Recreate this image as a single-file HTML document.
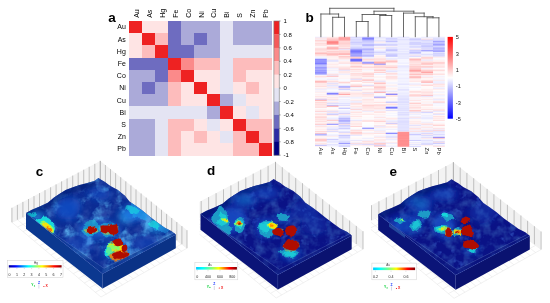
<!DOCTYPE html>
<html><head><meta charset="utf-8"><title>Figure</title>
<style>
html,body{margin:0;padding:0;background:#fff;}
body{width:550px;height:303px;overflow:hidden;}
svg{display:block;font-family:"Liberation Sans",sans-serif;}
.pl{font-weight:bold;font-size:13.5px;fill:#000;}
.t7{font-size:7px;fill:#000;}
.t5{font-size:6px;fill:#000;}
.t3{font-size:3.4px;fill:#222;}
</style></head><body>
<svg width="550" height="303" viewBox="0 0 550 303">
<rect width="550" height="303" fill="#fff"/>

<g shape-rendering="crispEdges">
<rect x="129.40" y="21.00" width="13.22" height="12.50" fill="#ee2222"/>
<rect x="142.32" y="21.00" width="13.22" height="12.50" fill="#fee4e4"/>
<rect x="155.24" y="21.00" width="13.22" height="12.50" fill="#fee4e4"/>
<rect x="168.15" y="21.00" width="13.22" height="12.50" fill="#6e6cc0"/>
<rect x="181.07" y="21.00" width="13.22" height="12.50" fill="#abaad9"/>
<rect x="193.99" y="21.00" width="13.22" height="12.50" fill="#abaad9"/>
<rect x="206.91" y="21.00" width="13.22" height="12.50" fill="#abaad9"/>
<rect x="219.83" y="21.00" width="13.22" height="12.50" fill="#e4e4f3"/>
<rect x="232.75" y="21.00" width="13.22" height="12.50" fill="#abaad9"/>
<rect x="245.66" y="21.00" width="13.22" height="12.50" fill="#abaad9"/>
<rect x="258.58" y="21.00" width="13.22" height="12.50" fill="#abaad9"/>
<rect x="129.40" y="33.20" width="13.22" height="12.50" fill="#fee4e4"/>
<rect x="142.32" y="33.20" width="13.22" height="12.50" fill="#ee2222"/>
<rect x="155.24" y="33.20" width="13.22" height="12.50" fill="#fdbcbc"/>
<rect x="168.15" y="33.20" width="13.22" height="12.50" fill="#6e6cc0"/>
<rect x="181.07" y="33.20" width="13.22" height="12.50" fill="#abaad9"/>
<rect x="193.99" y="33.20" width="13.22" height="12.50" fill="#6e6cc0"/>
<rect x="206.91" y="33.20" width="13.22" height="12.50" fill="#abaad9"/>
<rect x="219.83" y="33.20" width="13.22" height="12.50" fill="#e4e4f3"/>
<rect x="232.75" y="33.20" width="13.22" height="12.50" fill="#abaad9"/>
<rect x="245.66" y="33.20" width="13.22" height="12.50" fill="#abaad9"/>
<rect x="258.58" y="33.20" width="13.22" height="12.50" fill="#abaad9"/>
<rect x="129.40" y="45.40" width="13.22" height="12.50" fill="#fee4e4"/>
<rect x="142.32" y="45.40" width="13.22" height="12.50" fill="#fdbcbc"/>
<rect x="155.24" y="45.40" width="13.22" height="12.50" fill="#ee2222"/>
<rect x="168.15" y="45.40" width="13.22" height="12.50" fill="#6e6cc0"/>
<rect x="181.07" y="45.40" width="13.22" height="12.50" fill="#6e6cc0"/>
<rect x="193.99" y="45.40" width="13.22" height="12.50" fill="#abaad9"/>
<rect x="206.91" y="45.40" width="13.22" height="12.50" fill="#abaad9"/>
<rect x="219.83" y="45.40" width="13.22" height="12.50" fill="#e4e4f3"/>
<rect x="232.75" y="45.40" width="13.22" height="12.50" fill="#e4e4f3"/>
<rect x="245.66" y="45.40" width="13.22" height="12.50" fill="#e4e4f3"/>
<rect x="258.58" y="45.40" width="13.22" height="12.50" fill="#e4e4f3"/>
<rect x="129.40" y="57.60" width="13.22" height="12.50" fill="#6e6cc0"/>
<rect x="142.32" y="57.60" width="13.22" height="12.50" fill="#6e6cc0"/>
<rect x="155.24" y="57.60" width="13.22" height="12.50" fill="#6e6cc0"/>
<rect x="168.15" y="57.60" width="13.22" height="12.50" fill="#ee2222"/>
<rect x="181.07" y="57.60" width="13.22" height="12.50" fill="#fb8a8a"/>
<rect x="193.99" y="57.60" width="13.22" height="12.50" fill="#fdbcbc"/>
<rect x="206.91" y="57.60" width="13.22" height="12.50" fill="#fdbcbc"/>
<rect x="219.83" y="57.60" width="13.22" height="12.50" fill="#e4e4f3"/>
<rect x="232.75" y="57.60" width="13.22" height="12.50" fill="#fdbcbc"/>
<rect x="245.66" y="57.60" width="13.22" height="12.50" fill="#fdbcbc"/>
<rect x="258.58" y="57.60" width="13.22" height="12.50" fill="#fdbcbc"/>
<rect x="129.40" y="69.80" width="13.22" height="12.50" fill="#abaad9"/>
<rect x="142.32" y="69.80" width="13.22" height="12.50" fill="#abaad9"/>
<rect x="155.24" y="69.80" width="13.22" height="12.50" fill="#6e6cc0"/>
<rect x="168.15" y="69.80" width="13.22" height="12.50" fill="#fb8a8a"/>
<rect x="181.07" y="69.80" width="13.22" height="12.50" fill="#ee2222"/>
<rect x="193.99" y="69.80" width="13.22" height="12.50" fill="#fee4e4"/>
<rect x="206.91" y="69.80" width="13.22" height="12.50" fill="#fee4e4"/>
<rect x="219.83" y="69.80" width="13.22" height="12.50" fill="#e4e4f3"/>
<rect x="232.75" y="69.80" width="13.22" height="12.50" fill="#fdbcbc"/>
<rect x="245.66" y="69.80" width="13.22" height="12.50" fill="#fee4e4"/>
<rect x="258.58" y="69.80" width="13.22" height="12.50" fill="#fee4e4"/>
<rect x="129.40" y="82.00" width="13.22" height="12.50" fill="#abaad9"/>
<rect x="142.32" y="82.00" width="13.22" height="12.50" fill="#6e6cc0"/>
<rect x="155.24" y="82.00" width="13.22" height="12.50" fill="#abaad9"/>
<rect x="168.15" y="82.00" width="13.22" height="12.50" fill="#fdbcbc"/>
<rect x="181.07" y="82.00" width="13.22" height="12.50" fill="#fee4e4"/>
<rect x="193.99" y="82.00" width="13.22" height="12.50" fill="#ee2222"/>
<rect x="206.91" y="82.00" width="13.22" height="12.50" fill="#fee4e4"/>
<rect x="219.83" y="82.00" width="13.22" height="12.50" fill="#e4e4f3"/>
<rect x="232.75" y="82.00" width="13.22" height="12.50" fill="#fee4e4"/>
<rect x="245.66" y="82.00" width="13.22" height="12.50" fill="#fdbcbc"/>
<rect x="258.58" y="82.00" width="13.22" height="12.50" fill="#fee4e4"/>
<rect x="129.40" y="94.20" width="13.22" height="12.50" fill="#abaad9"/>
<rect x="142.32" y="94.20" width="13.22" height="12.50" fill="#abaad9"/>
<rect x="155.24" y="94.20" width="13.22" height="12.50" fill="#abaad9"/>
<rect x="168.15" y="94.20" width="13.22" height="12.50" fill="#fdbcbc"/>
<rect x="181.07" y="94.20" width="13.22" height="12.50" fill="#fee4e4"/>
<rect x="193.99" y="94.20" width="13.22" height="12.50" fill="#fee4e4"/>
<rect x="206.91" y="94.20" width="13.22" height="12.50" fill="#ee2222"/>
<rect x="219.83" y="94.20" width="13.22" height="12.50" fill="#abaad9"/>
<rect x="232.75" y="94.20" width="13.22" height="12.50" fill="#e4e4f3"/>
<rect x="245.66" y="94.20" width="13.22" height="12.50" fill="#fee4e4"/>
<rect x="258.58" y="94.20" width="13.22" height="12.50" fill="#fee4e4"/>
<rect x="129.40" y="106.40" width="13.22" height="12.50" fill="#e4e4f3"/>
<rect x="142.32" y="106.40" width="13.22" height="12.50" fill="#e4e4f3"/>
<rect x="155.24" y="106.40" width="13.22" height="12.50" fill="#e4e4f3"/>
<rect x="168.15" y="106.40" width="13.22" height="12.50" fill="#e4e4f3"/>
<rect x="181.07" y="106.40" width="13.22" height="12.50" fill="#e4e4f3"/>
<rect x="193.99" y="106.40" width="13.22" height="12.50" fill="#e4e4f3"/>
<rect x="206.91" y="106.40" width="13.22" height="12.50" fill="#abaad9"/>
<rect x="219.83" y="106.40" width="13.22" height="12.50" fill="#ee2222"/>
<rect x="232.75" y="106.40" width="13.22" height="12.50" fill="#fee4e4"/>
<rect x="245.66" y="106.40" width="13.22" height="12.50" fill="#e4e4f3"/>
<rect x="258.58" y="106.40" width="13.22" height="12.50" fill="#fee4e4"/>
<rect x="129.40" y="118.60" width="13.22" height="12.50" fill="#abaad9"/>
<rect x="142.32" y="118.60" width="13.22" height="12.50" fill="#abaad9"/>
<rect x="155.24" y="118.60" width="13.22" height="12.50" fill="#e4e4f3"/>
<rect x="168.15" y="118.60" width="13.22" height="12.50" fill="#fdbcbc"/>
<rect x="181.07" y="118.60" width="13.22" height="12.50" fill="#fdbcbc"/>
<rect x="193.99" y="118.60" width="13.22" height="12.50" fill="#fee4e4"/>
<rect x="206.91" y="118.60" width="13.22" height="12.50" fill="#e4e4f3"/>
<rect x="219.83" y="118.60" width="13.22" height="12.50" fill="#fee4e4"/>
<rect x="232.75" y="118.60" width="13.22" height="12.50" fill="#ee2222"/>
<rect x="245.66" y="118.60" width="13.22" height="12.50" fill="#fdbcbc"/>
<rect x="258.58" y="118.60" width="13.22" height="12.50" fill="#fdbcbc"/>
<rect x="129.40" y="130.80" width="13.22" height="12.50" fill="#abaad9"/>
<rect x="142.32" y="130.80" width="13.22" height="12.50" fill="#abaad9"/>
<rect x="155.24" y="130.80" width="13.22" height="12.50" fill="#e4e4f3"/>
<rect x="168.15" y="130.80" width="13.22" height="12.50" fill="#fdbcbc"/>
<rect x="181.07" y="130.80" width="13.22" height="12.50" fill="#fee4e4"/>
<rect x="193.99" y="130.80" width="13.22" height="12.50" fill="#fdbcbc"/>
<rect x="206.91" y="130.80" width="13.22" height="12.50" fill="#fee4e4"/>
<rect x="219.83" y="130.80" width="13.22" height="12.50" fill="#e4e4f3"/>
<rect x="232.75" y="130.80" width="13.22" height="12.50" fill="#fdbcbc"/>
<rect x="245.66" y="130.80" width="13.22" height="12.50" fill="#ee2222"/>
<rect x="258.58" y="130.80" width="13.22" height="12.50" fill="#fdbcbc"/>
<rect x="129.40" y="143.00" width="13.22" height="12.50" fill="#abaad9"/>
<rect x="142.32" y="143.00" width="13.22" height="12.50" fill="#abaad9"/>
<rect x="155.24" y="143.00" width="13.22" height="12.50" fill="#e4e4f3"/>
<rect x="168.15" y="143.00" width="13.22" height="12.50" fill="#fdbcbc"/>
<rect x="181.07" y="143.00" width="13.22" height="12.50" fill="#fee4e4"/>
<rect x="193.99" y="143.00" width="13.22" height="12.50" fill="#fee4e4"/>
<rect x="206.91" y="143.00" width="13.22" height="12.50" fill="#fee4e4"/>
<rect x="219.83" y="143.00" width="13.22" height="12.50" fill="#fee4e4"/>
<rect x="232.75" y="143.00" width="13.22" height="12.50" fill="#fdbcbc"/>
<rect x="245.66" y="143.00" width="13.22" height="12.50" fill="#fdbcbc"/>
<rect x="258.58" y="143.00" width="13.22" height="12.50" fill="#ee2222"/>
</g>
<text class="t7" x="125.8" y="29.30" text-anchor="end">Au</text>
<text class="t7" transform="translate(138.96,17.8) rotate(-90)">Au</text>
<text class="t7" x="125.8" y="41.50" text-anchor="end">As</text>
<text class="t7" transform="translate(151.88,17.8) rotate(-90)">As</text>
<text class="t7" x="125.8" y="53.70" text-anchor="end">Hg</text>
<text class="t7" transform="translate(164.80,17.8) rotate(-90)">Hg</text>
<text class="t7" x="125.8" y="65.90" text-anchor="end">Fe</text>
<text class="t7" transform="translate(177.71,17.8) rotate(-90)">Fe</text>
<text class="t7" x="125.8" y="78.10" text-anchor="end">Co</text>
<text class="t7" transform="translate(190.63,17.8) rotate(-90)">Co</text>
<text class="t7" x="125.8" y="90.30" text-anchor="end">Ni</text>
<text class="t7" transform="translate(203.55,17.8) rotate(-90)">Ni</text>
<text class="t7" x="125.8" y="102.50" text-anchor="end">Cu</text>
<text class="t7" transform="translate(216.47,17.8) rotate(-90)">Cu</text>
<text class="t7" x="125.8" y="114.70" text-anchor="end">Bi</text>
<text class="t7" transform="translate(229.39,17.8) rotate(-90)">Bi</text>
<text class="t7" x="125.8" y="126.90" text-anchor="end">S</text>
<text class="t7" transform="translate(242.30,17.8) rotate(-90)">S</text>
<text class="t7" x="125.8" y="139.10" text-anchor="end">Zn</text>
<text class="t7" transform="translate(255.22,17.8) rotate(-90)">Zn</text>
<text class="t7" x="125.8" y="151.30" text-anchor="end">Pb</text>
<text class="t7" transform="translate(268.14,17.8) rotate(-90)">Pb</text>
<text class="pl" x="108.3" y="21.8">a</text>
<rect x="273.9" y="21.00" width="5.30" height="13.62" fill="#ee2222"/>
<rect x="273.9" y="34.42" width="5.30" height="13.62" fill="#f55a5a"/>
<rect x="273.9" y="47.84" width="5.30" height="13.62" fill="#fb8a8a"/>
<rect x="273.9" y="61.26" width="5.30" height="13.62" fill="#fdbcbc"/>
<rect x="273.9" y="74.68" width="5.30" height="13.62" fill="#fee4e4"/>
<rect x="273.9" y="88.10" width="5.30" height="13.62" fill="#e4e4f3"/>
<rect x="273.9" y="101.52" width="5.30" height="13.62" fill="#abaad9"/>
<rect x="273.9" y="114.94" width="5.30" height="13.62" fill="#6e6cc0"/>
<rect x="273.9" y="128.36" width="5.30" height="13.62" fill="#2d2aa5"/>
<rect x="273.9" y="141.78" width="5.30" height="13.62" fill="#000080"/>
<rect x="273.9" y="21.0" width="5.30" height="134.20" fill="none" stroke="#777" stroke-width="0.6"/>
<line x1="279.2" x2="280.7" y1="21.00" y2="21.00" stroke="#555" stroke-width="0.5"/>
<text class="t5" x="283.4" y="23.20">1</text>
<line x1="279.2" x2="280.7" y1="34.42" y2="34.42" stroke="#555" stroke-width="0.5"/>
<text class="t5" x="283.4" y="36.62">0.8</text>
<line x1="279.2" x2="280.7" y1="47.84" y2="47.84" stroke="#555" stroke-width="0.5"/>
<text class="t5" x="283.4" y="50.04">0.6</text>
<line x1="279.2" x2="280.7" y1="61.26" y2="61.26" stroke="#555" stroke-width="0.5"/>
<text class="t5" x="283.4" y="63.46">0.4</text>
<line x1="279.2" x2="280.7" y1="74.68" y2="74.68" stroke="#555" stroke-width="0.5"/>
<text class="t5" x="283.4" y="76.88">0.2</text>
<line x1="279.2" x2="280.7" y1="88.10" y2="88.10" stroke="#555" stroke-width="0.5"/>
<text class="t5" x="283.4" y="90.30">0</text>
<line x1="279.2" x2="280.7" y1="101.52" y2="101.52" stroke="#555" stroke-width="0.5"/>
<text class="t5" x="283.4" y="103.72">-0.2</text>
<line x1="279.2" x2="280.7" y1="114.94" y2="114.94" stroke="#555" stroke-width="0.5"/>
<text class="t5" x="283.4" y="117.14">-0.4</text>
<line x1="279.2" x2="280.7" y1="128.36" y2="128.36" stroke="#555" stroke-width="0.5"/>
<text class="t5" x="283.4" y="130.56">-0.6</text>
<line x1="279.2" x2="280.7" y1="141.78" y2="141.78" stroke="#555" stroke-width="0.5"/>
<text class="t5" x="283.4" y="143.98">-0.8</text>
<line x1="279.2" x2="280.7" y1="155.20" y2="155.20" stroke="#555" stroke-width="0.5"/>
<text class="t5" x="283.4" y="157.40">-1</text>
<defs><filter id="vb" x="0" y="-5%" width="100%" height="110%"><feGaussianBlur stdDeviation="0 0.45"/></filter><clipPath id="cb"><rect x="315.0" y="36.7" width="129.8" height="110.10000000000001"/></clipPath></defs>
<g clip-path="url(#cb)"><g filter="url(#vb)">
<rect x="315.00" y="33.70" width="12.00" height="1.15" fill="#ebebff"/>
<rect x="315.00" y="34.70" width="12.00" height="1.15" fill="#ebebff"/>
<rect x="315.00" y="35.70" width="12.00" height="1.15" fill="#ebebff"/>
<rect x="315.00" y="36.70" width="12.00" height="1.15" fill="#ebebff"/>
<rect x="315.00" y="37.70" width="12.00" height="1.15" fill="#ffdfdf"/>
<rect x="315.00" y="38.70" width="12.00" height="1.15" fill="#f6f6ff"/>
<rect x="315.00" y="39.70" width="12.00" height="1.15" fill="#ffcdcd"/>
<rect x="315.00" y="40.70" width="12.00" height="1.15" fill="#ffd6d6"/>
<rect x="315.00" y="41.70" width="12.00" height="1.15" fill="#fff4f4"/>
<rect x="315.00" y="42.71" width="12.00" height="1.15" fill="#ffd3d3"/>
<rect x="315.00" y="43.71" width="12.00" height="1.15" fill="#ffe4e4"/>
<rect x="315.00" y="44.71" width="12.00" height="1.15" fill="#ffdada"/>
<rect x="315.00" y="45.71" width="12.00" height="1.15" fill="#fff4f4"/>
<rect x="315.00" y="46.71" width="12.00" height="1.15" fill="#fffafa"/>
<rect x="315.00" y="47.71" width="12.00" height="1.15" fill="#ffdfdf"/>
<rect x="315.00" y="48.71" width="12.00" height="1.15" fill="#ffd8d8"/>
<rect x="315.00" y="49.71" width="12.00" height="1.15" fill="#ffd7d7"/>
<rect x="315.00" y="50.71" width="12.00" height="1.15" fill="#ffe5e5"/>
<rect x="315.00" y="51.71" width="12.00" height="1.15" fill="#ffdddd"/>
<rect x="315.00" y="52.71" width="12.00" height="1.15" fill="#ffa8a8"/>
<rect x="315.00" y="53.72" width="12.00" height="1.15" fill="#ffd3d3"/>
<rect x="315.00" y="54.72" width="12.00" height="1.15" fill="#ffd8d8"/>
<rect x="315.00" y="55.72" width="12.00" height="1.15" fill="#fff0f0"/>
<rect x="315.00" y="56.72" width="12.00" height="1.15" fill="#ededff"/>
<rect x="315.00" y="57.72" width="12.00" height="1.15" fill="#fdfdff"/>
<rect x="315.00" y="58.72" width="12.00" height="1.15" fill="#7878ff"/>
<rect x="315.00" y="59.72" width="12.00" height="1.15" fill="#9292ff"/>
<rect x="315.00" y="60.72" width="12.00" height="1.15" fill="#8484ff"/>
<rect x="315.00" y="61.72" width="12.00" height="1.15" fill="#9797ff"/>
<rect x="315.00" y="62.72" width="12.00" height="1.15" fill="#6363ff"/>
<rect x="315.00" y="63.72" width="12.00" height="1.15" fill="#9393ff"/>
<rect x="315.00" y="64.73" width="12.00" height="1.15" fill="#b3b3ff"/>
<rect x="315.00" y="65.73" width="12.00" height="1.15" fill="#c5c5ff"/>
<rect x="315.00" y="66.73" width="12.00" height="1.15" fill="#9292ff"/>
<rect x="315.00" y="67.73" width="12.00" height="1.15" fill="#9494ff"/>
<rect x="315.00" y="68.73" width="12.00" height="1.15" fill="#b6b6ff"/>
<rect x="315.00" y="69.73" width="12.00" height="1.15" fill="#8888ff"/>
<rect x="315.00" y="70.73" width="12.00" height="1.15" fill="#a5a5ff"/>
<rect x="315.00" y="71.73" width="12.00" height="1.15" fill="#8181ff"/>
<rect x="315.00" y="72.73" width="12.00" height="1.15" fill="#8d8dff"/>
<rect x="315.00" y="73.73" width="12.00" height="1.15" fill="#9b9bff"/>
<rect x="315.00" y="74.73" width="12.00" height="1.15" fill="#fcfcff"/>
<rect x="315.00" y="75.74" width="12.00" height="1.15" fill="#ffd9d9"/>
<rect x="315.00" y="76.74" width="12.00" height="1.15" fill="#ffeaea"/>
<rect x="315.00" y="77.74" width="12.00" height="1.15" fill="#f6f6ff"/>
<rect x="315.00" y="78.74" width="12.00" height="1.15" fill="#f6f6ff"/>
<rect x="315.00" y="79.74" width="12.00" height="1.15" fill="#fff2f2"/>
<rect x="315.00" y="80.74" width="12.00" height="1.15" fill="#ffb4b4"/>
<rect x="315.00" y="81.74" width="12.00" height="1.15" fill="#ffb5b5"/>
<rect x="315.00" y="82.74" width="12.00" height="1.15" fill="#ffeaea"/>
<rect x="315.00" y="83.74" width="12.00" height="1.15" fill="#ffe3e3"/>
<rect x="315.00" y="84.74" width="12.00" height="1.15" fill="#fff1f1"/>
<rect x="315.00" y="85.74" width="12.00" height="1.15" fill="#ffd3d3"/>
<rect x="315.00" y="86.75" width="12.00" height="1.15" fill="#fff7f7"/>
<rect x="315.00" y="87.75" width="12.00" height="1.15" fill="#ffeaea"/>
<rect x="315.00" y="88.75" width="12.00" height="1.15" fill="#eaeaff"/>
<rect x="315.00" y="89.75" width="12.00" height="1.15" fill="#fff3f3"/>
<rect x="315.00" y="90.75" width="12.00" height="1.15" fill="#f3f3ff"/>
<rect x="315.00" y="91.75" width="12.00" height="1.15" fill="#ffe7e7"/>
<rect x="315.00" y="92.75" width="12.00" height="1.15" fill="#fffefe"/>
<rect x="315.00" y="93.75" width="12.00" height="1.15" fill="#ffebeb"/>
<rect x="315.00" y="94.75" width="12.00" height="1.15" fill="#fcfcff"/>
<rect x="315.00" y="95.75" width="12.00" height="1.15" fill="#ffdede"/>
<rect x="315.00" y="96.75" width="12.00" height="1.15" fill="#fff4f4"/>
<rect x="315.00" y="97.76" width="12.00" height="1.15" fill="#ffe8e8"/>
<rect x="315.00" y="98.76" width="12.00" height="1.15" fill="#d5d5ff"/>
<rect x="315.00" y="99.76" width="12.00" height="1.15" fill="#ff9f9f"/>
<rect x="315.00" y="100.76" width="12.00" height="1.15" fill="#fff4f4"/>
<rect x="315.00" y="101.76" width="12.00" height="1.15" fill="#ffd3d3"/>
<rect x="315.00" y="102.76" width="12.00" height="1.15" fill="#ffe8e8"/>
<rect x="315.00" y="103.76" width="12.00" height="1.15" fill="#ffdbdb"/>
<rect x="315.00" y="104.76" width="12.00" height="1.15" fill="#ffe4e4"/>
<rect x="315.00" y="105.76" width="12.00" height="1.15" fill="#ffe8e8"/>
<rect x="315.00" y="106.76" width="12.00" height="1.15" fill="#ffd3d3"/>
<rect x="315.00" y="107.76" width="12.00" height="1.15" fill="#fdfdff"/>
<rect x="315.00" y="108.77" width="12.00" height="1.15" fill="#ffeeee"/>
<rect x="315.00" y="109.77" width="12.00" height="1.15" fill="#fff7f7"/>
<rect x="315.00" y="110.77" width="12.00" height="1.15" fill="#ffcaca"/>
<rect x="315.00" y="111.77" width="12.00" height="1.15" fill="#f7f7ff"/>
<rect x="315.00" y="112.77" width="12.00" height="1.15" fill="#ffeeee"/>
<rect x="315.00" y="113.77" width="12.00" height="1.15" fill="#ffd9d9"/>
<rect x="315.00" y="114.77" width="12.00" height="1.15" fill="#fff6f6"/>
<rect x="315.00" y="115.77" width="12.00" height="1.15" fill="#ffe4e4"/>
<rect x="315.00" y="116.77" width="12.00" height="1.15" fill="#ffd0d0"/>
<rect x="315.00" y="117.77" width="12.00" height="1.15" fill="#ffebeb"/>
<rect x="315.00" y="118.77" width="12.00" height="1.15" fill="#ffdddd"/>
<rect x="315.00" y="119.78" width="12.00" height="1.15" fill="#fff0f0"/>
<rect x="315.00" y="120.78" width="12.00" height="1.15" fill="#ffd7d7"/>
<rect x="315.00" y="121.78" width="12.00" height="1.15" fill="#fff1f1"/>
<rect x="315.00" y="122.78" width="12.00" height="1.15" fill="#fff0f0"/>
<rect x="315.00" y="123.78" width="12.00" height="1.15" fill="#ffc2c2"/>
<rect x="315.00" y="124.78" width="12.00" height="1.15" fill="#f2f2ff"/>
<rect x="315.00" y="125.78" width="12.00" height="1.15" fill="#ffdede"/>
<rect x="315.00" y="126.78" width="12.00" height="1.15" fill="#ffefef"/>
<rect x="315.00" y="127.78" width="12.00" height="1.15" fill="#fff9f9"/>
<rect x="315.00" y="128.78" width="12.00" height="1.15" fill="#ffe8e8"/>
<rect x="315.00" y="129.78" width="12.00" height="1.15" fill="#fefeff"/>
<rect x="315.00" y="130.79" width="12.00" height="1.15" fill="#ffcfcf"/>
<rect x="315.00" y="131.79" width="12.00" height="1.15" fill="#fff9f9"/>
<rect x="315.00" y="132.79" width="12.00" height="1.15" fill="#ffc6c6"/>
<rect x="315.00" y="133.79" width="12.00" height="1.15" fill="#adadff"/>
<rect x="315.00" y="134.79" width="12.00" height="1.15" fill="#cacaff"/>
<rect x="315.00" y="135.79" width="12.00" height="1.15" fill="#fff1f1"/>
<rect x="315.00" y="136.79" width="12.00" height="1.15" fill="#fff7f7"/>
<rect x="315.00" y="137.79" width="12.00" height="1.15" fill="#fff1f1"/>
<rect x="315.00" y="138.79" width="12.00" height="1.15" fill="#ffc8c8"/>
<rect x="315.00" y="139.79" width="12.00" height="1.15" fill="#ffc4c4"/>
<rect x="315.00" y="140.79" width="12.00" height="1.15" fill="#ffd8d8"/>
<rect x="315.00" y="141.80" width="12.00" height="1.15" fill="#fafaff"/>
<rect x="315.00" y="142.80" width="12.00" height="1.15" fill="#ffe2e2"/>
<rect x="315.00" y="143.80" width="12.00" height="1.15" fill="#ffefef"/>
<rect x="315.00" y="144.80" width="12.00" height="1.15" fill="#b7b7ff"/>
<rect x="315.00" y="145.80" width="12.00" height="1.15" fill="#fff1f1"/>
<rect x="315.00" y="146.80" width="12.00" height="1.15" fill="#fff1f1"/>
<rect x="315.00" y="147.80" width="12.00" height="1.15" fill="#fff1f1"/>
<rect x="315.00" y="148.80" width="12.00" height="1.15" fill="#fff1f1"/>
<rect x="326.80" y="33.70" width="12.00" height="1.15" fill="#ffe8e8"/>
<rect x="326.80" y="34.70" width="12.00" height="1.15" fill="#ffe8e8"/>
<rect x="326.80" y="35.70" width="12.00" height="1.15" fill="#ffe8e8"/>
<rect x="326.80" y="36.70" width="12.00" height="1.15" fill="#ffe8e8"/>
<rect x="326.80" y="37.70" width="12.00" height="1.15" fill="#ffd5d5"/>
<rect x="326.80" y="38.70" width="12.00" height="1.15" fill="#ffbdbd"/>
<rect x="326.80" y="39.70" width="12.00" height="1.15" fill="#ffcaca"/>
<rect x="326.80" y="40.70" width="12.00" height="1.15" fill="#ff8f8f"/>
<rect x="326.80" y="41.70" width="12.00" height="1.15" fill="#ff7070"/>
<rect x="326.80" y="42.71" width="12.00" height="1.15" fill="#ff8484"/>
<rect x="326.80" y="43.71" width="12.00" height="1.15" fill="#ff8a8a"/>
<rect x="326.80" y="44.71" width="12.00" height="1.15" fill="#fff5f5"/>
<rect x="326.80" y="45.71" width="12.00" height="1.15" fill="#ffe9e9"/>
<rect x="326.80" y="46.71" width="12.00" height="1.15" fill="#ffb9b9"/>
<rect x="326.80" y="47.71" width="12.00" height="1.15" fill="#ffabab"/>
<rect x="326.80" y="48.71" width="12.00" height="1.15" fill="#ffb4b4"/>
<rect x="326.80" y="49.71" width="12.00" height="1.15" fill="#fff3f3"/>
<rect x="326.80" y="50.71" width="12.00" height="1.15" fill="#ffc4c4"/>
<rect x="326.80" y="51.71" width="12.00" height="1.15" fill="#ffdddd"/>
<rect x="326.80" y="52.71" width="12.00" height="1.15" fill="#ffc2c2"/>
<rect x="326.80" y="53.72" width="12.00" height="1.15" fill="#ffb2b2"/>
<rect x="326.80" y="54.72" width="12.00" height="1.15" fill="#ffbfbf"/>
<rect x="326.80" y="55.72" width="12.00" height="1.15" fill="#ffeded"/>
<rect x="326.80" y="56.72" width="12.00" height="1.15" fill="#ffeded"/>
<rect x="326.80" y="57.72" width="12.00" height="1.15" fill="#fff6f6"/>
<rect x="326.80" y="58.72" width="12.00" height="1.15" fill="#ffeaea"/>
<rect x="326.80" y="59.72" width="12.00" height="1.15" fill="#e5e5ff"/>
<rect x="326.80" y="60.72" width="12.00" height="1.15" fill="#dcdcff"/>
<rect x="326.80" y="61.72" width="12.00" height="1.15" fill="#fff4f4"/>
<rect x="326.80" y="62.72" width="12.00" height="1.15" fill="#fff8f8"/>
<rect x="326.80" y="63.72" width="12.00" height="1.15" fill="#ffe6e6"/>
<rect x="326.80" y="64.73" width="12.00" height="1.15" fill="#fff4f4"/>
<rect x="326.80" y="65.73" width="12.00" height="1.15" fill="#fff1f1"/>
<rect x="326.80" y="66.73" width="12.00" height="1.15" fill="#ffe3e3"/>
<rect x="326.80" y="67.73" width="12.00" height="1.15" fill="#ebebff"/>
<rect x="326.80" y="68.73" width="12.00" height="1.15" fill="#fff9f9"/>
<rect x="326.80" y="69.73" width="12.00" height="1.15" fill="#ededff"/>
<rect x="326.80" y="70.73" width="12.00" height="1.15" fill="#fff7f7"/>
<rect x="326.80" y="71.73" width="12.00" height="1.15" fill="#f7f7ff"/>
<rect x="326.80" y="72.73" width="12.00" height="1.15" fill="#f8f8ff"/>
<rect x="326.80" y="73.73" width="12.00" height="1.15" fill="#ffd9d9"/>
<rect x="326.80" y="74.73" width="12.00" height="1.15" fill="#ededff"/>
<rect x="326.80" y="75.74" width="12.00" height="1.15" fill="#ffb3b3"/>
<rect x="326.80" y="76.74" width="12.00" height="1.15" fill="#f6f6ff"/>
<rect x="326.80" y="77.74" width="12.00" height="1.15" fill="#fff8f8"/>
<rect x="326.80" y="78.74" width="12.00" height="1.15" fill="#e9e9ff"/>
<rect x="326.80" y="79.74" width="12.00" height="1.15" fill="#fff8f8"/>
<rect x="326.80" y="80.74" width="12.00" height="1.15" fill="#ffd5d5"/>
<rect x="326.80" y="81.74" width="12.00" height="1.15" fill="#ffeded"/>
<rect x="326.80" y="82.74" width="12.00" height="1.15" fill="#dbdbff"/>
<rect x="326.80" y="83.74" width="12.00" height="1.15" fill="#ffeaea"/>
<rect x="326.80" y="84.74" width="12.00" height="1.15" fill="#e1e1ff"/>
<rect x="326.80" y="85.74" width="12.00" height="1.15" fill="#ebebff"/>
<rect x="326.80" y="86.75" width="12.00" height="1.15" fill="#ffe9e9"/>
<rect x="326.80" y="87.75" width="12.00" height="1.15" fill="#ececff"/>
<rect x="326.80" y="88.75" width="12.00" height="1.15" fill="#f2f2ff"/>
<rect x="326.80" y="89.75" width="12.00" height="1.15" fill="#fefeff"/>
<rect x="326.80" y="90.75" width="12.00" height="1.15" fill="#f2f2ff"/>
<rect x="326.80" y="91.75" width="12.00" height="1.15" fill="#fbfbff"/>
<rect x="326.80" y="92.75" width="12.00" height="1.15" fill="#7070ff"/>
<rect x="326.80" y="93.75" width="12.00" height="1.15" fill="#8e8eff"/>
<rect x="326.80" y="94.75" width="12.00" height="1.15" fill="#ffe7e7"/>
<rect x="326.80" y="95.75" width="12.00" height="1.15" fill="#f7f7ff"/>
<rect x="326.80" y="96.75" width="12.00" height="1.15" fill="#ffe5e5"/>
<rect x="326.80" y="97.76" width="12.00" height="1.15" fill="#fff3f3"/>
<rect x="326.80" y="98.76" width="12.00" height="1.15" fill="#ffdfdf"/>
<rect x="326.80" y="99.76" width="12.00" height="1.15" fill="#e7e7ff"/>
<rect x="326.80" y="100.76" width="12.00" height="1.15" fill="#fff2f2"/>
<rect x="326.80" y="101.76" width="12.00" height="1.15" fill="#ffeeee"/>
<rect x="326.80" y="102.76" width="12.00" height="1.15" fill="#d0d0ff"/>
<rect x="326.80" y="103.76" width="12.00" height="1.15" fill="#fffdfd"/>
<rect x="326.80" y="104.76" width="12.00" height="1.15" fill="#bdbdff"/>
<rect x="326.80" y="105.76" width="12.00" height="1.15" fill="#ffa1a1"/>
<rect x="326.80" y="106.76" width="12.00" height="1.15" fill="#f9f9ff"/>
<rect x="326.80" y="107.76" width="12.00" height="1.15" fill="#fffdfd"/>
<rect x="326.80" y="108.77" width="12.00" height="1.15" fill="#fffbfb"/>
<rect x="326.80" y="109.77" width="12.00" height="1.15" fill="#ffeded"/>
<rect x="326.80" y="110.77" width="12.00" height="1.15" fill="#dedeff"/>
<rect x="326.80" y="111.77" width="12.00" height="1.15" fill="#ffe1e1"/>
<rect x="326.80" y="112.77" width="12.00" height="1.15" fill="#eaeaff"/>
<rect x="326.80" y="113.77" width="12.00" height="1.15" fill="#c0c0ff"/>
<rect x="326.80" y="114.77" width="12.00" height="1.15" fill="#ffe8e8"/>
<rect x="326.80" y="115.77" width="12.00" height="1.15" fill="#fffafa"/>
<rect x="326.80" y="116.77" width="12.00" height="1.15" fill="#f8f8ff"/>
<rect x="326.80" y="117.77" width="12.00" height="1.15" fill="#eaeaff"/>
<rect x="326.80" y="118.77" width="12.00" height="1.15" fill="#efefff"/>
<rect x="326.80" y="119.78" width="12.00" height="1.15" fill="#ffc0c0"/>
<rect x="326.80" y="120.78" width="12.00" height="1.15" fill="#f4f4ff"/>
<rect x="326.80" y="121.78" width="12.00" height="1.15" fill="#ffeded"/>
<rect x="326.80" y="122.78" width="12.00" height="1.15" fill="#ffecec"/>
<rect x="326.80" y="123.78" width="12.00" height="1.15" fill="#8181ff"/>
<rect x="326.80" y="124.78" width="12.00" height="1.15" fill="#fffbfb"/>
<rect x="326.80" y="125.78" width="12.00" height="1.15" fill="#ffebeb"/>
<rect x="326.80" y="126.78" width="12.00" height="1.15" fill="#ececff"/>
<rect x="326.80" y="127.78" width="12.00" height="1.15" fill="#efefff"/>
<rect x="326.80" y="128.78" width="12.00" height="1.15" fill="#d3d3ff"/>
<rect x="326.80" y="129.78" width="12.00" height="1.15" fill="#ffefef"/>
<rect x="326.80" y="130.79" width="12.00" height="1.15" fill="#d4d4ff"/>
<rect x="326.80" y="131.79" width="12.00" height="1.15" fill="#fff3f3"/>
<rect x="326.80" y="132.79" width="12.00" height="1.15" fill="#fefeff"/>
<rect x="326.80" y="133.79" width="12.00" height="1.15" fill="#f5f5ff"/>
<rect x="326.80" y="134.79" width="12.00" height="1.15" fill="#ececff"/>
<rect x="326.80" y="135.79" width="12.00" height="1.15" fill="#ffebeb"/>
<rect x="326.80" y="136.79" width="12.00" height="1.15" fill="#f8f8ff"/>
<rect x="326.80" y="137.79" width="12.00" height="1.15" fill="#fffefe"/>
<rect x="326.80" y="138.79" width="12.00" height="1.15" fill="#c4c4ff"/>
<rect x="326.80" y="139.79" width="12.00" height="1.15" fill="#efefff"/>
<rect x="326.80" y="140.79" width="12.00" height="1.15" fill="#e6e6ff"/>
<rect x="326.80" y="141.80" width="12.00" height="1.15" fill="#e5e5ff"/>
<rect x="326.80" y="142.80" width="12.00" height="1.15" fill="#fffdfd"/>
<rect x="326.80" y="143.80" width="12.00" height="1.15" fill="#e1e1ff"/>
<rect x="326.80" y="144.80" width="12.00" height="1.15" fill="#ececff"/>
<rect x="326.80" y="145.80" width="12.00" height="1.15" fill="#f2f2ff"/>
<rect x="326.80" y="146.80" width="12.00" height="1.15" fill="#f2f2ff"/>
<rect x="326.80" y="147.80" width="12.00" height="1.15" fill="#f2f2ff"/>
<rect x="326.80" y="148.80" width="12.00" height="1.15" fill="#f2f2ff"/>
<rect x="338.60" y="33.70" width="12.00" height="1.15" fill="#ffa9a9"/>
<rect x="338.60" y="34.70" width="12.00" height="1.15" fill="#ffa9a9"/>
<rect x="338.60" y="35.70" width="12.00" height="1.15" fill="#ffa9a9"/>
<rect x="338.60" y="36.70" width="12.00" height="1.15" fill="#ffa9a9"/>
<rect x="338.60" y="37.70" width="12.00" height="1.15" fill="#ff9898"/>
<rect x="338.60" y="38.70" width="12.00" height="1.15" fill="#ff9999"/>
<rect x="338.60" y="39.70" width="12.00" height="1.15" fill="#ffa3a3"/>
<rect x="338.60" y="40.70" width="12.00" height="1.15" fill="#ffd4d4"/>
<rect x="338.60" y="41.70" width="12.00" height="1.15" fill="#ffd1d1"/>
<rect x="338.60" y="42.71" width="12.00" height="1.15" fill="#ffcaca"/>
<rect x="338.60" y="43.71" width="12.00" height="1.15" fill="#ffcdcd"/>
<rect x="338.60" y="44.71" width="12.00" height="1.15" fill="#ffe0e0"/>
<rect x="338.60" y="45.71" width="12.00" height="1.15" fill="#ffcbcb"/>
<rect x="338.60" y="46.71" width="12.00" height="1.15" fill="#fff4f4"/>
<rect x="338.60" y="47.71" width="12.00" height="1.15" fill="#ffc3c3"/>
<rect x="338.60" y="48.71" width="12.00" height="1.15" fill="#ddddff"/>
<rect x="338.60" y="49.71" width="12.00" height="1.15" fill="#ffe3e3"/>
<rect x="338.60" y="50.71" width="12.00" height="1.15" fill="#ffcece"/>
<rect x="338.60" y="51.71" width="12.00" height="1.15" fill="#ffd4d4"/>
<rect x="338.60" y="52.71" width="12.00" height="1.15" fill="#ffc8c8"/>
<rect x="338.60" y="53.72" width="12.00" height="1.15" fill="#ff9090"/>
<rect x="338.60" y="54.72" width="12.00" height="1.15" fill="#fffafa"/>
<rect x="338.60" y="55.72" width="12.00" height="1.15" fill="#ffbfbf"/>
<rect x="338.60" y="56.72" width="12.00" height="1.15" fill="#ffd4d4"/>
<rect x="338.60" y="57.72" width="12.00" height="1.15" fill="#ffd8d8"/>
<rect x="338.60" y="58.72" width="12.00" height="1.15" fill="#ffebeb"/>
<rect x="338.60" y="59.72" width="12.00" height="1.15" fill="#f4f4ff"/>
<rect x="338.60" y="60.72" width="12.00" height="1.15" fill="#ffefef"/>
<rect x="338.60" y="61.72" width="12.00" height="1.15" fill="#ffecec"/>
<rect x="338.60" y="62.72" width="12.00" height="1.15" fill="#ffd9d9"/>
<rect x="338.60" y="63.72" width="12.00" height="1.15" fill="#f6f6ff"/>
<rect x="338.60" y="64.73" width="12.00" height="1.15" fill="#fffbfb"/>
<rect x="338.60" y="65.73" width="12.00" height="1.15" fill="#fff0f0"/>
<rect x="338.60" y="66.73" width="12.00" height="1.15" fill="#ffe3e3"/>
<rect x="338.60" y="67.73" width="12.00" height="1.15" fill="#ffdfdf"/>
<rect x="338.60" y="68.73" width="12.00" height="1.15" fill="#ffd1d1"/>
<rect x="338.60" y="69.73" width="12.00" height="1.15" fill="#e0e0ff"/>
<rect x="338.60" y="70.73" width="12.00" height="1.15" fill="#ffe8e8"/>
<rect x="338.60" y="71.73" width="12.00" height="1.15" fill="#ffe2e2"/>
<rect x="338.60" y="72.73" width="12.00" height="1.15" fill="#ffefef"/>
<rect x="338.60" y="73.73" width="12.00" height="1.15" fill="#e8e8ff"/>
<rect x="338.60" y="74.73" width="12.00" height="1.15" fill="#fff7f7"/>
<rect x="338.60" y="75.74" width="12.00" height="1.15" fill="#fff6f6"/>
<rect x="338.60" y="76.74" width="12.00" height="1.15" fill="#fff8f8"/>
<rect x="338.60" y="77.74" width="12.00" height="1.15" fill="#fff2f2"/>
<rect x="338.60" y="78.74" width="12.00" height="1.15" fill="#fafaff"/>
<rect x="338.60" y="79.74" width="12.00" height="1.15" fill="#f9f9ff"/>
<rect x="338.60" y="80.74" width="12.00" height="1.15" fill="#fdfdff"/>
<rect x="338.60" y="81.74" width="12.00" height="1.15" fill="#ffcaca"/>
<rect x="338.60" y="82.74" width="12.00" height="1.15" fill="#ffe7e7"/>
<rect x="338.60" y="83.74" width="12.00" height="1.15" fill="#f3f3ff"/>
<rect x="338.60" y="84.74" width="12.00" height="1.15" fill="#fffefe"/>
<rect x="338.60" y="85.74" width="12.00" height="1.15" fill="#b2b2ff"/>
<rect x="338.60" y="86.75" width="12.00" height="1.15" fill="#a3a3ff"/>
<rect x="338.60" y="87.75" width="12.00" height="1.15" fill="#ffe1e1"/>
<rect x="338.60" y="88.75" width="12.00" height="1.15" fill="#c5c5ff"/>
<rect x="338.60" y="89.75" width="12.00" height="1.15" fill="#f0f0ff"/>
<rect x="338.60" y="90.75" width="12.00" height="1.15" fill="#fffefe"/>
<rect x="338.60" y="91.75" width="12.00" height="1.15" fill="#ffd7d7"/>
<rect x="338.60" y="92.75" width="12.00" height="1.15" fill="#fff1f1"/>
<rect x="338.60" y="93.75" width="12.00" height="1.15" fill="#ff8484"/>
<rect x="338.60" y="94.75" width="12.00" height="1.15" fill="#fff6f6"/>
<rect x="338.60" y="95.75" width="12.00" height="1.15" fill="#ffe6e6"/>
<rect x="338.60" y="96.75" width="12.00" height="1.15" fill="#e8e8ff"/>
<rect x="338.60" y="97.76" width="12.00" height="1.15" fill="#fffefe"/>
<rect x="338.60" y="98.76" width="12.00" height="1.15" fill="#eeeeff"/>
<rect x="338.60" y="99.76" width="12.00" height="1.15" fill="#f3f3ff"/>
<rect x="338.60" y="100.76" width="12.00" height="1.15" fill="#ededff"/>
<rect x="338.60" y="101.76" width="12.00" height="1.15" fill="#f8f8ff"/>
<rect x="338.60" y="102.76" width="12.00" height="1.15" fill="#d7d7ff"/>
<rect x="338.60" y="103.76" width="12.00" height="1.15" fill="#f4f4ff"/>
<rect x="338.60" y="104.76" width="12.00" height="1.15" fill="#cfcfff"/>
<rect x="338.60" y="105.76" width="12.00" height="1.15" fill="#fff7f7"/>
<rect x="338.60" y="106.76" width="12.00" height="1.15" fill="#f7f7ff"/>
<rect x="338.60" y="107.76" width="12.00" height="1.15" fill="#b6b6ff"/>
<rect x="338.60" y="108.77" width="12.00" height="1.15" fill="#fdfdff"/>
<rect x="338.60" y="109.77" width="12.00" height="1.15" fill="#f3f3ff"/>
<rect x="338.60" y="110.77" width="12.00" height="1.15" fill="#ebebff"/>
<rect x="338.60" y="111.77" width="12.00" height="1.15" fill="#f3f3ff"/>
<rect x="338.60" y="112.77" width="12.00" height="1.15" fill="#cbcbff"/>
<rect x="338.60" y="113.77" width="12.00" height="1.15" fill="#ffe5e5"/>
<rect x="338.60" y="114.77" width="12.00" height="1.15" fill="#f0f0ff"/>
<rect x="338.60" y="115.77" width="12.00" height="1.15" fill="#e0e0ff"/>
<rect x="338.60" y="116.77" width="12.00" height="1.15" fill="#e2e2ff"/>
<rect x="338.60" y="117.77" width="12.00" height="1.15" fill="#b1b1ff"/>
<rect x="338.60" y="118.77" width="12.00" height="1.15" fill="#c8c8ff"/>
<rect x="338.60" y="119.78" width="12.00" height="1.15" fill="#a9a9ff"/>
<rect x="338.60" y="120.78" width="12.00" height="1.15" fill="#a8a8ff"/>
<rect x="338.60" y="121.78" width="12.00" height="1.15" fill="#dcdcff"/>
<rect x="338.60" y="122.78" width="12.00" height="1.15" fill="#bbbbff"/>
<rect x="338.60" y="123.78" width="12.00" height="1.15" fill="#ffe3e3"/>
<rect x="338.60" y="124.78" width="12.00" height="1.15" fill="#cdcdff"/>
<rect x="338.60" y="125.78" width="12.00" height="1.15" fill="#d2d2ff"/>
<rect x="338.60" y="126.78" width="12.00" height="1.15" fill="#ebebff"/>
<rect x="338.60" y="127.78" width="12.00" height="1.15" fill="#c4c4ff"/>
<rect x="338.60" y="128.78" width="12.00" height="1.15" fill="#e7e7ff"/>
<rect x="338.60" y="129.78" width="12.00" height="1.15" fill="#fbfbff"/>
<rect x="338.60" y="130.79" width="12.00" height="1.15" fill="#ebebff"/>
<rect x="338.60" y="131.79" width="12.00" height="1.15" fill="#d3d3ff"/>
<rect x="338.60" y="132.79" width="12.00" height="1.15" fill="#ffe9e9"/>
<rect x="338.60" y="133.79" width="12.00" height="1.15" fill="#fff8f8"/>
<rect x="338.60" y="134.79" width="12.00" height="1.15" fill="#bfbfff"/>
<rect x="338.60" y="135.79" width="12.00" height="1.15" fill="#dfdfff"/>
<rect x="338.60" y="136.79" width="12.00" height="1.15" fill="#d5d5ff"/>
<rect x="338.60" y="137.79" width="12.00" height="1.15" fill="#e4e4ff"/>
<rect x="338.60" y="138.79" width="12.00" height="1.15" fill="#f0f0ff"/>
<rect x="338.60" y="139.79" width="12.00" height="1.15" fill="#efefff"/>
<rect x="338.60" y="140.79" width="12.00" height="1.15" fill="#d7d7ff"/>
<rect x="338.60" y="141.80" width="12.00" height="1.15" fill="#ebebff"/>
<rect x="338.60" y="142.80" width="12.00" height="1.15" fill="#8484ff"/>
<rect x="338.60" y="143.80" width="12.00" height="1.15" fill="#e7e7ff"/>
<rect x="338.60" y="144.80" width="12.00" height="1.15" fill="#ddddff"/>
<rect x="338.60" y="145.80" width="12.00" height="1.15" fill="#c9c9ff"/>
<rect x="338.60" y="146.80" width="12.00" height="1.15" fill="#c9c9ff"/>
<rect x="338.60" y="147.80" width="12.00" height="1.15" fill="#c9c9ff"/>
<rect x="338.60" y="148.80" width="12.00" height="1.15" fill="#c9c9ff"/>
<rect x="350.40" y="33.70" width="12.00" height="1.15" fill="#cfcfff"/>
<rect x="350.40" y="34.70" width="12.00" height="1.15" fill="#cfcfff"/>
<rect x="350.40" y="35.70" width="12.00" height="1.15" fill="#cfcfff"/>
<rect x="350.40" y="36.70" width="12.00" height="1.15" fill="#cfcfff"/>
<rect x="350.40" y="37.70" width="12.00" height="1.15" fill="#e4e4ff"/>
<rect x="350.40" y="38.70" width="12.00" height="1.15" fill="#d5d5ff"/>
<rect x="350.40" y="39.70" width="12.00" height="1.15" fill="#d4d4ff"/>
<rect x="350.40" y="40.70" width="12.00" height="1.15" fill="#e0e0ff"/>
<rect x="350.40" y="41.70" width="12.00" height="1.15" fill="#bfbfff"/>
<rect x="350.40" y="42.71" width="12.00" height="1.15" fill="#d4d4ff"/>
<rect x="350.40" y="43.71" width="12.00" height="1.15" fill="#ceceff"/>
<rect x="350.40" y="44.71" width="12.00" height="1.15" fill="#e4e4ff"/>
<rect x="350.40" y="45.71" width="12.00" height="1.15" fill="#e3e3ff"/>
<rect x="350.40" y="46.71" width="12.00" height="1.15" fill="#d2d2ff"/>
<rect x="350.40" y="47.71" width="12.00" height="1.15" fill="#d2d2ff"/>
<rect x="350.40" y="48.71" width="12.00" height="1.15" fill="#a3a3ff"/>
<rect x="350.40" y="49.71" width="12.00" height="1.15" fill="#7f7fff"/>
<rect x="350.40" y="50.71" width="12.00" height="1.15" fill="#6363ff"/>
<rect x="350.40" y="51.71" width="12.00" height="1.15" fill="#7575ff"/>
<rect x="350.40" y="52.71" width="12.00" height="1.15" fill="#8383ff"/>
<rect x="350.40" y="53.72" width="12.00" height="1.15" fill="#a2a2ff"/>
<rect x="350.40" y="54.72" width="12.00" height="1.15" fill="#9696ff"/>
<rect x="350.40" y="55.72" width="12.00" height="1.15" fill="#9c9cff"/>
<rect x="350.40" y="56.72" width="12.00" height="1.15" fill="#ffcdcd"/>
<rect x="350.40" y="57.72" width="12.00" height="1.15" fill="#ffc7c7"/>
<rect x="350.40" y="58.72" width="12.00" height="1.15" fill="#6666ff"/>
<rect x="350.40" y="59.72" width="12.00" height="1.15" fill="#5151ff"/>
<rect x="350.40" y="60.72" width="12.00" height="1.15" fill="#7a7aff"/>
<rect x="350.40" y="61.72" width="12.00" height="1.15" fill="#ffdada"/>
<rect x="350.40" y="62.72" width="12.00" height="1.15" fill="#ffc7c7"/>
<rect x="350.40" y="63.72" width="12.00" height="1.15" fill="#ffdfdf"/>
<rect x="350.40" y="64.73" width="12.00" height="1.15" fill="#fff3f3"/>
<rect x="350.40" y="65.73" width="12.00" height="1.15" fill="#ffc7c7"/>
<rect x="350.40" y="66.73" width="12.00" height="1.15" fill="#ffcbcb"/>
<rect x="350.40" y="67.73" width="12.00" height="1.15" fill="#fffefe"/>
<rect x="350.40" y="68.73" width="12.00" height="1.15" fill="#ffcaca"/>
<rect x="350.40" y="69.73" width="12.00" height="1.15" fill="#fff0f0"/>
<rect x="350.40" y="70.73" width="12.00" height="1.15" fill="#ffdcdc"/>
<rect x="350.40" y="71.73" width="12.00" height="1.15" fill="#fdfdff"/>
<rect x="350.40" y="72.73" width="12.00" height="1.15" fill="#ffd8d8"/>
<rect x="350.40" y="73.73" width="12.00" height="1.15" fill="#ffdfdf"/>
<rect x="350.40" y="74.73" width="12.00" height="1.15" fill="#ffdddd"/>
<rect x="350.40" y="75.74" width="12.00" height="1.15" fill="#ffeaea"/>
<rect x="350.40" y="76.74" width="12.00" height="1.15" fill="#fff2f2"/>
<rect x="350.40" y="77.74" width="12.00" height="1.15" fill="#ffdddd"/>
<rect x="350.40" y="78.74" width="12.00" height="1.15" fill="#dbdbff"/>
<rect x="350.40" y="79.74" width="12.00" height="1.15" fill="#ffe9e9"/>
<rect x="350.40" y="80.74" width="12.00" height="1.15" fill="#ffc7c7"/>
<rect x="350.40" y="81.74" width="12.00" height="1.15" fill="#fffefe"/>
<rect x="350.40" y="82.74" width="12.00" height="1.15" fill="#fefeff"/>
<rect x="350.40" y="83.74" width="12.00" height="1.15" fill="#ffe5e5"/>
<rect x="350.40" y="84.74" width="12.00" height="1.15" fill="#ffe9e9"/>
<rect x="350.40" y="85.74" width="12.00" height="1.15" fill="#ffaaaa"/>
<rect x="350.40" y="86.75" width="12.00" height="1.15" fill="#ededff"/>
<rect x="350.40" y="87.75" width="12.00" height="1.15" fill="#fff7f7"/>
<rect x="350.40" y="88.75" width="12.00" height="1.15" fill="#fff1f1"/>
<rect x="350.40" y="89.75" width="12.00" height="1.15" fill="#dcdcff"/>
<rect x="350.40" y="90.75" width="12.00" height="1.15" fill="#fff6f6"/>
<rect x="350.40" y="91.75" width="12.00" height="1.15" fill="#fff1f1"/>
<rect x="350.40" y="92.75" width="12.00" height="1.15" fill="#ffe3e3"/>
<rect x="350.40" y="93.75" width="12.00" height="1.15" fill="#ffe4e4"/>
<rect x="350.40" y="94.75" width="12.00" height="1.15" fill="#ffeded"/>
<rect x="350.40" y="95.75" width="12.00" height="1.15" fill="#ffeaea"/>
<rect x="350.40" y="96.75" width="12.00" height="1.15" fill="#f0f0ff"/>
<rect x="350.40" y="97.76" width="12.00" height="1.15" fill="#f1f1ff"/>
<rect x="350.40" y="98.76" width="12.00" height="1.15" fill="#fffbfb"/>
<rect x="350.40" y="99.76" width="12.00" height="1.15" fill="#ffe7e7"/>
<rect x="350.40" y="100.76" width="12.00" height="1.15" fill="#eeeeff"/>
<rect x="350.40" y="101.76" width="12.00" height="1.15" fill="#ebebff"/>
<rect x="350.40" y="102.76" width="12.00" height="1.15" fill="#ffdfdf"/>
<rect x="350.40" y="103.76" width="12.00" height="1.15" fill="#ffdede"/>
<rect x="350.40" y="104.76" width="12.00" height="1.15" fill="#fffafa"/>
<rect x="350.40" y="105.76" width="12.00" height="1.15" fill="#ffe5e5"/>
<rect x="350.40" y="106.76" width="12.00" height="1.15" fill="#ffebeb"/>
<rect x="350.40" y="107.76" width="12.00" height="1.15" fill="#f2f2ff"/>
<rect x="350.40" y="108.77" width="12.00" height="1.15" fill="#ffcdcd"/>
<rect x="350.40" y="109.77" width="12.00" height="1.15" fill="#f2f2ff"/>
<rect x="350.40" y="110.77" width="12.00" height="1.15" fill="#fff4f4"/>
<rect x="350.40" y="111.77" width="12.00" height="1.15" fill="#ffdada"/>
<rect x="350.40" y="112.77" width="12.00" height="1.15" fill="#fff9f9"/>
<rect x="350.40" y="113.77" width="12.00" height="1.15" fill="#ffe6e6"/>
<rect x="350.40" y="114.77" width="12.00" height="1.15" fill="#fffcfc"/>
<rect x="350.40" y="115.77" width="12.00" height="1.15" fill="#ffdddd"/>
<rect x="350.40" y="116.77" width="12.00" height="1.15" fill="#fff9f9"/>
<rect x="350.40" y="117.77" width="12.00" height="1.15" fill="#fff0f0"/>
<rect x="350.40" y="118.77" width="12.00" height="1.15" fill="#fcfcff"/>
<rect x="350.40" y="119.78" width="12.00" height="1.15" fill="#e3e3ff"/>
<rect x="350.40" y="120.78" width="12.00" height="1.15" fill="#ffeaea"/>
<rect x="350.40" y="121.78" width="12.00" height="1.15" fill="#fff1f1"/>
<rect x="350.40" y="122.78" width="12.00" height="1.15" fill="#ffeaea"/>
<rect x="350.40" y="123.78" width="12.00" height="1.15" fill="#ffe0e0"/>
<rect x="350.40" y="124.78" width="12.00" height="1.15" fill="#fffcfc"/>
<rect x="350.40" y="125.78" width="12.00" height="1.15" fill="#ffc5c5"/>
<rect x="350.40" y="126.78" width="12.00" height="1.15" fill="#fffcfc"/>
<rect x="350.40" y="127.78" width="12.00" height="1.15" fill="#fffcfc"/>
<rect x="350.40" y="128.78" width="12.00" height="1.15" fill="#f6f6ff"/>
<rect x="350.40" y="129.78" width="12.00" height="1.15" fill="#ffd6d6"/>
<rect x="350.40" y="130.79" width="12.00" height="1.15" fill="#fff1f1"/>
<rect x="350.40" y="131.79" width="12.00" height="1.15" fill="#ffcdcd"/>
<rect x="350.40" y="132.79" width="12.00" height="1.15" fill="#ffcece"/>
<rect x="350.40" y="133.79" width="12.00" height="1.15" fill="#ffe4e4"/>
<rect x="350.40" y="134.79" width="12.00" height="1.15" fill="#e3e3ff"/>
<rect x="350.40" y="135.79" width="12.00" height="1.15" fill="#fffcfc"/>
<rect x="350.40" y="136.79" width="12.00" height="1.15" fill="#fffcfc"/>
<rect x="350.40" y="137.79" width="12.00" height="1.15" fill="#fff5f5"/>
<rect x="350.40" y="138.79" width="12.00" height="1.15" fill="#fffefe"/>
<rect x="350.40" y="139.79" width="12.00" height="1.15" fill="#e3e3ff"/>
<rect x="350.40" y="140.79" width="12.00" height="1.15" fill="#fff6f6"/>
<rect x="350.40" y="141.80" width="12.00" height="1.15" fill="#f3f3ff"/>
<rect x="350.40" y="142.80" width="12.00" height="1.15" fill="#ffdbdb"/>
<rect x="350.40" y="143.80" width="12.00" height="1.15" fill="#e0e0ff"/>
<rect x="350.40" y="144.80" width="12.00" height="1.15" fill="#ffeeee"/>
<rect x="350.40" y="145.80" width="12.00" height="1.15" fill="#fffefe"/>
<rect x="350.40" y="146.80" width="12.00" height="1.15" fill="#fffefe"/>
<rect x="350.40" y="147.80" width="12.00" height="1.15" fill="#fffefe"/>
<rect x="350.40" y="148.80" width="12.00" height="1.15" fill="#fffefe"/>
<rect x="362.20" y="33.70" width="12.00" height="1.15" fill="#babaff"/>
<rect x="362.20" y="34.70" width="12.00" height="1.15" fill="#babaff"/>
<rect x="362.20" y="35.70" width="12.00" height="1.15" fill="#babaff"/>
<rect x="362.20" y="36.70" width="12.00" height="1.15" fill="#babaff"/>
<rect x="362.20" y="37.70" width="12.00" height="1.15" fill="#7070ff"/>
<rect x="362.20" y="38.70" width="12.00" height="1.15" fill="#7c7cff"/>
<rect x="362.20" y="39.70" width="12.00" height="1.15" fill="#acacff"/>
<rect x="362.20" y="40.70" width="12.00" height="1.15" fill="#c3c3ff"/>
<rect x="362.20" y="41.70" width="12.00" height="1.15" fill="#c3c3ff"/>
<rect x="362.20" y="42.71" width="12.00" height="1.15" fill="#ddddff"/>
<rect x="362.20" y="43.71" width="12.00" height="1.15" fill="#bebeff"/>
<rect x="362.20" y="44.71" width="12.00" height="1.15" fill="#a5a5ff"/>
<rect x="362.20" y="45.71" width="12.00" height="1.15" fill="#d2d2ff"/>
<rect x="362.20" y="46.71" width="12.00" height="1.15" fill="#e1e1ff"/>
<rect x="362.20" y="47.71" width="12.00" height="1.15" fill="#cdcdff"/>
<rect x="362.20" y="48.71" width="12.00" height="1.15" fill="#9f9fff"/>
<rect x="362.20" y="49.71" width="12.00" height="1.15" fill="#b9b9ff"/>
<rect x="362.20" y="50.71" width="12.00" height="1.15" fill="#d5d5ff"/>
<rect x="362.20" y="51.71" width="12.00" height="1.15" fill="#acacff"/>
<rect x="362.20" y="52.71" width="12.00" height="1.15" fill="#cacaff"/>
<rect x="362.20" y="53.72" width="12.00" height="1.15" fill="#d2d2ff"/>
<rect x="362.20" y="54.72" width="12.00" height="1.15" fill="#b6b6ff"/>
<rect x="362.20" y="55.72" width="12.00" height="1.15" fill="#aeaeff"/>
<rect x="362.20" y="56.72" width="12.00" height="1.15" fill="#f0f0ff"/>
<rect x="362.20" y="57.72" width="12.00" height="1.15" fill="#eeeeff"/>
<rect x="362.20" y="58.72" width="12.00" height="1.15" fill="#ffd3d3"/>
<rect x="362.20" y="59.72" width="12.00" height="1.15" fill="#ffe1e1"/>
<rect x="362.20" y="60.72" width="12.00" height="1.15" fill="#fff2f2"/>
<rect x="362.20" y="61.72" width="12.00" height="1.15" fill="#9999ff"/>
<rect x="362.20" y="62.72" width="12.00" height="1.15" fill="#8e8eff"/>
<rect x="362.20" y="63.72" width="12.00" height="1.15" fill="#ffc5c5"/>
<rect x="362.20" y="64.73" width="12.00" height="1.15" fill="#fff4f4"/>
<rect x="362.20" y="65.73" width="12.00" height="1.15" fill="#fff0f0"/>
<rect x="362.20" y="66.73" width="12.00" height="1.15" fill="#ffcccc"/>
<rect x="362.20" y="67.73" width="12.00" height="1.15" fill="#fff4f4"/>
<rect x="362.20" y="68.73" width="12.00" height="1.15" fill="#ffeded"/>
<rect x="362.20" y="69.73" width="12.00" height="1.15" fill="#f4f4ff"/>
<rect x="362.20" y="70.73" width="12.00" height="1.15" fill="#fffbfb"/>
<rect x="362.20" y="71.73" width="12.00" height="1.15" fill="#fff1f1"/>
<rect x="362.20" y="72.73" width="12.00" height="1.15" fill="#ffdbdb"/>
<rect x="362.20" y="73.73" width="12.00" height="1.15" fill="#ffc3c3"/>
<rect x="362.20" y="74.73" width="12.00" height="1.15" fill="#ffe9e9"/>
<rect x="362.20" y="75.74" width="12.00" height="1.15" fill="#ffd1d1"/>
<rect x="362.20" y="76.74" width="12.00" height="1.15" fill="#ffeded"/>
<rect x="362.20" y="77.74" width="12.00" height="1.15" fill="#f9f9ff"/>
<rect x="362.20" y="78.74" width="12.00" height="1.15" fill="#ffdede"/>
<rect x="362.20" y="79.74" width="12.00" height="1.15" fill="#ffb6b6"/>
<rect x="362.20" y="80.74" width="12.00" height="1.15" fill="#f8f8ff"/>
<rect x="362.20" y="81.74" width="12.00" height="1.15" fill="#ffd5d5"/>
<rect x="362.20" y="82.74" width="12.00" height="1.15" fill="#fff9f9"/>
<rect x="362.20" y="83.74" width="12.00" height="1.15" fill="#fffdfd"/>
<rect x="362.20" y="84.74" width="12.00" height="1.15" fill="#dcdcff"/>
<rect x="362.20" y="85.74" width="12.00" height="1.15" fill="#ffdada"/>
<rect x="362.20" y="86.75" width="12.00" height="1.15" fill="#fefeff"/>
<rect x="362.20" y="87.75" width="12.00" height="1.15" fill="#fff3f3"/>
<rect x="362.20" y="88.75" width="12.00" height="1.15" fill="#ffe0e0"/>
<rect x="362.20" y="89.75" width="12.00" height="1.15" fill="#ffefef"/>
<rect x="362.20" y="90.75" width="12.00" height="1.15" fill="#fffefe"/>
<rect x="362.20" y="91.75" width="12.00" height="1.15" fill="#ffdada"/>
<rect x="362.20" y="92.75" width="12.00" height="1.15" fill="#e8e8ff"/>
<rect x="362.20" y="93.75" width="12.00" height="1.15" fill="#ffdbdb"/>
<rect x="362.20" y="94.75" width="12.00" height="1.15" fill="#ffe6e6"/>
<rect x="362.20" y="95.75" width="12.00" height="1.15" fill="#ffe4e4"/>
<rect x="362.20" y="96.75" width="12.00" height="1.15" fill="#fff1f1"/>
<rect x="362.20" y="97.76" width="12.00" height="1.15" fill="#f8f8ff"/>
<rect x="362.20" y="98.76" width="12.00" height="1.15" fill="#ffe1e1"/>
<rect x="362.20" y="99.76" width="12.00" height="1.15" fill="#ffe9e9"/>
<rect x="362.20" y="100.76" width="12.00" height="1.15" fill="#ffefef"/>
<rect x="362.20" y="101.76" width="12.00" height="1.15" fill="#ffe9e9"/>
<rect x="362.20" y="102.76" width="12.00" height="1.15" fill="#fff1f1"/>
<rect x="362.20" y="103.76" width="12.00" height="1.15" fill="#fff0f0"/>
<rect x="362.20" y="104.76" width="12.00" height="1.15" fill="#ffcdcd"/>
<rect x="362.20" y="105.76" width="12.00" height="1.15" fill="#ffdede"/>
<rect x="362.20" y="106.76" width="12.00" height="1.15" fill="#ffe2e2"/>
<rect x="362.20" y="107.76" width="12.00" height="1.15" fill="#ffe1e1"/>
<rect x="362.20" y="108.77" width="12.00" height="1.15" fill="#fff0f0"/>
<rect x="362.20" y="109.77" width="12.00" height="1.15" fill="#ffe2e2"/>
<rect x="362.20" y="110.77" width="12.00" height="1.15" fill="#eaeaff"/>
<rect x="362.20" y="111.77" width="12.00" height="1.15" fill="#fff6f6"/>
<rect x="362.20" y="112.77" width="12.00" height="1.15" fill="#fff9f9"/>
<rect x="362.20" y="113.77" width="12.00" height="1.15" fill="#ffe1e1"/>
<rect x="362.20" y="114.77" width="12.00" height="1.15" fill="#fefeff"/>
<rect x="362.20" y="115.77" width="12.00" height="1.15" fill="#fffbfb"/>
<rect x="362.20" y="116.77" width="12.00" height="1.15" fill="#fff9f9"/>
<rect x="362.20" y="117.77" width="12.00" height="1.15" fill="#fffbfb"/>
<rect x="362.20" y="118.77" width="12.00" height="1.15" fill="#fbfbff"/>
<rect x="362.20" y="119.78" width="12.00" height="1.15" fill="#ffe4e4"/>
<rect x="362.20" y="120.78" width="12.00" height="1.15" fill="#ffd9d9"/>
<rect x="362.20" y="121.78" width="12.00" height="1.15" fill="#fefeff"/>
<rect x="362.20" y="122.78" width="12.00" height="1.15" fill="#fdfdff"/>
<rect x="362.20" y="123.78" width="12.00" height="1.15" fill="#fffefe"/>
<rect x="362.20" y="124.78" width="12.00" height="1.15" fill="#fbfbff"/>
<rect x="362.20" y="125.78" width="12.00" height="1.15" fill="#fffefe"/>
<rect x="362.20" y="126.78" width="12.00" height="1.15" fill="#ededff"/>
<rect x="362.20" y="127.78" width="12.00" height="1.15" fill="#7f7fff"/>
<rect x="362.20" y="128.78" width="12.00" height="1.15" fill="#efefff"/>
<rect x="362.20" y="129.78" width="12.00" height="1.15" fill="#ffe4e4"/>
<rect x="362.20" y="130.79" width="12.00" height="1.15" fill="#fffafa"/>
<rect x="362.20" y="131.79" width="12.00" height="1.15" fill="#f7f7ff"/>
<rect x="362.20" y="132.79" width="12.00" height="1.15" fill="#ffe1e1"/>
<rect x="362.20" y="133.79" width="12.00" height="1.15" fill="#fff3f3"/>
<rect x="362.20" y="134.79" width="12.00" height="1.15" fill="#fff9f9"/>
<rect x="362.20" y="135.79" width="12.00" height="1.15" fill="#fffbfb"/>
<rect x="362.20" y="136.79" width="12.00" height="1.15" fill="#fffcfc"/>
<rect x="362.20" y="137.79" width="12.00" height="1.15" fill="#ebebff"/>
<rect x="362.20" y="138.79" width="12.00" height="1.15" fill="#fffafa"/>
<rect x="362.20" y="139.79" width="12.00" height="1.15" fill="#f0f0ff"/>
<rect x="362.20" y="140.79" width="12.00" height="1.15" fill="#ffdbdb"/>
<rect x="362.20" y="141.80" width="12.00" height="1.15" fill="#ffeded"/>
<rect x="362.20" y="142.80" width="12.00" height="1.15" fill="#ffe2e2"/>
<rect x="362.20" y="143.80" width="12.00" height="1.15" fill="#d2d2ff"/>
<rect x="362.20" y="144.80" width="12.00" height="1.15" fill="#ffebeb"/>
<rect x="362.20" y="145.80" width="12.00" height="1.15" fill="#f8f8ff"/>
<rect x="362.20" y="146.80" width="12.00" height="1.15" fill="#f8f8ff"/>
<rect x="362.20" y="147.80" width="12.00" height="1.15" fill="#f8f8ff"/>
<rect x="362.20" y="148.80" width="12.00" height="1.15" fill="#f8f8ff"/>
<rect x="374.00" y="33.70" width="12.00" height="1.15" fill="#e6e6ff"/>
<rect x="374.00" y="34.70" width="12.00" height="1.15" fill="#e6e6ff"/>
<rect x="374.00" y="35.70" width="12.00" height="1.15" fill="#e6e6ff"/>
<rect x="374.00" y="36.70" width="12.00" height="1.15" fill="#e6e6ff"/>
<rect x="374.00" y="37.70" width="12.00" height="1.15" fill="#e3e3ff"/>
<rect x="374.00" y="38.70" width="12.00" height="1.15" fill="#fafaff"/>
<rect x="374.00" y="39.70" width="12.00" height="1.15" fill="#e2e2ff"/>
<rect x="374.00" y="40.70" width="12.00" height="1.15" fill="#e7e7ff"/>
<rect x="374.00" y="41.70" width="12.00" height="1.15" fill="#ffe9e9"/>
<rect x="374.00" y="42.71" width="12.00" height="1.15" fill="#f4f4ff"/>
<rect x="374.00" y="43.71" width="12.00" height="1.15" fill="#ceceff"/>
<rect x="374.00" y="44.71" width="12.00" height="1.15" fill="#bbbbff"/>
<rect x="374.00" y="45.71" width="12.00" height="1.15" fill="#fff7f7"/>
<rect x="374.00" y="46.71" width="12.00" height="1.15" fill="#eaeaff"/>
<rect x="374.00" y="47.71" width="12.00" height="1.15" fill="#ffe6e6"/>
<rect x="374.00" y="48.71" width="12.00" height="1.15" fill="#fbfbff"/>
<rect x="374.00" y="49.71" width="12.00" height="1.15" fill="#ededff"/>
<rect x="374.00" y="50.71" width="12.00" height="1.15" fill="#efefff"/>
<rect x="374.00" y="51.71" width="12.00" height="1.15" fill="#c2c2ff"/>
<rect x="374.00" y="52.71" width="12.00" height="1.15" fill="#ebebff"/>
<rect x="374.00" y="53.72" width="12.00" height="1.15" fill="#d9d9ff"/>
<rect x="374.00" y="54.72" width="12.00" height="1.15" fill="#fffafa"/>
<rect x="374.00" y="55.72" width="12.00" height="1.15" fill="#ffeded"/>
<rect x="374.00" y="56.72" width="12.00" height="1.15" fill="#fff5f5"/>
<rect x="374.00" y="57.72" width="12.00" height="1.15" fill="#ffe6e6"/>
<rect x="374.00" y="58.72" width="12.00" height="1.15" fill="#ffd7d7"/>
<rect x="374.00" y="59.72" width="12.00" height="1.15" fill="#ffe6e6"/>
<rect x="374.00" y="60.72" width="12.00" height="1.15" fill="#ffdede"/>
<rect x="374.00" y="61.72" width="12.00" height="1.15" fill="#ffa3a3"/>
<rect x="374.00" y="62.72" width="12.00" height="1.15" fill="#ffb2b2"/>
<rect x="374.00" y="63.72" width="12.00" height="1.15" fill="#8484ff"/>
<rect x="374.00" y="64.73" width="12.00" height="1.15" fill="#ffdede"/>
<rect x="374.00" y="65.73" width="12.00" height="1.15" fill="#ffdada"/>
<rect x="374.00" y="66.73" width="12.00" height="1.15" fill="#ffc9c9"/>
<rect x="374.00" y="67.73" width="12.00" height="1.15" fill="#ffecec"/>
<rect x="374.00" y="68.73" width="12.00" height="1.15" fill="#ffe9e9"/>
<rect x="374.00" y="69.73" width="12.00" height="1.15" fill="#ffb7b7"/>
<rect x="374.00" y="70.73" width="12.00" height="1.15" fill="#fffefe"/>
<rect x="374.00" y="71.73" width="12.00" height="1.15" fill="#ffbcbc"/>
<rect x="374.00" y="72.73" width="12.00" height="1.15" fill="#fdfdff"/>
<rect x="374.00" y="73.73" width="12.00" height="1.15" fill="#e9e9ff"/>
<rect x="374.00" y="74.73" width="12.00" height="1.15" fill="#fffefe"/>
<rect x="374.00" y="75.74" width="12.00" height="1.15" fill="#fff5f5"/>
<rect x="374.00" y="76.74" width="12.00" height="1.15" fill="#ffefef"/>
<rect x="374.00" y="77.74" width="12.00" height="1.15" fill="#fcfcff"/>
<rect x="374.00" y="78.74" width="12.00" height="1.15" fill="#fff6f6"/>
<rect x="374.00" y="79.74" width="12.00" height="1.15" fill="#fff3f3"/>
<rect x="374.00" y="80.74" width="12.00" height="1.15" fill="#e1e1ff"/>
<rect x="374.00" y="81.74" width="12.00" height="1.15" fill="#ffeaea"/>
<rect x="374.00" y="82.74" width="12.00" height="1.15" fill="#ffafaf"/>
<rect x="374.00" y="83.74" width="12.00" height="1.15" fill="#ffe7e7"/>
<rect x="374.00" y="84.74" width="12.00" height="1.15" fill="#ffefef"/>
<rect x="374.00" y="85.74" width="12.00" height="1.15" fill="#ffd8d8"/>
<rect x="374.00" y="86.75" width="12.00" height="1.15" fill="#ffc1c1"/>
<rect x="374.00" y="87.75" width="12.00" height="1.15" fill="#ffd8d8"/>
<rect x="374.00" y="88.75" width="12.00" height="1.15" fill="#ffd6d6"/>
<rect x="374.00" y="89.75" width="12.00" height="1.15" fill="#ffeded"/>
<rect x="374.00" y="90.75" width="12.00" height="1.15" fill="#e8e8ff"/>
<rect x="374.00" y="91.75" width="12.00" height="1.15" fill="#ff9999"/>
<rect x="374.00" y="92.75" width="12.00" height="1.15" fill="#f6f6ff"/>
<rect x="374.00" y="93.75" width="12.00" height="1.15" fill="#fffafa"/>
<rect x="374.00" y="94.75" width="12.00" height="1.15" fill="#fcfcff"/>
<rect x="374.00" y="95.75" width="12.00" height="1.15" fill="#e8e8ff"/>
<rect x="374.00" y="96.75" width="12.00" height="1.15" fill="#9999ff"/>
<rect x="374.00" y="97.76" width="12.00" height="1.15" fill="#ffdfdf"/>
<rect x="374.00" y="98.76" width="12.00" height="1.15" fill="#fffafa"/>
<rect x="374.00" y="99.76" width="12.00" height="1.15" fill="#fff4f4"/>
<rect x="374.00" y="100.76" width="12.00" height="1.15" fill="#fdfdff"/>
<rect x="374.00" y="101.76" width="12.00" height="1.15" fill="#ffd7d7"/>
<rect x="374.00" y="102.76" width="12.00" height="1.15" fill="#fefeff"/>
<rect x="374.00" y="103.76" width="12.00" height="1.15" fill="#ffe6e6"/>
<rect x="374.00" y="104.76" width="12.00" height="1.15" fill="#ffd5d5"/>
<rect x="374.00" y="105.76" width="12.00" height="1.15" fill="#ffe4e4"/>
<rect x="374.00" y="106.76" width="12.00" height="1.15" fill="#ffebeb"/>
<rect x="374.00" y="107.76" width="12.00" height="1.15" fill="#ffd9d9"/>
<rect x="374.00" y="108.77" width="12.00" height="1.15" fill="#ffebeb"/>
<rect x="374.00" y="109.77" width="12.00" height="1.15" fill="#f2f2ff"/>
<rect x="374.00" y="110.77" width="12.00" height="1.15" fill="#ffebeb"/>
<rect x="374.00" y="111.77" width="12.00" height="1.15" fill="#ffdbdb"/>
<rect x="374.00" y="112.77" width="12.00" height="1.15" fill="#fffbfb"/>
<rect x="374.00" y="113.77" width="12.00" height="1.15" fill="#ffeeee"/>
<rect x="374.00" y="114.77" width="12.00" height="1.15" fill="#fff2f2"/>
<rect x="374.00" y="115.77" width="12.00" height="1.15" fill="#f9f9ff"/>
<rect x="374.00" y="116.77" width="12.00" height="1.15" fill="#ffdede"/>
<rect x="374.00" y="117.77" width="12.00" height="1.15" fill="#f9f9ff"/>
<rect x="374.00" y="118.77" width="12.00" height="1.15" fill="#ffecec"/>
<rect x="374.00" y="119.78" width="12.00" height="1.15" fill="#fff0f0"/>
<rect x="374.00" y="120.78" width="12.00" height="1.15" fill="#ffc5c5"/>
<rect x="374.00" y="121.78" width="12.00" height="1.15" fill="#fff5f5"/>
<rect x="374.00" y="122.78" width="12.00" height="1.15" fill="#fff2f2"/>
<rect x="374.00" y="123.78" width="12.00" height="1.15" fill="#fffefe"/>
<rect x="374.00" y="124.78" width="12.00" height="1.15" fill="#ffe4e4"/>
<rect x="374.00" y="125.78" width="12.00" height="1.15" fill="#e7e7ff"/>
<rect x="374.00" y="126.78" width="12.00" height="1.15" fill="#ffe7e7"/>
<rect x="374.00" y="127.78" width="12.00" height="1.15" fill="#f4f4ff"/>
<rect x="374.00" y="128.78" width="12.00" height="1.15" fill="#f6f6ff"/>
<rect x="374.00" y="129.78" width="12.00" height="1.15" fill="#ececff"/>
<rect x="374.00" y="130.79" width="12.00" height="1.15" fill="#ffe9e9"/>
<rect x="374.00" y="131.79" width="12.00" height="1.15" fill="#f5f5ff"/>
<rect x="374.00" y="132.79" width="12.00" height="1.15" fill="#ffd8d8"/>
<rect x="374.00" y="133.79" width="12.00" height="1.15" fill="#fefeff"/>
<rect x="374.00" y="134.79" width="12.00" height="1.15" fill="#fff6f6"/>
<rect x="374.00" y="135.79" width="12.00" height="1.15" fill="#f2f2ff"/>
<rect x="374.00" y="136.79" width="12.00" height="1.15" fill="#ffe2e2"/>
<rect x="374.00" y="137.79" width="12.00" height="1.15" fill="#fffbfb"/>
<rect x="374.00" y="138.79" width="12.00" height="1.15" fill="#ffe9e9"/>
<rect x="374.00" y="139.79" width="12.00" height="1.15" fill="#ffe7e7"/>
<rect x="374.00" y="140.79" width="12.00" height="1.15" fill="#ffefef"/>
<rect x="374.00" y="141.80" width="12.00" height="1.15" fill="#ededff"/>
<rect x="374.00" y="142.80" width="12.00" height="1.15" fill="#ffc9c9"/>
<rect x="374.00" y="143.80" width="12.00" height="1.15" fill="#ffd3d3"/>
<rect x="374.00" y="144.80" width="12.00" height="1.15" fill="#d1d1ff"/>
<rect x="374.00" y="145.80" width="12.00" height="1.15" fill="#ffc9c9"/>
<rect x="374.00" y="146.80" width="12.00" height="1.15" fill="#ffc9c9"/>
<rect x="374.00" y="147.80" width="12.00" height="1.15" fill="#ffc9c9"/>
<rect x="374.00" y="148.80" width="12.00" height="1.15" fill="#ffc9c9"/>
<rect x="385.80" y="33.70" width="12.00" height="1.15" fill="#f1f1ff"/>
<rect x="385.80" y="34.70" width="12.00" height="1.15" fill="#f1f1ff"/>
<rect x="385.80" y="35.70" width="12.00" height="1.15" fill="#f1f1ff"/>
<rect x="385.80" y="36.70" width="12.00" height="1.15" fill="#f1f1ff"/>
<rect x="385.80" y="37.70" width="12.00" height="1.15" fill="#d1d1ff"/>
<rect x="385.80" y="38.70" width="12.00" height="1.15" fill="#cbcbff"/>
<rect x="385.80" y="39.70" width="12.00" height="1.15" fill="#ececff"/>
<rect x="385.80" y="40.70" width="12.00" height="1.15" fill="#acacff"/>
<rect x="385.80" y="41.70" width="12.00" height="1.15" fill="#dcdcff"/>
<rect x="385.80" y="42.71" width="12.00" height="1.15" fill="#eeeeff"/>
<rect x="385.80" y="43.71" width="12.00" height="1.15" fill="#d6d6ff"/>
<rect x="385.80" y="44.71" width="12.00" height="1.15" fill="#c5c5ff"/>
<rect x="385.80" y="45.71" width="12.00" height="1.15" fill="#fff4f4"/>
<rect x="385.80" y="46.71" width="12.00" height="1.15" fill="#dedeff"/>
<rect x="385.80" y="47.71" width="12.00" height="1.15" fill="#e6e6ff"/>
<rect x="385.80" y="48.71" width="12.00" height="1.15" fill="#d1d1ff"/>
<rect x="385.80" y="49.71" width="12.00" height="1.15" fill="#b5b5ff"/>
<rect x="385.80" y="50.71" width="12.00" height="1.15" fill="#d3d3ff"/>
<rect x="385.80" y="51.71" width="12.00" height="1.15" fill="#ededff"/>
<rect x="385.80" y="52.71" width="12.00" height="1.15" fill="#e0e0ff"/>
<rect x="385.80" y="53.72" width="12.00" height="1.15" fill="#cacaff"/>
<rect x="385.80" y="54.72" width="12.00" height="1.15" fill="#c9c9ff"/>
<rect x="385.80" y="55.72" width="12.00" height="1.15" fill="#b3b3ff"/>
<rect x="385.80" y="56.72" width="12.00" height="1.15" fill="#fffdfd"/>
<rect x="385.80" y="57.72" width="12.00" height="1.15" fill="#e7e7ff"/>
<rect x="385.80" y="58.72" width="12.00" height="1.15" fill="#ebebff"/>
<rect x="385.80" y="59.72" width="12.00" height="1.15" fill="#ffe1e1"/>
<rect x="385.80" y="60.72" width="12.00" height="1.15" fill="#ffb5b5"/>
<rect x="385.80" y="61.72" width="12.00" height="1.15" fill="#ffd1d1"/>
<rect x="385.80" y="62.72" width="12.00" height="1.15" fill="#fff1f1"/>
<rect x="385.80" y="63.72" width="12.00" height="1.15" fill="#fdfdff"/>
<rect x="385.80" y="64.73" width="12.00" height="1.15" fill="#ffe1e1"/>
<rect x="385.80" y="65.73" width="12.00" height="1.15" fill="#ffebeb"/>
<rect x="385.80" y="66.73" width="12.00" height="1.15" fill="#ffb9b9"/>
<rect x="385.80" y="67.73" width="12.00" height="1.15" fill="#ffeaea"/>
<rect x="385.80" y="68.73" width="12.00" height="1.15" fill="#ffe5e5"/>
<rect x="385.80" y="69.73" width="12.00" height="1.15" fill="#f5f5ff"/>
<rect x="385.80" y="70.73" width="12.00" height="1.15" fill="#d7d7ff"/>
<rect x="385.80" y="71.73" width="12.00" height="1.15" fill="#f9f9ff"/>
<rect x="385.80" y="72.73" width="12.00" height="1.15" fill="#ffdbdb"/>
<rect x="385.80" y="73.73" width="12.00" height="1.15" fill="#ffdbdb"/>
<rect x="385.80" y="74.73" width="12.00" height="1.15" fill="#fbfbff"/>
<rect x="385.80" y="75.74" width="12.00" height="1.15" fill="#ffdddd"/>
<rect x="385.80" y="76.74" width="12.00" height="1.15" fill="#ffe0e0"/>
<rect x="385.80" y="77.74" width="12.00" height="1.15" fill="#ffdede"/>
<rect x="385.80" y="78.74" width="12.00" height="1.15" fill="#ffecec"/>
<rect x="385.80" y="79.74" width="12.00" height="1.15" fill="#fff6f6"/>
<rect x="385.80" y="80.74" width="12.00" height="1.15" fill="#fffbfb"/>
<rect x="385.80" y="81.74" width="12.00" height="1.15" fill="#f5f5ff"/>
<rect x="385.80" y="82.74" width="12.00" height="1.15" fill="#f1f1ff"/>
<rect x="385.80" y="83.74" width="12.00" height="1.15" fill="#fffafa"/>
<rect x="385.80" y="84.74" width="12.00" height="1.15" fill="#ffefef"/>
<rect x="385.80" y="85.74" width="12.00" height="1.15" fill="#f0f0ff"/>
<rect x="385.80" y="86.75" width="12.00" height="1.15" fill="#fffafa"/>
<rect x="385.80" y="87.75" width="12.00" height="1.15" fill="#ffefef"/>
<rect x="385.80" y="88.75" width="12.00" height="1.15" fill="#ffefef"/>
<rect x="385.80" y="89.75" width="12.00" height="1.15" fill="#fffcfc"/>
<rect x="385.80" y="90.75" width="12.00" height="1.15" fill="#e0e0ff"/>
<rect x="385.80" y="91.75" width="12.00" height="1.15" fill="#fff5f5"/>
<rect x="385.80" y="92.75" width="12.00" height="1.15" fill="#ffe9e9"/>
<rect x="385.80" y="93.75" width="12.00" height="1.15" fill="#5b5bff"/>
<rect x="385.80" y="94.75" width="12.00" height="1.15" fill="#ffe5e5"/>
<rect x="385.80" y="95.75" width="12.00" height="1.15" fill="#ffdddd"/>
<rect x="385.80" y="96.75" width="12.00" height="1.15" fill="#fefeff"/>
<rect x="385.80" y="97.76" width="12.00" height="1.15" fill="#fff6f6"/>
<rect x="385.80" y="98.76" width="12.00" height="1.15" fill="#fff5f5"/>
<rect x="385.80" y="99.76" width="12.00" height="1.15" fill="#fff8f8"/>
<rect x="385.80" y="100.76" width="12.00" height="1.15" fill="#f1f1ff"/>
<rect x="385.80" y="101.76" width="12.00" height="1.15" fill="#b7b7ff"/>
<rect x="385.80" y="102.76" width="12.00" height="1.15" fill="#fff8f8"/>
<rect x="385.80" y="103.76" width="12.00" height="1.15" fill="#ffdada"/>
<rect x="385.80" y="104.76" width="12.00" height="1.15" fill="#ffecec"/>
<rect x="385.80" y="105.76" width="12.00" height="1.15" fill="#f1f1ff"/>
<rect x="385.80" y="106.76" width="12.00" height="1.15" fill="#6666ff"/>
<rect x="385.80" y="107.76" width="12.00" height="1.15" fill="#7f7fff"/>
<rect x="385.80" y="108.77" width="12.00" height="1.15" fill="#fffcfc"/>
<rect x="385.80" y="109.77" width="12.00" height="1.15" fill="#d5d5ff"/>
<rect x="385.80" y="110.77" width="12.00" height="1.15" fill="#fff6f6"/>
<rect x="385.80" y="111.77" width="12.00" height="1.15" fill="#fffbfb"/>
<rect x="385.80" y="112.77" width="12.00" height="1.15" fill="#f4f4ff"/>
<rect x="385.80" y="113.77" width="12.00" height="1.15" fill="#fffefe"/>
<rect x="385.80" y="114.77" width="12.00" height="1.15" fill="#f4f4ff"/>
<rect x="385.80" y="115.77" width="12.00" height="1.15" fill="#fbfbff"/>
<rect x="385.80" y="116.77" width="12.00" height="1.15" fill="#fffafa"/>
<rect x="385.80" y="117.77" width="12.00" height="1.15" fill="#ffe7e7"/>
<rect x="385.80" y="118.77" width="12.00" height="1.15" fill="#ffeeee"/>
<rect x="385.80" y="119.78" width="12.00" height="1.15" fill="#f2f2ff"/>
<rect x="385.80" y="120.78" width="12.00" height="1.15" fill="#e3e3ff"/>
<rect x="385.80" y="121.78" width="12.00" height="1.15" fill="#ffefef"/>
<rect x="385.80" y="122.78" width="12.00" height="1.15" fill="#c4c4ff"/>
<rect x="385.80" y="123.78" width="12.00" height="1.15" fill="#ffdede"/>
<rect x="385.80" y="124.78" width="12.00" height="1.15" fill="#fffefe"/>
<rect x="385.80" y="125.78" width="12.00" height="1.15" fill="#ffecec"/>
<rect x="385.80" y="126.78" width="12.00" height="1.15" fill="#ffe8e8"/>
<rect x="385.80" y="127.78" width="12.00" height="1.15" fill="#fffcfc"/>
<rect x="385.80" y="128.78" width="12.00" height="1.15" fill="#ececff"/>
<rect x="385.80" y="129.78" width="12.00" height="1.15" fill="#fdfdff"/>
<rect x="385.80" y="130.79" width="12.00" height="1.15" fill="#fffdfd"/>
<rect x="385.80" y="131.79" width="12.00" height="1.15" fill="#f5f5ff"/>
<rect x="385.80" y="132.79" width="12.00" height="1.15" fill="#6c6cff"/>
<rect x="385.80" y="133.79" width="12.00" height="1.15" fill="#ebebff"/>
<rect x="385.80" y="134.79" width="12.00" height="1.15" fill="#f4f4ff"/>
<rect x="385.80" y="135.79" width="12.00" height="1.15" fill="#e2e2ff"/>
<rect x="385.80" y="136.79" width="12.00" height="1.15" fill="#dedeff"/>
<rect x="385.80" y="137.79" width="12.00" height="1.15" fill="#fff2f2"/>
<rect x="385.80" y="138.79" width="12.00" height="1.15" fill="#e7e7ff"/>
<rect x="385.80" y="139.79" width="12.00" height="1.15" fill="#f7f7ff"/>
<rect x="385.80" y="140.79" width="12.00" height="1.15" fill="#fffdfd"/>
<rect x="385.80" y="141.80" width="12.00" height="1.15" fill="#ffebeb"/>
<rect x="385.80" y="142.80" width="12.00" height="1.15" fill="#e8e8ff"/>
<rect x="385.80" y="143.80" width="12.00" height="1.15" fill="#fffafa"/>
<rect x="385.80" y="144.80" width="12.00" height="1.15" fill="#f9f9ff"/>
<rect x="385.80" y="145.80" width="12.00" height="1.15" fill="#eaeaff"/>
<rect x="385.80" y="146.80" width="12.00" height="1.15" fill="#eaeaff"/>
<rect x="385.80" y="147.80" width="12.00" height="1.15" fill="#eaeaff"/>
<rect x="385.80" y="148.80" width="12.00" height="1.15" fill="#eaeaff"/>
<rect x="397.60" y="33.70" width="12.00" height="1.15" fill="#dadaff"/>
<rect x="397.60" y="34.70" width="12.00" height="1.15" fill="#dadaff"/>
<rect x="397.60" y="35.70" width="12.00" height="1.15" fill="#dadaff"/>
<rect x="397.60" y="36.70" width="12.00" height="1.15" fill="#dadaff"/>
<rect x="397.60" y="37.70" width="12.00" height="1.15" fill="#f4f4ff"/>
<rect x="397.60" y="38.70" width="12.00" height="1.15" fill="#dbdbff"/>
<rect x="397.60" y="39.70" width="12.00" height="1.15" fill="#e7e7ff"/>
<rect x="397.60" y="40.70" width="12.00" height="1.15" fill="#ebebff"/>
<rect x="397.60" y="41.70" width="12.00" height="1.15" fill="#eaeaff"/>
<rect x="397.60" y="42.71" width="12.00" height="1.15" fill="#eaeaff"/>
<rect x="397.60" y="43.71" width="12.00" height="1.15" fill="#e1e1ff"/>
<rect x="397.60" y="44.71" width="12.00" height="1.15" fill="#ededff"/>
<rect x="397.60" y="45.71" width="12.00" height="1.15" fill="#eaeaff"/>
<rect x="397.60" y="46.71" width="12.00" height="1.15" fill="#eaeaff"/>
<rect x="397.60" y="47.71" width="12.00" height="1.15" fill="#efefff"/>
<rect x="397.60" y="48.71" width="12.00" height="1.15" fill="#ddddff"/>
<rect x="397.60" y="49.71" width="12.00" height="1.15" fill="#f6f6ff"/>
<rect x="397.60" y="50.71" width="12.00" height="1.15" fill="#e1e1ff"/>
<rect x="397.60" y="51.71" width="12.00" height="1.15" fill="#f1f1ff"/>
<rect x="397.60" y="52.71" width="12.00" height="1.15" fill="#e2e2ff"/>
<rect x="397.60" y="53.72" width="12.00" height="1.15" fill="#dfdfff"/>
<rect x="397.60" y="54.72" width="12.00" height="1.15" fill="#ebebff"/>
<rect x="397.60" y="55.72" width="12.00" height="1.15" fill="#e5e5ff"/>
<rect x="397.60" y="56.72" width="12.00" height="1.15" fill="#eeeeff"/>
<rect x="397.60" y="57.72" width="12.00" height="1.15" fill="#dfdfff"/>
<rect x="397.60" y="58.72" width="12.00" height="1.15" fill="#f8f8ff"/>
<rect x="397.60" y="59.72" width="12.00" height="1.15" fill="#f4f4ff"/>
<rect x="397.60" y="60.72" width="12.00" height="1.15" fill="#f6f6ff"/>
<rect x="397.60" y="61.72" width="12.00" height="1.15" fill="#f6f6ff"/>
<rect x="397.60" y="62.72" width="12.00" height="1.15" fill="#e8e8ff"/>
<rect x="397.60" y="63.72" width="12.00" height="1.15" fill="#fffdfd"/>
<rect x="397.60" y="64.73" width="12.00" height="1.15" fill="#ededff"/>
<rect x="397.60" y="65.73" width="12.00" height="1.15" fill="#e4e4ff"/>
<rect x="397.60" y="66.73" width="12.00" height="1.15" fill="#e9e9ff"/>
<rect x="397.60" y="67.73" width="12.00" height="1.15" fill="#efefff"/>
<rect x="397.60" y="68.73" width="12.00" height="1.15" fill="#f5f5ff"/>
<rect x="397.60" y="69.73" width="12.00" height="1.15" fill="#ececff"/>
<rect x="397.60" y="70.73" width="12.00" height="1.15" fill="#f2f2ff"/>
<rect x="397.60" y="71.73" width="12.00" height="1.15" fill="#f8f8ff"/>
<rect x="397.60" y="72.73" width="12.00" height="1.15" fill="#f5f5ff"/>
<rect x="397.60" y="73.73" width="12.00" height="1.15" fill="#ebebff"/>
<rect x="397.60" y="74.73" width="12.00" height="1.15" fill="#f4f4ff"/>
<rect x="397.60" y="75.74" width="12.00" height="1.15" fill="#f3f3ff"/>
<rect x="397.60" y="76.74" width="12.00" height="1.15" fill="#f5f5ff"/>
<rect x="397.60" y="77.74" width="12.00" height="1.15" fill="#e9e9ff"/>
<rect x="397.60" y="78.74" width="12.00" height="1.15" fill="#f2f2ff"/>
<rect x="397.60" y="79.74" width="12.00" height="1.15" fill="#f4f4ff"/>
<rect x="397.60" y="80.74" width="12.00" height="1.15" fill="#f0f0ff"/>
<rect x="397.60" y="81.74" width="12.00" height="1.15" fill="#f4f4ff"/>
<rect x="397.60" y="82.74" width="12.00" height="1.15" fill="#f2f2ff"/>
<rect x="397.60" y="83.74" width="12.00" height="1.15" fill="#ddddff"/>
<rect x="397.60" y="84.74" width="12.00" height="1.15" fill="#f5f5ff"/>
<rect x="397.60" y="85.74" width="12.00" height="1.15" fill="#f7f7ff"/>
<rect x="397.60" y="86.75" width="12.00" height="1.15" fill="#ededff"/>
<rect x="397.60" y="87.75" width="12.00" height="1.15" fill="#f7f7ff"/>
<rect x="397.60" y="88.75" width="12.00" height="1.15" fill="#e2e2ff"/>
<rect x="397.60" y="89.75" width="12.00" height="1.15" fill="#e2e2ff"/>
<rect x="397.60" y="90.75" width="12.00" height="1.15" fill="#f3f3ff"/>
<rect x="397.60" y="91.75" width="12.00" height="1.15" fill="#efefff"/>
<rect x="397.60" y="92.75" width="12.00" height="1.15" fill="#e9e9ff"/>
<rect x="397.60" y="93.75" width="12.00" height="1.15" fill="#efefff"/>
<rect x="397.60" y="94.75" width="12.00" height="1.15" fill="#e8e8ff"/>
<rect x="397.60" y="95.75" width="12.00" height="1.15" fill="#e2e2ff"/>
<rect x="397.60" y="96.75" width="12.00" height="1.15" fill="#e7e7ff"/>
<rect x="397.60" y="97.76" width="12.00" height="1.15" fill="#e3e3ff"/>
<rect x="397.60" y="98.76" width="12.00" height="1.15" fill="#dadaff"/>
<rect x="397.60" y="99.76" width="12.00" height="1.15" fill="#e6e6ff"/>
<rect x="397.60" y="100.76" width="12.00" height="1.15" fill="#e2e2ff"/>
<rect x="397.60" y="101.76" width="12.00" height="1.15" fill="#d7d7ff"/>
<rect x="397.60" y="102.76" width="12.00" height="1.15" fill="#eaeaff"/>
<rect x="397.60" y="103.76" width="12.00" height="1.15" fill="#dedeff"/>
<rect x="397.60" y="104.76" width="12.00" height="1.15" fill="#eaeaff"/>
<rect x="397.60" y="105.76" width="12.00" height="1.15" fill="#e3e3ff"/>
<rect x="397.60" y="106.76" width="12.00" height="1.15" fill="#e5e5ff"/>
<rect x="397.60" y="107.76" width="12.00" height="1.15" fill="#ddddff"/>
<rect x="397.60" y="108.77" width="12.00" height="1.15" fill="#e5e5ff"/>
<rect x="397.60" y="109.77" width="12.00" height="1.15" fill="#d7d7ff"/>
<rect x="397.60" y="110.77" width="12.00" height="1.15" fill="#efefff"/>
<rect x="397.60" y="111.77" width="12.00" height="1.15" fill="#dadaff"/>
<rect x="397.60" y="112.77" width="12.00" height="1.15" fill="#e5e5ff"/>
<rect x="397.60" y="113.77" width="12.00" height="1.15" fill="#dadaff"/>
<rect x="397.60" y="114.77" width="12.00" height="1.15" fill="#e0e0ff"/>
<rect x="397.60" y="115.77" width="12.00" height="1.15" fill="#ececff"/>
<rect x="397.60" y="116.77" width="12.00" height="1.15" fill="#ededff"/>
<rect x="397.60" y="117.77" width="12.00" height="1.15" fill="#d5d5ff"/>
<rect x="397.60" y="118.77" width="12.00" height="1.15" fill="#e7e7ff"/>
<rect x="397.60" y="119.78" width="12.00" height="1.15" fill="#e1e1ff"/>
<rect x="397.60" y="120.78" width="12.00" height="1.15" fill="#dbdbff"/>
<rect x="397.60" y="121.78" width="12.00" height="1.15" fill="#dadaff"/>
<rect x="397.60" y="122.78" width="12.00" height="1.15" fill="#e3e3ff"/>
<rect x="397.60" y="123.78" width="12.00" height="1.15" fill="#dcdcff"/>
<rect x="397.60" y="124.78" width="12.00" height="1.15" fill="#e3e3ff"/>
<rect x="397.60" y="125.78" width="12.00" height="1.15" fill="#e1e1ff"/>
<rect x="397.60" y="126.78" width="12.00" height="1.15" fill="#dfdfff"/>
<rect x="397.60" y="127.78" width="12.00" height="1.15" fill="#dfdfff"/>
<rect x="397.60" y="128.78" width="12.00" height="1.15" fill="#e7e7ff"/>
<rect x="397.60" y="129.78" width="12.00" height="1.15" fill="#d7d7ff"/>
<rect x="397.60" y="130.79" width="12.00" height="1.15" fill="#ebebff"/>
<rect x="397.60" y="131.79" width="12.00" height="1.15" fill="#ff8d8d"/>
<rect x="397.60" y="132.79" width="12.00" height="1.15" fill="#ff8d8d"/>
<rect x="397.60" y="133.79" width="12.00" height="1.15" fill="#ff8b8b"/>
<rect x="397.60" y="134.79" width="12.00" height="1.15" fill="#ff8989"/>
<rect x="397.60" y="135.79" width="12.00" height="1.15" fill="#ff8b8b"/>
<rect x="397.60" y="136.79" width="12.00" height="1.15" fill="#ff8e8e"/>
<rect x="397.60" y="137.79" width="12.00" height="1.15" fill="#ff8989"/>
<rect x="397.60" y="138.79" width="12.00" height="1.15" fill="#ff9191"/>
<rect x="397.60" y="139.79" width="12.00" height="1.15" fill="#ff8989"/>
<rect x="397.60" y="140.79" width="12.00" height="1.15" fill="#ff8888"/>
<rect x="397.60" y="141.80" width="12.00" height="1.15" fill="#ff8c8c"/>
<rect x="397.60" y="142.80" width="12.00" height="1.15" fill="#ff8c8c"/>
<rect x="397.60" y="143.80" width="12.00" height="1.15" fill="#ff8989"/>
<rect x="397.60" y="144.80" width="12.00" height="1.15" fill="#ff8e8e"/>
<rect x="397.60" y="145.80" width="12.00" height="1.15" fill="#ff8b8b"/>
<rect x="397.60" y="146.80" width="12.00" height="1.15" fill="#ff8b8b"/>
<rect x="397.60" y="147.80" width="12.00" height="1.15" fill="#ff8b8b"/>
<rect x="397.60" y="148.80" width="12.00" height="1.15" fill="#ff8b8b"/>
<rect x="409.40" y="33.70" width="12.00" height="1.15" fill="#fefeff"/>
<rect x="409.40" y="34.70" width="12.00" height="1.15" fill="#fefeff"/>
<rect x="409.40" y="35.70" width="12.00" height="1.15" fill="#fefeff"/>
<rect x="409.40" y="36.70" width="12.00" height="1.15" fill="#fefeff"/>
<rect x="409.40" y="37.70" width="12.00" height="1.15" fill="#dfdfff"/>
<rect x="409.40" y="38.70" width="12.00" height="1.15" fill="#c5c5ff"/>
<rect x="409.40" y="39.70" width="12.00" height="1.15" fill="#cfcfff"/>
<rect x="409.40" y="40.70" width="12.00" height="1.15" fill="#eeeeff"/>
<rect x="409.40" y="41.70" width="12.00" height="1.15" fill="#cbcbff"/>
<rect x="409.40" y="42.71" width="12.00" height="1.15" fill="#d3d3ff"/>
<rect x="409.40" y="43.71" width="12.00" height="1.15" fill="#c1c1ff"/>
<rect x="409.40" y="44.71" width="12.00" height="1.15" fill="#eaeaff"/>
<rect x="409.40" y="45.71" width="12.00" height="1.15" fill="#d9d9ff"/>
<rect x="409.40" y="46.71" width="12.00" height="1.15" fill="#d2d2ff"/>
<rect x="409.40" y="47.71" width="12.00" height="1.15" fill="#eeeeff"/>
<rect x="409.40" y="48.71" width="12.00" height="1.15" fill="#ffeeee"/>
<rect x="409.40" y="49.71" width="12.00" height="1.15" fill="#c2c2ff"/>
<rect x="409.40" y="50.71" width="12.00" height="1.15" fill="#dedeff"/>
<rect x="409.40" y="51.71" width="12.00" height="1.15" fill="#b8b8ff"/>
<rect x="409.40" y="52.71" width="12.00" height="1.15" fill="#c1c1ff"/>
<rect x="409.40" y="53.72" width="12.00" height="1.15" fill="#e4e4ff"/>
<rect x="409.40" y="54.72" width="12.00" height="1.15" fill="#ffebeb"/>
<rect x="409.40" y="55.72" width="12.00" height="1.15" fill="#ccccff"/>
<rect x="409.40" y="56.72" width="12.00" height="1.15" fill="#fefeff"/>
<rect x="409.40" y="57.72" width="12.00" height="1.15" fill="#ffe7e7"/>
<rect x="409.40" y="58.72" width="12.00" height="1.15" fill="#ffaeae"/>
<rect x="409.40" y="59.72" width="12.00" height="1.15" fill="#ffc2c2"/>
<rect x="409.40" y="60.72" width="12.00" height="1.15" fill="#ffdcdc"/>
<rect x="409.40" y="61.72" width="12.00" height="1.15" fill="#ffd8d8"/>
<rect x="409.40" y="62.72" width="12.00" height="1.15" fill="#ffecec"/>
<rect x="409.40" y="63.72" width="12.00" height="1.15" fill="#ffd2d2"/>
<rect x="409.40" y="64.73" width="12.00" height="1.15" fill="#ffe6e6"/>
<rect x="409.40" y="65.73" width="12.00" height="1.15" fill="#ffc8c8"/>
<rect x="409.40" y="66.73" width="12.00" height="1.15" fill="#ffd2d2"/>
<rect x="409.40" y="67.73" width="12.00" height="1.15" fill="#ffc7c7"/>
<rect x="409.40" y="68.73" width="12.00" height="1.15" fill="#ffcaca"/>
<rect x="409.40" y="69.73" width="12.00" height="1.15" fill="#ff9999"/>
<rect x="409.40" y="70.73" width="12.00" height="1.15" fill="#ffa3a3"/>
<rect x="409.40" y="71.73" width="12.00" height="1.15" fill="#ffd2d2"/>
<rect x="409.40" y="72.73" width="12.00" height="1.15" fill="#ffeaea"/>
<rect x="409.40" y="73.73" width="12.00" height="1.15" fill="#ffa8a8"/>
<rect x="409.40" y="74.73" width="12.00" height="1.15" fill="#ffecec"/>
<rect x="409.40" y="75.74" width="12.00" height="1.15" fill="#ffc9c9"/>
<rect x="409.40" y="76.74" width="12.00" height="1.15" fill="#ffadad"/>
<rect x="409.40" y="77.74" width="12.00" height="1.15" fill="#ffd8d8"/>
<rect x="409.40" y="78.74" width="12.00" height="1.15" fill="#fff0f0"/>
<rect x="409.40" y="79.74" width="12.00" height="1.15" fill="#fff4f4"/>
<rect x="409.40" y="80.74" width="12.00" height="1.15" fill="#ffdede"/>
<rect x="409.40" y="81.74" width="12.00" height="1.15" fill="#fffbfb"/>
<rect x="409.40" y="82.74" width="12.00" height="1.15" fill="#f4f4ff"/>
<rect x="409.40" y="83.74" width="12.00" height="1.15" fill="#ebebff"/>
<rect x="409.40" y="84.74" width="12.00" height="1.15" fill="#ffe7e7"/>
<rect x="409.40" y="85.74" width="12.00" height="1.15" fill="#fffdfd"/>
<rect x="409.40" y="86.75" width="12.00" height="1.15" fill="#efefff"/>
<rect x="409.40" y="87.75" width="12.00" height="1.15" fill="#fefeff"/>
<rect x="409.40" y="88.75" width="12.00" height="1.15" fill="#fafaff"/>
<rect x="409.40" y="89.75" width="12.00" height="1.15" fill="#fffefe"/>
<rect x="409.40" y="90.75" width="12.00" height="1.15" fill="#ffdcdc"/>
<rect x="409.40" y="91.75" width="12.00" height="1.15" fill="#ffd9d9"/>
<rect x="409.40" y="92.75" width="12.00" height="1.15" fill="#fffcfc"/>
<rect x="409.40" y="93.75" width="12.00" height="1.15" fill="#ffdfdf"/>
<rect x="409.40" y="94.75" width="12.00" height="1.15" fill="#ffcccc"/>
<rect x="409.40" y="95.75" width="12.00" height="1.15" fill="#ffd7d7"/>
<rect x="409.40" y="96.75" width="12.00" height="1.15" fill="#f7f7ff"/>
<rect x="409.40" y="97.76" width="12.00" height="1.15" fill="#fff0f0"/>
<rect x="409.40" y="98.76" width="12.00" height="1.15" fill="#fafaff"/>
<rect x="409.40" y="99.76" width="12.00" height="1.15" fill="#ffdbdb"/>
<rect x="409.40" y="100.76" width="12.00" height="1.15" fill="#f9f9ff"/>
<rect x="409.40" y="101.76" width="12.00" height="1.15" fill="#fff6f6"/>
<rect x="409.40" y="102.76" width="12.00" height="1.15" fill="#ffbfbf"/>
<rect x="409.40" y="103.76" width="12.00" height="1.15" fill="#fff2f2"/>
<rect x="409.40" y="104.76" width="12.00" height="1.15" fill="#ffe2e2"/>
<rect x="409.40" y="105.76" width="12.00" height="1.15" fill="#fff0f0"/>
<rect x="409.40" y="106.76" width="12.00" height="1.15" fill="#ffdada"/>
<rect x="409.40" y="107.76" width="12.00" height="1.15" fill="#ffdddd"/>
<rect x="409.40" y="108.77" width="12.00" height="1.15" fill="#fdfdff"/>
<rect x="409.40" y="109.77" width="12.00" height="1.15" fill="#ffc2c2"/>
<rect x="409.40" y="110.77" width="12.00" height="1.15" fill="#ffd7d7"/>
<rect x="409.40" y="111.77" width="12.00" height="1.15" fill="#e0e0ff"/>
<rect x="409.40" y="112.77" width="12.00" height="1.15" fill="#fff1f1"/>
<rect x="409.40" y="113.77" width="12.00" height="1.15" fill="#e9e9ff"/>
<rect x="409.40" y="114.77" width="12.00" height="1.15" fill="#fcfcff"/>
<rect x="409.40" y="115.77" width="12.00" height="1.15" fill="#efefff"/>
<rect x="409.40" y="116.77" width="12.00" height="1.15" fill="#ffe3e3"/>
<rect x="409.40" y="117.77" width="12.00" height="1.15" fill="#e6e6ff"/>
<rect x="409.40" y="118.77" width="12.00" height="1.15" fill="#fff5f5"/>
<rect x="409.40" y="119.78" width="12.00" height="1.15" fill="#fff9f9"/>
<rect x="409.40" y="120.78" width="12.00" height="1.15" fill="#ffe8e8"/>
<rect x="409.40" y="121.78" width="12.00" height="1.15" fill="#fff2f2"/>
<rect x="409.40" y="122.78" width="12.00" height="1.15" fill="#ffe4e4"/>
<rect x="409.40" y="123.78" width="12.00" height="1.15" fill="#fff4f4"/>
<rect x="409.40" y="124.78" width="12.00" height="1.15" fill="#dbdbff"/>
<rect x="409.40" y="125.78" width="12.00" height="1.15" fill="#fff0f0"/>
<rect x="409.40" y="126.78" width="12.00" height="1.15" fill="#f2f2ff"/>
<rect x="409.40" y="127.78" width="12.00" height="1.15" fill="#ffdede"/>
<rect x="409.40" y="128.78" width="12.00" height="1.15" fill="#ffe6e6"/>
<rect x="409.40" y="129.78" width="12.00" height="1.15" fill="#f2f2ff"/>
<rect x="409.40" y="130.79" width="12.00" height="1.15" fill="#ffdede"/>
<rect x="409.40" y="131.79" width="12.00" height="1.15" fill="#eeeeff"/>
<rect x="409.40" y="132.79" width="12.00" height="1.15" fill="#f5f5ff"/>
<rect x="409.40" y="133.79" width="12.00" height="1.15" fill="#bfbfff"/>
<rect x="409.40" y="134.79" width="12.00" height="1.15" fill="#e5e5ff"/>
<rect x="409.40" y="135.79" width="12.00" height="1.15" fill="#f4f4ff"/>
<rect x="409.40" y="136.79" width="12.00" height="1.15" fill="#f1f1ff"/>
<rect x="409.40" y="137.79" width="12.00" height="1.15" fill="#ececff"/>
<rect x="409.40" y="138.79" width="12.00" height="1.15" fill="#fcfcff"/>
<rect x="409.40" y="139.79" width="12.00" height="1.15" fill="#bfbfff"/>
<rect x="409.40" y="140.79" width="12.00" height="1.15" fill="#fefeff"/>
<rect x="409.40" y="141.80" width="12.00" height="1.15" fill="#e9e9ff"/>
<rect x="409.40" y="142.80" width="12.00" height="1.15" fill="#fff7f7"/>
<rect x="409.40" y="143.80" width="12.00" height="1.15" fill="#e0e0ff"/>
<rect x="409.40" y="144.80" width="12.00" height="1.15" fill="#fffcfc"/>
<rect x="409.40" y="145.80" width="12.00" height="1.15" fill="#cdcdff"/>
<rect x="409.40" y="146.80" width="12.00" height="1.15" fill="#cdcdff"/>
<rect x="409.40" y="147.80" width="12.00" height="1.15" fill="#cdcdff"/>
<rect x="409.40" y="148.80" width="12.00" height="1.15" fill="#cdcdff"/>
<rect x="421.20" y="33.70" width="12.00" height="1.15" fill="#e8e8ff"/>
<rect x="421.20" y="34.70" width="12.00" height="1.15" fill="#e8e8ff"/>
<rect x="421.20" y="35.70" width="12.00" height="1.15" fill="#e8e8ff"/>
<rect x="421.20" y="36.70" width="12.00" height="1.15" fill="#e8e8ff"/>
<rect x="421.20" y="37.70" width="12.00" height="1.15" fill="#f1f1ff"/>
<rect x="421.20" y="38.70" width="12.00" height="1.15" fill="#ffdede"/>
<rect x="421.20" y="39.70" width="12.00" height="1.15" fill="#ceceff"/>
<rect x="421.20" y="40.70" width="12.00" height="1.15" fill="#dbdbff"/>
<rect x="421.20" y="41.70" width="12.00" height="1.15" fill="#e4e4ff"/>
<rect x="421.20" y="42.71" width="12.00" height="1.15" fill="#cacaff"/>
<rect x="421.20" y="43.71" width="12.00" height="1.15" fill="#d3d3ff"/>
<rect x="421.20" y="44.71" width="12.00" height="1.15" fill="#d3d3ff"/>
<rect x="421.20" y="45.71" width="12.00" height="1.15" fill="#b8b8ff"/>
<rect x="421.20" y="46.71" width="12.00" height="1.15" fill="#dcdcff"/>
<rect x="421.20" y="47.71" width="12.00" height="1.15" fill="#c5c5ff"/>
<rect x="421.20" y="48.71" width="12.00" height="1.15" fill="#fff9f9"/>
<rect x="421.20" y="49.71" width="12.00" height="1.15" fill="#8e8eff"/>
<rect x="421.20" y="50.71" width="12.00" height="1.15" fill="#c2c2ff"/>
<rect x="421.20" y="51.71" width="12.00" height="1.15" fill="#f2f2ff"/>
<rect x="421.20" y="52.71" width="12.00" height="1.15" fill="#fafaff"/>
<rect x="421.20" y="53.72" width="12.00" height="1.15" fill="#d7d7ff"/>
<rect x="421.20" y="54.72" width="12.00" height="1.15" fill="#eaeaff"/>
<rect x="421.20" y="55.72" width="12.00" height="1.15" fill="#f3f3ff"/>
<rect x="421.20" y="56.72" width="12.00" height="1.15" fill="#ffd2d2"/>
<rect x="421.20" y="57.72" width="12.00" height="1.15" fill="#ffd1d1"/>
<rect x="421.20" y="58.72" width="12.00" height="1.15" fill="#ffe6e6"/>
<rect x="421.20" y="59.72" width="12.00" height="1.15" fill="#eaeaff"/>
<rect x="421.20" y="60.72" width="12.00" height="1.15" fill="#ffe7e7"/>
<rect x="421.20" y="61.72" width="12.00" height="1.15" fill="#ffdada"/>
<rect x="421.20" y="62.72" width="12.00" height="1.15" fill="#ffc9c9"/>
<rect x="421.20" y="63.72" width="12.00" height="1.15" fill="#ffb5b5"/>
<rect x="421.20" y="64.73" width="12.00" height="1.15" fill="#fff5f5"/>
<rect x="421.20" y="65.73" width="12.00" height="1.15" fill="#ffcece"/>
<rect x="421.20" y="66.73" width="12.00" height="1.15" fill="#ffc9c9"/>
<rect x="421.20" y="67.73" width="12.00" height="1.15" fill="#efefff"/>
<rect x="421.20" y="68.73" width="12.00" height="1.15" fill="#fff0f0"/>
<rect x="421.20" y="69.73" width="12.00" height="1.15" fill="#ffc5c5"/>
<rect x="421.20" y="70.73" width="12.00" height="1.15" fill="#ffd2d2"/>
<rect x="421.20" y="71.73" width="12.00" height="1.15" fill="#ff8484"/>
<rect x="421.20" y="72.73" width="12.00" height="1.15" fill="#ffdede"/>
<rect x="421.20" y="73.73" width="12.00" height="1.15" fill="#ffb9b9"/>
<rect x="421.20" y="74.73" width="12.00" height="1.15" fill="#ffeded"/>
<rect x="421.20" y="75.74" width="12.00" height="1.15" fill="#f3f3ff"/>
<rect x="421.20" y="76.74" width="12.00" height="1.15" fill="#ffdfdf"/>
<rect x="421.20" y="77.74" width="12.00" height="1.15" fill="#fff4f4"/>
<rect x="421.20" y="78.74" width="12.00" height="1.15" fill="#fffcfc"/>
<rect x="421.20" y="79.74" width="12.00" height="1.15" fill="#ffdfdf"/>
<rect x="421.20" y="80.74" width="12.00" height="1.15" fill="#ffd3d3"/>
<rect x="421.20" y="81.74" width="12.00" height="1.15" fill="#ffa3a3"/>
<rect x="421.20" y="82.74" width="12.00" height="1.15" fill="#f5f5ff"/>
<rect x="421.20" y="83.74" width="12.00" height="1.15" fill="#fff5f5"/>
<rect x="421.20" y="84.74" width="12.00" height="1.15" fill="#ffc9c9"/>
<rect x="421.20" y="85.74" width="12.00" height="1.15" fill="#fffbfb"/>
<rect x="421.20" y="86.75" width="12.00" height="1.15" fill="#fffafa"/>
<rect x="421.20" y="87.75" width="12.00" height="1.15" fill="#fffcfc"/>
<rect x="421.20" y="88.75" width="12.00" height="1.15" fill="#ffeeee"/>
<rect x="421.20" y="89.75" width="12.00" height="1.15" fill="#fff2f2"/>
<rect x="421.20" y="90.75" width="12.00" height="1.15" fill="#ffe9e9"/>
<rect x="421.20" y="91.75" width="12.00" height="1.15" fill="#ffdddd"/>
<rect x="421.20" y="92.75" width="12.00" height="1.15" fill="#ffe4e4"/>
<rect x="421.20" y="93.75" width="12.00" height="1.15" fill="#fff2f2"/>
<rect x="421.20" y="94.75" width="12.00" height="1.15" fill="#ffb7b7"/>
<rect x="421.20" y="95.75" width="12.00" height="1.15" fill="#e1e1ff"/>
<rect x="421.20" y="96.75" width="12.00" height="1.15" fill="#ffefef"/>
<rect x="421.20" y="97.76" width="12.00" height="1.15" fill="#fbfbff"/>
<rect x="421.20" y="98.76" width="12.00" height="1.15" fill="#ffe6e6"/>
<rect x="421.20" y="99.76" width="12.00" height="1.15" fill="#fafaff"/>
<rect x="421.20" y="100.76" width="12.00" height="1.15" fill="#fff3f3"/>
<rect x="421.20" y="101.76" width="12.00" height="1.15" fill="#fff0f0"/>
<rect x="421.20" y="102.76" width="12.00" height="1.15" fill="#f9f9ff"/>
<rect x="421.20" y="103.76" width="12.00" height="1.15" fill="#ffe6e6"/>
<rect x="421.20" y="104.76" width="12.00" height="1.15" fill="#ffd8d8"/>
<rect x="421.20" y="105.76" width="12.00" height="1.15" fill="#fffcfc"/>
<rect x="421.20" y="106.76" width="12.00" height="1.15" fill="#ffeded"/>
<rect x="421.20" y="107.76" width="12.00" height="1.15" fill="#fffcfc"/>
<rect x="421.20" y="108.77" width="12.00" height="1.15" fill="#ffd7d7"/>
<rect x="421.20" y="109.77" width="12.00" height="1.15" fill="#f8f8ff"/>
<rect x="421.20" y="110.77" width="12.00" height="1.15" fill="#ffe9e9"/>
<rect x="421.20" y="111.77" width="12.00" height="1.15" fill="#cacaff"/>
<rect x="421.20" y="112.77" width="12.00" height="1.15" fill="#f3f3ff"/>
<rect x="421.20" y="113.77" width="12.00" height="1.15" fill="#fffafa"/>
<rect x="421.20" y="114.77" width="12.00" height="1.15" fill="#ededff"/>
<rect x="421.20" y="115.77" width="12.00" height="1.15" fill="#f3f3ff"/>
<rect x="421.20" y="116.77" width="12.00" height="1.15" fill="#ececff"/>
<rect x="421.20" y="117.77" width="12.00" height="1.15" fill="#e4e4ff"/>
<rect x="421.20" y="118.77" width="12.00" height="1.15" fill="#f3f3ff"/>
<rect x="421.20" y="119.78" width="12.00" height="1.15" fill="#f9f9ff"/>
<rect x="421.20" y="120.78" width="12.00" height="1.15" fill="#fff9f9"/>
<rect x="421.20" y="121.78" width="12.00" height="1.15" fill="#ededff"/>
<rect x="421.20" y="122.78" width="12.00" height="1.15" fill="#ffeded"/>
<rect x="421.20" y="123.78" width="12.00" height="1.15" fill="#ffd9d9"/>
<rect x="421.20" y="124.78" width="12.00" height="1.15" fill="#f0f0ff"/>
<rect x="421.20" y="125.78" width="12.00" height="1.15" fill="#fff0f0"/>
<rect x="421.20" y="126.78" width="12.00" height="1.15" fill="#ffe3e3"/>
<rect x="421.20" y="127.78" width="12.00" height="1.15" fill="#f4f4ff"/>
<rect x="421.20" y="128.78" width="12.00" height="1.15" fill="#ffeeee"/>
<rect x="421.20" y="129.78" width="12.00" height="1.15" fill="#e1e1ff"/>
<rect x="421.20" y="130.79" width="12.00" height="1.15" fill="#ffd6d6"/>
<rect x="421.20" y="131.79" width="12.00" height="1.15" fill="#f4f4ff"/>
<rect x="421.20" y="132.79" width="12.00" height="1.15" fill="#d1d1ff"/>
<rect x="421.20" y="133.79" width="12.00" height="1.15" fill="#ffeded"/>
<rect x="421.20" y="134.79" width="12.00" height="1.15" fill="#d2d2ff"/>
<rect x="421.20" y="135.79" width="12.00" height="1.15" fill="#f4f4ff"/>
<rect x="421.20" y="136.79" width="12.00" height="1.15" fill="#dadaff"/>
<rect x="421.20" y="137.79" width="12.00" height="1.15" fill="#ffe7e7"/>
<rect x="421.20" y="138.79" width="12.00" height="1.15" fill="#f6f6ff"/>
<rect x="421.20" y="139.79" width="12.00" height="1.15" fill="#ddddff"/>
<rect x="421.20" y="140.79" width="12.00" height="1.15" fill="#ececff"/>
<rect x="421.20" y="141.80" width="12.00" height="1.15" fill="#efefff"/>
<rect x="421.20" y="142.80" width="12.00" height="1.15" fill="#dedeff"/>
<rect x="421.20" y="143.80" width="12.00" height="1.15" fill="#d2d2ff"/>
<rect x="421.20" y="144.80" width="12.00" height="1.15" fill="#fff0f0"/>
<rect x="421.20" y="145.80" width="12.00" height="1.15" fill="#fffbfb"/>
<rect x="421.20" y="146.80" width="12.00" height="1.15" fill="#fffbfb"/>
<rect x="421.20" y="147.80" width="12.00" height="1.15" fill="#fffbfb"/>
<rect x="421.20" y="148.80" width="12.00" height="1.15" fill="#fffbfb"/>
<rect x="433.00" y="33.70" width="12.00" height="1.15" fill="#ebebff"/>
<rect x="433.00" y="34.70" width="12.00" height="1.15" fill="#ebebff"/>
<rect x="433.00" y="35.70" width="12.00" height="1.15" fill="#ebebff"/>
<rect x="433.00" y="36.70" width="12.00" height="1.15" fill="#ebebff"/>
<rect x="433.00" y="37.70" width="12.00" height="1.15" fill="#e2e2ff"/>
<rect x="433.00" y="38.70" width="12.00" height="1.15" fill="#d1d1ff"/>
<rect x="433.00" y="39.70" width="12.00" height="1.15" fill="#ebebff"/>
<rect x="433.00" y="40.70" width="12.00" height="1.15" fill="#8e8eff"/>
<rect x="433.00" y="41.70" width="12.00" height="1.15" fill="#b9b9ff"/>
<rect x="433.00" y="42.71" width="12.00" height="1.15" fill="#c5c5ff"/>
<rect x="433.00" y="43.71" width="12.00" height="1.15" fill="#9797ff"/>
<rect x="433.00" y="44.71" width="12.00" height="1.15" fill="#9d9dff"/>
<rect x="433.00" y="45.71" width="12.00" height="1.15" fill="#dcdcff"/>
<rect x="433.00" y="46.71" width="12.00" height="1.15" fill="#c3c3ff"/>
<rect x="433.00" y="47.71" width="12.00" height="1.15" fill="#ababff"/>
<rect x="433.00" y="48.71" width="12.00" height="1.15" fill="#b4b4ff"/>
<rect x="433.00" y="49.71" width="12.00" height="1.15" fill="#bebeff"/>
<rect x="433.00" y="50.71" width="12.00" height="1.15" fill="#7a7aff"/>
<rect x="433.00" y="51.71" width="12.00" height="1.15" fill="#eaeaff"/>
<rect x="433.00" y="52.71" width="12.00" height="1.15" fill="#cbcbff"/>
<rect x="433.00" y="53.72" width="12.00" height="1.15" fill="#d9d9ff"/>
<rect x="433.00" y="54.72" width="12.00" height="1.15" fill="#ceceff"/>
<rect x="433.00" y="55.72" width="12.00" height="1.15" fill="#dbdbff"/>
<rect x="433.00" y="56.72" width="12.00" height="1.15" fill="#ffe8e8"/>
<rect x="433.00" y="57.72" width="12.00" height="1.15" fill="#fbfbff"/>
<rect x="433.00" y="58.72" width="12.00" height="1.15" fill="#fbfbff"/>
<rect x="433.00" y="59.72" width="12.00" height="1.15" fill="#ffeded"/>
<rect x="433.00" y="60.72" width="12.00" height="1.15" fill="#fffafa"/>
<rect x="433.00" y="61.72" width="12.00" height="1.15" fill="#ffd0d0"/>
<rect x="433.00" y="62.72" width="12.00" height="1.15" fill="#ffc9c9"/>
<rect x="433.00" y="63.72" width="12.00" height="1.15" fill="#ffe4e4"/>
<rect x="433.00" y="64.73" width="12.00" height="1.15" fill="#ffecec"/>
<rect x="433.00" y="65.73" width="12.00" height="1.15" fill="#ffe3e3"/>
<rect x="433.00" y="66.73" width="12.00" height="1.15" fill="#ffdddd"/>
<rect x="433.00" y="67.73" width="12.00" height="1.15" fill="#fcfcff"/>
<rect x="433.00" y="68.73" width="12.00" height="1.15" fill="#fff6f6"/>
<rect x="433.00" y="69.73" width="12.00" height="1.15" fill="#ffcece"/>
<rect x="433.00" y="70.73" width="12.00" height="1.15" fill="#fff0f0"/>
<rect x="433.00" y="71.73" width="12.00" height="1.15" fill="#fff7f7"/>
<rect x="433.00" y="72.73" width="12.00" height="1.15" fill="#fff6f6"/>
<rect x="433.00" y="73.73" width="12.00" height="1.15" fill="#ffd4d4"/>
<rect x="433.00" y="74.73" width="12.00" height="1.15" fill="#fffcfc"/>
<rect x="433.00" y="75.74" width="12.00" height="1.15" fill="#f1f1ff"/>
<rect x="433.00" y="76.74" width="12.00" height="1.15" fill="#fff5f5"/>
<rect x="433.00" y="77.74" width="12.00" height="1.15" fill="#f6f6ff"/>
<rect x="433.00" y="78.74" width="12.00" height="1.15" fill="#f4f4ff"/>
<rect x="433.00" y="79.74" width="12.00" height="1.15" fill="#ffe6e6"/>
<rect x="433.00" y="80.74" width="12.00" height="1.15" fill="#efefff"/>
<rect x="433.00" y="81.74" width="12.00" height="1.15" fill="#f0f0ff"/>
<rect x="433.00" y="82.74" width="12.00" height="1.15" fill="#ededff"/>
<rect x="433.00" y="83.74" width="12.00" height="1.15" fill="#ffd9d9"/>
<rect x="433.00" y="84.74" width="12.00" height="1.15" fill="#ffefef"/>
<rect x="433.00" y="85.74" width="12.00" height="1.15" fill="#ffe4e4"/>
<rect x="433.00" y="86.75" width="12.00" height="1.15" fill="#f6f6ff"/>
<rect x="433.00" y="87.75" width="12.00" height="1.15" fill="#e9e9ff"/>
<rect x="433.00" y="88.75" width="12.00" height="1.15" fill="#ffe7e7"/>
<rect x="433.00" y="89.75" width="12.00" height="1.15" fill="#fffefe"/>
<rect x="433.00" y="90.75" width="12.00" height="1.15" fill="#fff5f5"/>
<rect x="433.00" y="91.75" width="12.00" height="1.15" fill="#f1f1ff"/>
<rect x="433.00" y="92.75" width="12.00" height="1.15" fill="#fefeff"/>
<rect x="433.00" y="93.75" width="12.00" height="1.15" fill="#ffefef"/>
<rect x="433.00" y="94.75" width="12.00" height="1.15" fill="#f1f1ff"/>
<rect x="433.00" y="95.75" width="12.00" height="1.15" fill="#f4f4ff"/>
<rect x="433.00" y="96.75" width="12.00" height="1.15" fill="#fcfcff"/>
<rect x="433.00" y="97.76" width="12.00" height="1.15" fill="#fff1f1"/>
<rect x="433.00" y="98.76" width="12.00" height="1.15" fill="#e6e6ff"/>
<rect x="433.00" y="99.76" width="12.00" height="1.15" fill="#f5f5ff"/>
<rect x="433.00" y="100.76" width="12.00" height="1.15" fill="#ffe9e9"/>
<rect x="433.00" y="101.76" width="12.00" height="1.15" fill="#ffd2d2"/>
<rect x="433.00" y="102.76" width="12.00" height="1.15" fill="#eeeeff"/>
<rect x="433.00" y="103.76" width="12.00" height="1.15" fill="#fafaff"/>
<rect x="433.00" y="104.76" width="12.00" height="1.15" fill="#f4f4ff"/>
<rect x="433.00" y="105.76" width="12.00" height="1.15" fill="#fdfdff"/>
<rect x="433.00" y="106.76" width="12.00" height="1.15" fill="#fff6f6"/>
<rect x="433.00" y="107.76" width="12.00" height="1.15" fill="#f9f9ff"/>
<rect x="433.00" y="108.77" width="12.00" height="1.15" fill="#ffe7e7"/>
<rect x="433.00" y="109.77" width="12.00" height="1.15" fill="#ffdfdf"/>
<rect x="433.00" y="110.77" width="12.00" height="1.15" fill="#e0e0ff"/>
<rect x="433.00" y="111.77" width="12.00" height="1.15" fill="#fdfdff"/>
<rect x="433.00" y="112.77" width="12.00" height="1.15" fill="#ffe8e8"/>
<rect x="433.00" y="113.77" width="12.00" height="1.15" fill="#dadaff"/>
<rect x="433.00" y="114.77" width="12.00" height="1.15" fill="#fffefe"/>
<rect x="433.00" y="115.77" width="12.00" height="1.15" fill="#ffdddd"/>
<rect x="433.00" y="116.77" width="12.00" height="1.15" fill="#fff2f2"/>
<rect x="433.00" y="117.77" width="12.00" height="1.15" fill="#ffe1e1"/>
<rect x="433.00" y="118.77" width="12.00" height="1.15" fill="#fff8f8"/>
<rect x="433.00" y="119.78" width="12.00" height="1.15" fill="#ffd6d6"/>
<rect x="433.00" y="120.78" width="12.00" height="1.15" fill="#fffcfc"/>
<rect x="433.00" y="121.78" width="12.00" height="1.15" fill="#f9f9ff"/>
<rect x="433.00" y="122.78" width="12.00" height="1.15" fill="#fff5f5"/>
<rect x="433.00" y="123.78" width="12.00" height="1.15" fill="#fff0f0"/>
<rect x="433.00" y="124.78" width="12.00" height="1.15" fill="#ffc8c8"/>
<rect x="433.00" y="125.78" width="12.00" height="1.15" fill="#fff5f5"/>
<rect x="433.00" y="126.78" width="12.00" height="1.15" fill="#fcfcff"/>
<rect x="433.00" y="127.78" width="12.00" height="1.15" fill="#ffdcdc"/>
<rect x="433.00" y="128.78" width="12.00" height="1.15" fill="#efefff"/>
<rect x="433.00" y="129.78" width="12.00" height="1.15" fill="#ffd2d2"/>
<rect x="433.00" y="130.79" width="12.00" height="1.15" fill="#e2e2ff"/>
<rect x="433.00" y="131.79" width="12.00" height="1.15" fill="#e7e7ff"/>
<rect x="433.00" y="132.79" width="12.00" height="1.15" fill="#f5f5ff"/>
<rect x="433.00" y="133.79" width="12.00" height="1.15" fill="#d7d7ff"/>
<rect x="433.00" y="134.79" width="12.00" height="1.15" fill="#eaeaff"/>
<rect x="433.00" y="135.79" width="12.00" height="1.15" fill="#f7f7ff"/>
<rect x="433.00" y="136.79" width="12.00" height="1.15" fill="#7f7fff"/>
<rect x="433.00" y="137.79" width="12.00" height="1.15" fill="#ffc1c1"/>
<rect x="433.00" y="138.79" width="12.00" height="1.15" fill="#f2f2ff"/>
<rect x="433.00" y="139.79" width="12.00" height="1.15" fill="#fffbfb"/>
<rect x="433.00" y="140.79" width="12.00" height="1.15" fill="#dcdcff"/>
<rect x="433.00" y="141.80" width="12.00" height="1.15" fill="#ffe1e1"/>
<rect x="433.00" y="142.80" width="12.00" height="1.15" fill="#c2c2ff"/>
<rect x="433.00" y="143.80" width="12.00" height="1.15" fill="#f6f6ff"/>
<rect x="433.00" y="144.80" width="12.00" height="1.15" fill="#eeeeff"/>
<rect x="433.00" y="145.80" width="12.00" height="1.15" fill="#ffd9d9"/>
<rect x="433.00" y="146.80" width="12.00" height="1.15" fill="#ffd9d9"/>
<rect x="433.00" y="147.80" width="12.00" height="1.15" fill="#ffd9d9"/>
<rect x="433.00" y="148.80" width="12.00" height="1.15" fill="#ffd9d9"/>
</g></g>
<text transform="translate(318.90,147.6) rotate(90)" font-size="5.8" fill="#111">Au</text>
<text transform="translate(330.70,147.6) rotate(90)" font-size="5.8" fill="#111">As</text>
<text transform="translate(342.50,147.6) rotate(90)" font-size="5.8" fill="#111">Hg</text>
<text transform="translate(354.30,147.6) rotate(90)" font-size="5.8" fill="#111">Fe</text>
<text transform="translate(366.10,147.6) rotate(90)" font-size="5.8" fill="#111">Co</text>
<text transform="translate(377.90,147.6) rotate(90)" font-size="5.8" fill="#111">Ni</text>
<text transform="translate(389.70,147.6) rotate(90)" font-size="5.8" fill="#111">Cu</text>
<text transform="translate(401.50,147.6) rotate(90)" font-size="5.8" fill="#111">Bi</text>
<text transform="translate(413.30,147.6) rotate(90)" font-size="5.8" fill="#111">S</text>
<text transform="translate(425.10,147.6) rotate(90)" font-size="5.8" fill="#111">Zn</text>
<text transform="translate(436.90,147.6) rotate(90)" font-size="5.8" fill="#111">Pb</text>
<text class="pl" x="305.6" y="22">b</text>
<defs><linearGradient id="gb" x1="0" y1="0" x2="0" y2="1"><stop offset="0" stop-color="#ff0000"/><stop offset="0.5" stop-color="#ffffff"/><stop offset="1" stop-color="#0000ff"/></linearGradient></defs>
<rect x="447.6" y="36.9" width="5.3" height="81.8" fill="url(#gb)"/>
<text x="455.8" y="39.30" font-size="5.6" fill="#111">5</text>
<text x="455.8" y="55.66" font-size="5.6" fill="#111">3</text>
<text x="455.8" y="72.02" font-size="5.6" fill="#111">1</text>
<text x="455.8" y="88.38" font-size="5.6" fill="#111">-1</text>
<text x="455.8" y="104.74" font-size="5.6" fill="#111">-3</text>
<text x="455.8" y="121.10" font-size="5.6" fill="#111">-5</text>
<path d="M332.70 17.30L332.70 36.70M344.50 17.30L344.50 36.70M332.70 17.30L344.50 17.30M320.90 14.00L320.90 36.70M338.60 14.00L338.60 17.30M320.90 14.00L338.60 14.00M356.30 21.50L356.30 36.70M368.10 21.50L368.10 36.70M356.30 21.50L368.10 21.50M379.90 15.50L379.90 36.70M391.70 15.50L391.70 36.70M379.90 15.50L391.70 15.50M362.20 14.50L362.20 21.50M385.80 14.50L385.80 15.50M362.20 14.50L385.80 14.50M427.10 17.80L427.10 36.70M438.90 17.80L438.90 36.70M427.10 17.80L438.90 17.80M415.30 16.70L415.30 36.70M433.00 16.70L433.00 17.80M415.30 16.70L433.00 16.70M403.50 13.10L403.50 36.70M424.15 13.10L424.15 16.70M403.50 13.10L424.15 13.10M374.00 11.20L374.00 14.50M413.82 11.20L413.82 13.10M374.00 11.20L413.82 11.20M329.75 8.30L329.75 14.00M393.91 8.30L393.91 11.20M329.75 8.30L393.91 8.30" stroke="#444" stroke-width="0.8" fill="none" stroke-linecap="square"/>
<defs>
<filter id="bl0" x="-30%" y="-30%" width="160%" height="160%"><feGaussianBlur stdDeviation="0.35"/></filter>
<filter id="bl1" x="-30%" y="-30%" width="160%" height="160%"><feGaussianBlur stdDeviation="0.8"/></filter>
<filter id="bl2" x="-30%" y="-30%" width="160%" height="160%"><feGaussianBlur stdDeviation="1.5"/></filter>
<filter id="bl3" x="-30%" y="-30%" width="160%" height="160%"><feGaussianBlur stdDeviation="3"/></filter>
<filter id="dp0" x="-20%" y="-20%" width="140%" height="140%"><feTurbulence type="fractalNoise" baseFrequency="0.18" numOctaves="2" seed="2" result="t"/><feDisplacementMap in="SourceGraphic" in2="t" scale="3.5" xChannelSelector="R" yChannelSelector="G"/><feGaussianBlur stdDeviation="0.3"/></filter>
<filter id="dp1" x="-20%" y="-20%" width="140%" height="140%"><feTurbulence type="fractalNoise" baseFrequency="0.14" numOctaves="2" seed="6" result="t"/><feDisplacementMap in="SourceGraphic" in2="t" scale="5" xChannelSelector="R" yChannelSelector="G"/><feGaussianBlur stdDeviation="0.6"/></filter>
<filter id="dp2" x="-20%" y="-20%" width="140%" height="140%"><feTurbulence type="fractalNoise" baseFrequency="0.12" numOctaves="3" seed="8" result="t"/><feDisplacementMap in="SourceGraphic" in2="t" scale="7" xChannelSelector="R" yChannelSelector="G"/><feGaussianBlur stdDeviation="0.7"/></filter>
<filter id="nzc" x="0" y="0" width="100%" height="100%"><feTurbulence type="fractalNoise" baseFrequency="0.065" numOctaves="4" seed="4"/><feColorMatrix type="matrix" values="0 0 0 0 0.09  0 0 0 0 0.38  0 0 0 0 0.80  4.2 0 0 0 -2.15"/></filter>
<filter id="nzk" x="0" y="0" width="100%" height="100%"><feTurbulence type="fractalNoise" baseFrequency="0.11" numOctaves="3" seed="9"/><feColorMatrix type="matrix" values="0 0 0 0 0.02  0 0 0 0 0.06  0 0 0 0 0.38  0 2.4 0 0 -1.0"/></filter>
<filter id="nzd" x="0" y="0" width="100%" height="100%"><feTurbulence type="fractalNoise" baseFrequency="0.12" numOctaves="3" seed="5"/><feColorMatrix type="matrix" values="0 0 0 0 0.05  0 0 0 0 0.16  0 0 0 0 0.68  2.4 0 0 0 -1.5"/></filter>
<linearGradient id="jetfull" x1="0" x2="1" y1="0" y2="0"><stop offset="0" stop-color="#00008f"/><stop offset="0.12" stop-color="#0000ff"/><stop offset="0.37" stop-color="#00ffff"/><stop offset="0.5" stop-color="#80ff80"/><stop offset="0.63" stop-color="#ffff00"/><stop offset="0.87" stop-color="#ff0000"/><stop offset="1" stop-color="#800000"/></linearGradient>
<linearGradient id="jethalf" x1="0" x2="1" y1="0" y2="0"><stop offset="0" stop-color="#00c8ff"/><stop offset="0.15" stop-color="#00ffff"/><stop offset="0.38" stop-color="#80ff80"/><stop offset="0.55" stop-color="#ffff00"/><stop offset="0.82" stop-color="#ff0000"/><stop offset="1" stop-color="#800000"/></linearGradient>
</defs>
<g>
<path d="M11.9 222.3L100.3 181.0M11.9 222.3L101.0 297.0M17.5 227.0L105.7 185.2M17.4 219.7L106.4 293.9M23.0 231.6L111.1 189.4M22.9 217.1L111.8 290.9M28.6 236.3L116.6 193.6M28.5 214.6L117.1 287.9M34.2 241.0L122.0 197.8M34.0 212.0L122.5 284.8M39.7 245.6L127.4 202.0M39.5 209.4L127.9 281.8M45.3 250.3L132.8 206.2M45.0 206.8L133.2 278.7M50.9 255.0L138.2 210.4M50.6 204.2L138.6 275.6M56.4 259.6L143.7 214.6M56.1 201.7L144.0 272.6M62.0 264.3L149.1 218.8M61.6 199.1L149.4 269.6M67.6 269.0L154.5 223.0M67.1 196.5L154.8 266.5M73.2 273.7L159.9 227.2M72.7 193.9L160.1 263.4M78.7 278.3L165.3 231.4M78.2 191.3L165.5 260.4M84.3 283.0L170.7 235.6M83.7 188.7L170.9 257.4M89.9 287.7L176.2 239.8M89.2 186.2L176.2 254.3M95.4 292.3L181.6 244.0M94.8 183.6L181.6 251.2M101.0 297.0L187.0 248.2M100.3 181.0L187.0 248.2" stroke="#e3e3e3" stroke-width="0.5" fill="none"/>
<polygon points="11.9,207.8 100.3,160.9 100.3,181.0 11.9,222.3" fill="#f3f3f3"/>
<polygon points="100.3,160.9 187.0,230.2 187.0,248.2 100.3,181.0" fill="#f1f1f1"/>
<path d="M11.9 207.8L11.9 222.3M17.4 204.9L17.4 219.7M22.9 201.9L22.9 217.1M28.5 199.0L28.5 214.6M34.0 196.1L34.0 212.0M39.5 193.1L39.5 209.4M45.0 190.2L45.0 206.8M50.6 187.3L50.6 204.2M56.1 184.4L56.1 201.7M61.6 181.4L61.6 199.1M67.1 178.5L67.1 196.5M72.7 175.6L72.7 193.9M78.2 172.6L78.2 191.3M83.7 169.7L83.7 188.7M89.2 166.8L89.2 186.2M94.8 163.8L94.8 183.6M100.3 160.9L100.3 181.0M100.3 160.9L100.3 181.0M105.4 165.0L105.4 185.0M110.5 169.1L110.5 188.9M115.6 173.1L115.6 192.9M120.7 177.2L120.7 196.8M125.8 181.3L125.8 200.8M130.9 185.4L130.9 204.7M136.0 189.4L136.0 208.7M141.1 193.5L141.1 212.6M146.2 197.6L146.2 216.6M151.3 201.7L151.3 220.5M156.4 205.7L156.4 224.5M161.5 209.8L161.5 228.4M166.6 213.9L166.6 232.4M171.7 218.0L171.7 236.3M176.8 222.0L176.8 240.3M181.9 226.1L181.9 244.2M187.0 230.2L187.0 248.2" stroke="#aaaaaa" stroke-width="0.7" fill="none"/>
</g>
<polygon points="26.0,213.0 102.6,273.7 102.6,288.4 26.0,228.8" fill="#0b3890"/>
<polygon points="102.6,273.7 175.8,234.6 175.8,248.3 102.6,288.4" fill="#0a3286"/>
<clipPath id="clipc"><polygon points="26.0,213.0 31.9,209.7 39.8,206.5 47.8,202.7 53.7,197.8 59.7,193.8 65.6,190.0 71.5,187.8 79.5,184.9 87.4,182.9 94.3,180.9 98.5,177.9 101.5,179.9 105.0,182.0 110.0,185.7 117.9,189.9 124.8,195.8 129.8,201.8 135.7,205.7 142.6,210.7 149.6,216.6 157.5,222.5 164.4,227.5 171.3,231.0 175.8,234.6 102.6,273.7"/></clipPath>
<polygon points="26.0,213.0 31.9,209.7 39.8,206.5 47.8,202.7 53.7,197.8 59.7,193.8 65.6,190.0 71.5,187.8 79.5,184.9 87.4,182.9 94.3,180.9 98.5,177.9 101.5,179.9 105.0,182.0 110.0,185.7 117.9,189.9 124.8,195.8 129.8,201.8 135.7,205.7 142.6,210.7 149.6,216.6 157.5,222.5 164.4,227.5 171.3,231.0 175.8,234.6 102.6,273.7" fill="#0b2c94"/>
<g clip-path="url(#clipc)">
<rect x="24" y="176" width="156" height="102" filter="url(#nzc)"/>
<rect x="24" y="176" width="156" height="102" filter="url(#nzk)"/>
<path d="M26.0 215.5 L31.9 212.2 L39.8 209.0 L47.8 205.2 L53.7 200.3 L59.7 196.3 L65.6 192.5 L71.5 190.3 L79.5 187.4 L87.4 185.4 L94.3 183.4" stroke="#061a70" stroke-width="6" fill="none" opacity="0.55" filter="url(#bl2)"/>
<g filter="url(#bl3)"><path d="M80.4 206.4Q79.7 209.5 78.8 211.8Q78.0 214.2 76.8 217.1Q75.6 220.0 72.1 219.4Q68.5 218.8 65.0 219.3Q61.6 219.7 59.3 217.4Q57.0 215.2 55.5 212.3Q53.9 209.5 55.7 206.8Q57.5 204.1 59.3 201.4Q61.2 198.7 64.8 198.4Q68.5 198.1 72.2 198.4Q75.8 198.7 78.4 201.0Q81.1 203.3 80.4 206.4Z" fill="#1450c8" opacity="0.8"/><path d="M135.6 213.6Q136.3 215.5 136.1 217.6Q135.8 219.8 133.7 220.6Q131.6 221.4 129.8 222.2Q128.0 223.1 125.9 222.7Q123.9 222.3 121.6 221.2Q119.4 220.2 119.1 217.9Q118.8 215.5 119.6 213.4Q120.4 211.3 122.1 210.0Q123.8 208.6 125.9 208.5Q128.0 208.4 130.4 208.1Q132.7 207.8 133.8 209.8Q134.8 211.8 135.6 213.6Z" fill="#22a8f0" opacity="0.75"/><path d="M148.3 211.1Q150.5 213.0 149.8 215.4Q149.1 217.8 145.4 218.6Q141.7 219.4 138.9 220.2Q136.0 221.0 132.5 220.9Q129.0 220.8 125.8 219.4Q122.6 218.0 122.4 215.5Q122.1 213.0 123.1 210.8Q124.1 208.6 127.0 207.4Q129.8 206.1 132.9 205.1Q136.0 204.0 139.8 204.2Q143.6 204.5 144.9 206.9Q146.2 209.2 148.3 211.1Z" fill="#1c6fe0" opacity="0.8"/><path d="M166.1 225.4Q168.3 226.5 167.4 228.0Q166.4 229.5 164.1 230.5Q161.7 231.5 158.9 231.8Q156.0 232.1 153.2 231.7Q150.4 231.3 149.4 230.0Q148.3 228.7 147.1 227.6Q145.9 226.5 146.6 225.2Q147.3 224.0 149.2 223.1Q151.0 222.2 153.5 221.7Q156.0 221.2 159.0 221.2Q162.0 221.3 162.9 222.8Q163.9 224.2 166.1 225.4Z" fill="#22a8f0" opacity="0.7"/><path d="M119.9 226.9Q123.8 229.0 120.4 231.2Q116.9 233.4 114.1 235.4Q111.2 237.4 106.1 238.4Q101.0 239.3 95.1 239.0Q89.3 238.7 85.4 236.5Q81.5 234.4 79.5 231.7Q77.5 229.0 79.2 226.2Q80.8 223.4 86.7 222.8Q92.6 222.1 96.8 221.4Q101.0 220.7 106.0 220.7Q111.0 220.8 113.5 222.8Q116.0 224.9 119.9 226.9Z" fill="#1c6fe0" opacity="0.65"/><path d="M128.4 248.1Q128.1 251.0 128.5 253.9Q128.8 256.8 125.3 258.2Q121.8 259.6 118.4 259.8Q115.0 259.9 111.9 259.4Q108.8 258.9 105.6 257.6Q102.5 256.3 102.6 253.6Q102.7 251.0 103.6 248.7Q104.4 246.5 106.2 244.4Q108.1 242.3 111.6 241.5Q115.0 240.8 118.3 241.8Q121.5 242.7 125.1 244.0Q128.6 245.2 128.4 248.1Z" fill="#1c6fe0" opacity="0.5"/><path d="M43.8 214.8Q43.9 216.0 43.6 217.1Q43.3 218.2 42.3 219.3Q41.3 220.4 39.4 220.7Q37.5 221.1 35.8 220.5Q34.1 219.9 32.2 219.4Q30.3 218.8 30.3 217.4Q30.3 216.0 31.0 214.9Q31.8 213.8 33.0 213.0Q34.2 212.2 35.9 211.6Q37.5 211.1 39.0 211.8Q40.6 212.5 42.1 213.0Q43.7 213.6 43.8 214.8Z" fill="#22a8f0" opacity="0.6"/><path d="M53.5 232.8Q53.3 234.6 52.0 235.8Q50.6 237.1 48.5 236.8Q46.3 236.5 44.3 235.6Q42.3 234.8 40.0 233.4Q37.7 232.1 37.6 229.9Q37.6 227.8 38.2 226.1Q38.8 224.4 40.1 223.2Q41.3 221.9 43.5 221.2Q45.6 220.5 48.1 221.7Q50.6 223.0 52.6 224.9Q54.6 226.8 54.2 228.9Q53.7 231.1 53.5 232.8Z" fill="#22a8f0" opacity="0.7"/><path d="M110.0 192.7Q111.0 194.0 110.2 195.4Q109.4 196.8 107.2 197.9Q105.0 199.0 101.7 199.8Q98.5 200.7 95.7 199.5Q92.8 198.4 90.1 197.6Q87.5 196.8 87.5 195.4Q87.6 194.0 88.2 192.8Q88.9 191.5 90.5 190.3Q92.2 189.2 95.4 188.5Q98.5 187.8 101.5 188.6Q104.5 189.4 106.7 190.4Q108.9 191.3 110.0 192.7Z" fill="#1450c8" opacity="0.6"/><path d="M93.4 242.8Q95.7 245.0 93.4 247.3Q91.2 249.5 88.0 250.9Q84.9 252.3 81.2 253.7Q77.5 255.0 73.0 254.4Q68.6 253.8 65.6 251.9Q62.7 249.9 62.8 247.4Q62.9 245.0 63.0 242.6Q63.1 240.3 66.4 238.8Q69.7 237.3 73.6 235.9Q77.5 234.5 82.2 235.1Q87.0 235.6 89.1 238.1Q91.1 240.5 93.4 242.8Z" fill="#1450c8" opacity="0.4"/><path d="M157.5 241.7Q158.8 243.5 159.0 245.8Q159.2 248.1 155.6 249.3Q152.1 250.4 148.5 250.4Q145.0 250.3 141.9 250.0Q138.8 249.6 135.6 248.6Q132.3 247.6 130.8 245.6Q129.3 243.5 131.7 241.7Q134.0 239.9 136.3 238.5Q138.5 237.1 141.7 236.2Q145.0 235.4 149.0 235.5Q153.0 235.7 154.6 237.7Q156.3 239.8 157.5 241.7Z" fill="#1450c8" opacity="0.45"/></g>
<g filter="url(#dp2)"><path d="M147.4 214.9Q145.4 216.1 145.4 218.4Q145.4 220.6 142.3 219.6Q139.2 218.5 136.4 218.4Q133.6 218.3 132.0 215.9Q130.3 213.6 129.5 211.7Q128.7 209.8 127.8 207.6Q127.0 205.4 129.6 205.4Q132.2 205.3 133.6 203.3Q135.0 201.3 137.7 203.8Q140.5 206.3 143.9 207.5Q147.3 208.7 148.4 211.2Q149.4 213.8 147.4 214.9Z" fill="#22a8f0" opacity="0.55"/><path d="M169.9 229.2Q170.4 231.2 168.7 232.2Q167.0 233.1 164.3 232.0Q161.7 230.8 159.4 231.1Q157.1 231.5 154.6 229.8Q152.2 228.0 152.9 226.1Q153.5 224.2 152.0 222.0Q150.5 219.7 152.0 218.5Q153.6 217.3 156.3 218.3Q159.1 219.3 161.3 219.8Q163.5 220.3 165.4 221.9Q167.4 223.4 168.4 225.3Q169.5 227.1 169.9 229.2Z" fill="#22a8f0" opacity="0.45"/><path d="M100.0 226.8Q101.6 229.0 100.1 231.2Q98.6 233.5 96.5 234.4Q94.4 235.4 92.5 236.8Q90.5 238.2 87.9 237.9Q85.3 237.5 84.2 235.3Q83.1 233.0 81.9 231.0Q80.7 229.0 82.1 227.1Q83.4 225.1 85.0 223.8Q86.6 222.5 88.5 221.2Q90.5 219.8 93.1 220.2Q95.6 220.6 97.1 222.6Q98.5 224.6 100.0 226.8Z" fill="#19e6e0" opacity="0.42"/><path d="M118.2 228.1Q119.7 229.5 118.1 230.8Q116.5 232.1 115.7 233.9Q114.9 235.6 112.2 235.5Q109.5 235.3 106.9 235.4Q104.3 235.4 103.3 233.8Q102.3 232.2 99.9 230.9Q97.5 229.5 98.9 227.8Q100.4 226.1 102.7 225.3Q105.0 224.4 107.3 223.2Q109.5 222.0 112.3 222.6Q115.0 223.3 115.9 225.0Q116.7 226.8 118.2 228.1Z" fill="#19e6e0" opacity="0.4"/><path d="M112.6 248.4Q112.4 250.5 112.1 252.1Q111.9 253.7 111.2 255.1Q110.5 256.4 109.5 257.1Q108.5 257.8 107.4 257.4Q106.3 257.0 105.8 255.2Q105.4 253.5 105.2 252.0Q104.9 250.5 105.3 249.1Q105.6 247.7 106.0 246.1Q106.4 244.5 107.5 243.7Q108.5 242.9 109.7 243.2Q110.9 243.5 111.8 245.0Q112.8 246.4 112.6 248.4Z" fill="#19e6e0" opacity="0.9"/><path d="M121.5 246.7Q122.0 249.0 120.7 250.8Q119.5 252.6 118.2 253.6Q116.9 254.7 115.5 256.4Q114.0 258.1 111.8 257.8Q109.6 257.5 108.9 255.2Q108.1 252.8 106.7 250.9Q105.3 249.0 106.0 246.7Q106.8 244.3 108.3 242.7Q109.9 241.1 112.0 240.9Q114.0 240.7 115.7 241.6Q117.3 242.6 119.2 243.5Q121.1 244.4 121.5 246.7Z" fill="#7dff70" opacity="0.6"/><path d="M53.0 231.4Q52.2 233.1 51.3 235.4Q50.4 237.6 47.6 236.3Q44.8 235.0 42.2 234.7Q39.6 234.4 37.4 232.3Q35.1 230.2 34.7 227.5Q34.3 224.8 34.7 222.3Q35.0 219.7 37.7 219.3Q40.4 218.9 42.8 217.8Q45.2 216.7 47.9 218.6Q50.5 220.5 52.3 222.8Q54.1 225.0 53.9 227.4Q53.8 229.7 53.0 231.4Z" fill="#19e6e0" opacity="0.9"/><path d="M36.2 214.2Q36.5 215.0 35.5 215.5Q34.5 216.1 34.1 216.6Q33.7 217.2 32.8 217.5Q32.0 217.7 31.2 217.4Q30.4 217.1 29.9 216.6Q29.4 216.1 28.8 215.6Q28.3 215.0 28.7 214.3Q29.0 213.7 29.4 213.0Q29.9 212.2 30.9 212.5Q32.0 212.8 33.2 212.4Q34.3 212.0 35.1 212.6Q35.9 213.3 36.2 214.2Z" fill="#19e6e0" opacity="0.6"/><path d="M159.1 227.0Q159.0 227.6 159.5 228.7Q160.0 229.9 158.2 229.4Q156.4 229.0 154.7 228.7Q153.1 228.5 151.4 227.5Q149.8 226.4 148.8 225.3Q147.8 224.1 147.6 223.1Q147.4 222.2 149.1 222.3Q150.7 222.4 151.8 222.4Q152.8 222.3 154.2 222.7Q155.6 223.1 157.5 223.8Q159.5 224.4 159.4 225.4Q159.3 226.4 159.1 227.0Z" fill="#19e6e0" opacity="0.65"/><path d="M138.7 212.5Q139.8 213.9 138.6 214.6Q137.4 215.2 135.5 214.8Q133.6 214.3 132.0 214.0Q130.4 213.8 129.1 212.7Q127.9 211.6 126.4 210.5Q124.8 209.3 125.3 208.3Q125.7 207.4 125.9 206.2Q126.2 205.0 128.0 205.0Q129.9 205.0 131.7 206.1Q133.5 207.2 134.8 208.1Q136.1 209.0 136.9 210.0Q137.7 211.1 138.7 212.5Z" fill="#19e6e0" opacity="0.55"/></g>
<g filter="url(#dp1)"><path d="M53.8 231.6Q53.2 233.5 51.1 233.7Q49.0 233.9 47.2 234.1Q45.4 234.3 43.2 233.5Q40.9 232.8 39.7 230.8Q38.4 228.8 38.5 227.1Q38.5 225.4 38.9 224.0Q39.2 222.6 40.5 221.7Q41.7 220.9 43.4 220.6Q45.1 220.3 46.6 222.0Q48.0 223.7 50.3 224.6Q52.7 225.5 53.5 227.7Q54.3 229.8 53.8 231.6Z" fill="#7dff70" opacity="0.95"/><path d="M53.1 231.5Q52.8 232.9 51.3 233.2Q49.7 233.4 48.3 233.5Q46.8 233.5 44.9 233.0Q43.0 232.5 42.7 230.6Q42.5 228.8 41.9 227.6Q41.3 226.4 41.8 225.6Q42.3 224.7 42.3 222.9Q42.3 221.0 44.3 221.6Q46.2 222.2 48.1 222.9Q50.0 223.6 50.2 225.4Q50.4 227.2 51.9 228.7Q53.4 230.1 53.1 231.5Z" fill="#ffe000" opacity="0.9"/><path d="M123.3 248.2Q123.3 249.0 123.5 250.1Q123.7 251.1 121.7 251.0Q119.7 250.9 118.1 251.2Q116.5 251.4 114.5 250.8Q112.6 250.2 111.5 249.2Q110.3 248.2 108.9 246.9Q107.6 245.7 109.2 245.0Q110.8 244.4 112.1 243.5Q113.3 242.7 115.6 243.8Q117.9 244.8 120.1 244.9Q122.3 245.1 122.7 246.2Q123.2 247.4 123.3 248.2Z" fill="#ffe000" opacity="0.95"/><path d="M119.7 248.5Q120.1 249.2 119.7 249.9Q119.3 250.5 117.9 250.5Q116.4 250.5 115.1 250.2Q113.8 250.0 112.8 249.6Q111.7 249.2 111.2 248.7Q110.6 248.1 109.5 247.4Q108.4 246.8 108.8 246.1Q109.1 245.5 110.5 245.4Q111.9 245.3 113.3 245.6Q114.7 246.0 116.1 246.3Q117.4 246.5 118.3 247.2Q119.3 247.8 119.7 248.5Z" fill="#7dff70" opacity="0.9"/><path d="M98.1 228.6Q98.0 229.8 97.6 230.7Q97.2 231.7 95.9 232.3Q94.6 232.8 93.2 233.4Q91.8 233.9 89.8 234.0Q87.8 234.1 86.4 233.1Q84.9 232.2 84.7 231.0Q84.5 229.8 85.7 228.9Q86.9 228.0 87.8 227.2Q88.7 226.4 90.2 226.6Q91.8 226.7 93.3 226.6Q94.8 226.4 96.5 226.9Q98.2 227.4 98.1 228.6Z" fill="#ffe000" opacity="0.45"/><path d="M119.3 228.0Q119.0 229.5 118.3 230.6Q117.7 231.8 116.7 233.2Q115.8 234.7 113.0 234.4Q110.2 234.1 107.3 234.6Q104.3 235.0 103.3 233.5Q102.3 232.0 100.8 230.7Q99.3 229.5 99.8 228.0Q100.4 226.4 103.4 226.2Q106.4 225.9 108.3 225.3Q110.2 224.7 112.5 225.0Q114.7 225.3 117.2 226.0Q119.7 226.6 119.3 228.0Z" fill="#ffe000" opacity="0.4"/><path d="M128.6 253.0Q128.8 254.5 128.1 255.8Q127.4 257.2 125.0 257.7Q122.7 258.3 120.6 259.6Q118.5 260.9 115.5 260.5Q112.4 260.0 111.6 258.4Q110.7 256.9 109.9 255.7Q109.2 254.5 110.2 253.4Q111.2 252.3 113.0 251.7Q114.7 251.1 116.6 250.7Q118.5 250.4 120.9 250.2Q123.3 250.1 125.9 250.8Q128.5 251.5 128.6 253.0Z" fill="#ff7a00" opacity="0.8"/></g>
<g filter="url(#dp0)"><path d="M97.5 229.0Q98.6 229.8 97.4 230.6Q96.2 231.3 95.4 231.9Q94.5 232.5 93.2 232.7Q92.0 232.9 90.4 233.1Q88.9 233.2 87.8 232.5Q86.7 231.7 86.9 230.8Q87.0 229.8 86.8 228.8Q86.5 227.8 87.6 227.0Q88.7 226.2 90.4 225.9Q92.0 225.7 93.2 226.5Q94.3 227.2 95.3 227.7Q96.3 228.2 97.5 229.0Z" fill="#b00c06" opacity="1"/><path d="M110.6 228.2Q111.6 229.2 110.3 230.1Q109.0 231.0 108.2 231.6Q107.5 232.2 106.5 233.0Q105.5 233.8 104.4 233.1Q103.3 232.5 101.8 232.2Q100.2 231.9 100.7 230.6Q101.2 229.2 100.6 227.9Q99.9 226.5 101.3 225.8Q102.7 225.1 104.1 225.4Q105.5 225.7 106.9 225.4Q108.3 225.1 108.9 226.2Q109.5 227.2 110.6 228.2Z" fill="#b00c06" opacity="1"/><path d="M117.8 228.2Q117.7 229.3 118.3 230.7Q118.9 232.1 117.8 233.2Q116.6 234.3 114.9 234.5Q113.2 234.8 111.6 234.5Q109.9 234.3 109.2 233.0Q108.5 231.7 107.4 230.5Q106.2 229.3 106.7 227.8Q107.1 226.3 108.8 225.7Q110.4 225.1 111.8 224.9Q113.2 224.6 114.9 224.5Q116.6 224.3 117.2 225.7Q117.8 227.1 117.8 228.2Z" fill="#b00c06" opacity="1"/><path d="M122.7 241.6Q123.0 242.5 123.2 243.6Q123.3 244.8 121.9 245.3Q120.5 245.8 119.1 246.1Q117.7 246.4 116.5 245.9Q115.3 245.3 113.9 244.9Q112.6 244.5 111.7 243.5Q110.8 242.5 111.5 241.4Q112.2 240.4 113.5 239.7Q114.7 239.0 116.2 239.0Q117.7 239.0 118.8 239.4Q120.0 239.7 121.2 240.2Q122.4 240.6 122.7 241.6Z" fill="#b00c06" opacity="1"/><path d="M129.8 254.0Q130.8 255.2 128.9 256.3Q127.1 257.3 125.7 258.0Q124.3 258.7 122.4 259.3Q120.5 259.9 118.0 259.8Q115.6 259.8 114.9 258.5Q114.2 257.2 112.8 256.2Q111.4 255.2 112.3 254.1Q113.2 253.0 115.1 252.6Q117.0 252.1 118.8 251.2Q120.5 250.3 122.2 251.2Q123.8 252.2 126.4 252.4Q128.9 252.7 129.8 254.0Z" fill="#b00c06" opacity="1"/><path d="M127.3 247.6Q127.4 248.5 127.2 249.3Q127.0 250.2 126.3 250.5Q125.6 250.8 125.1 251.5Q124.5 252.3 123.9 251.7Q123.2 251.0 122.6 250.6Q121.9 250.2 121.8 249.4Q121.6 248.5 121.7 247.6Q121.8 246.7 122.3 246.0Q122.9 245.3 123.7 245.0Q124.5 244.8 125.1 245.3Q125.8 245.9 126.5 246.3Q127.2 246.7 127.3 247.6Z" fill="#b00c06" opacity="1"/><path d="M51.1 231.3Q51.3 232.0 50.7 232.2Q50.0 232.4 49.4 232.2Q48.7 232.0 48.1 231.9Q47.4 231.7 47.0 231.2Q46.6 230.6 46.5 230.0Q46.3 229.4 46.3 228.8Q46.3 228.1 46.8 227.6Q47.2 227.1 48.0 227.4Q48.8 227.8 49.6 227.9Q50.4 227.9 50.7 228.7Q51.1 229.4 51.0 230.0Q51.0 230.6 51.1 231.3Z" fill="#ff7a00" opacity="1"/></g>
<path d="M26.0 214.2L104.0 268.5L175.8 232.0" stroke="#9fc0f0" stroke-width="0.5" fill="none" opacity="0.55"/>
<polygon points="26.0,214.2 104.0,268.5 175.8,232.0 175.8,234.6 102.6,273.7 26.0,213.0" fill="#0b3890" opacity="0.55"/>
</g>
<path d="M26.0 213.0L102.6 273.7L175.8 234.6" stroke="#3a5fc0" stroke-width="0.4" fill="none" opacity="0.7"/>
<path d="M102.6 273.7L102.6 288.4" stroke="#2a4aa8" stroke-width="0.4" opacity="0.6"/>
<rect x="7.4" y="260.5" width="55.6" height="17.2" fill="#fff" stroke="#d0d0d0" stroke-width="0.5"/>
<rect x="8.8" y="265.2" width="52.8" height="2.3" fill="url(#jetfull)"/>
<text x="35.9" y="263.9" font-size="3" text-anchor="middle" fill="#333">Hg</text>
<text x="9.6" y="275.6" font-size="3.6" text-anchor="middle" fill="#222">0</text>
<line x1="9.6" x2="9.6" y1="268.1" y2="269.1" stroke="#888" stroke-width="0.3"/>
<text x="16.9" y="275.6" font-size="3.6" text-anchor="middle" fill="#222">1</text>
<line x1="16.9" x2="16.9" y1="268.1" y2="269.1" stroke="#888" stroke-width="0.3"/>
<text x="24.3" y="275.6" font-size="3.6" text-anchor="middle" fill="#222">2</text>
<line x1="24.3" x2="24.3" y1="268.1" y2="269.1" stroke="#888" stroke-width="0.3"/>
<text x="31.6" y="275.6" font-size="3.6" text-anchor="middle" fill="#222">3</text>
<line x1="31.6" x2="31.6" y1="268.1" y2="269.1" stroke="#888" stroke-width="0.3"/>
<text x="38.9" y="275.6" font-size="3.6" text-anchor="middle" fill="#222">4</text>
<line x1="38.9" x2="38.9" y1="268.1" y2="269.1" stroke="#888" stroke-width="0.3"/>
<text x="46.2" y="275.6" font-size="3.6" text-anchor="middle" fill="#222">5</text>
<line x1="46.2" x2="46.2" y1="268.1" y2="269.1" stroke="#888" stroke-width="0.3"/>
<text x="53.6" y="275.6" font-size="3.6" text-anchor="middle" fill="#222">6</text>
<line x1="53.6" x2="53.6" y1="268.1" y2="269.1" stroke="#888" stroke-width="0.3"/>
<text x="60.9" y="275.6" font-size="3.6" text-anchor="middle" fill="#222">7</text>
<line x1="60.9" x2="60.9" y1="268.1" y2="269.1" stroke="#888" stroke-width="0.3"/>
<text x="31.3" y="286.3" font-size="3.4" font-weight="bold" fill="#00d030">Y</text>
<text x="37.9" y="283.9" font-size="3.4" font-weight="bold" fill="#1030ff">Z</text>
<text x="45.5" y="287.1" font-size="3.4" font-weight="bold" fill="#f01010">X</text>
<path d="M38.9 284.5L38.9 288.5" stroke="#99b" stroke-width="0.4"/><circle cx="34.5" cy="285.9" r="0.6" fill="#00d030"/><circle cx="43.9" cy="286.5" r="0.6" fill="#f01010"/>
<clipPath id="cropd"><rect x="199.5" y="150" width="350.5" height="153"/></clipPath><g clip-path="url(#cropd)">
<path d="M186.3 223.3L275.5 182.0M186.3 223.3L276.2 298.0M191.9 228.0L281.0 186.2M191.9 220.7L281.7 294.9M197.6 232.6L286.5 190.4M197.5 218.1L287.1 291.9M203.2 237.3L291.9 194.6M203.0 215.6L292.5 288.9M208.8 242.0L297.4 198.8M208.6 213.0L297.9 285.8M214.4 246.6L302.9 203.0M214.2 210.4L303.4 282.8M220.0 251.3L308.3 207.2M219.8 207.8L308.8 279.7M225.7 256.0L313.8 211.4M225.3 205.2L314.2 276.6M231.3 260.6L319.3 215.6M230.9 202.7L319.6 273.6M236.9 265.3L324.8 219.8M236.5 200.1L325.1 270.6M242.5 270.0L330.2 224.0M242.1 197.5L330.5 267.5M248.1 274.7L335.7 228.2M247.7 194.9L335.9 264.4M253.8 279.3L341.2 232.4M253.2 192.3L341.3 261.4M259.4 284.0L346.6 236.6M258.8 189.7L346.8 258.4M265.0 288.7L352.1 240.8M264.4 187.2L352.2 255.3M270.6 293.3L357.6 245.0M270.0 184.6L357.6 252.2M276.2 298.0L363.0 249.2M275.5 182.0L363.0 249.2" stroke="#e3e3e3" stroke-width="0.5" fill="none"/>
<polygon points="186.3,208.8 275.5,161.9 275.5,182.0 186.3,223.3" fill="#f3f3f3"/>
<polygon points="275.5,161.9 363.0,231.2 363.0,249.2 275.5,182.0" fill="#f1f1f1"/>
<path d="M186.3 208.8L186.3 223.3M193.7 204.9L193.7 219.9M201.2 201.0L201.2 216.4M208.6 197.1L208.6 213.0M216.1 193.2L216.1 209.5M223.5 189.3L223.5 206.1M230.9 185.4L230.9 202.7M238.4 181.4L238.4 199.2M245.8 177.5L245.8 195.8M253.2 173.6L253.2 192.3M260.7 169.7L260.7 188.9M268.1 165.8L268.1 185.4M275.5 161.9L275.5 182.0M275.5 161.9L275.5 182.0M282.3 167.2L282.3 187.2M289.0 172.6L289.0 192.3M295.7 177.9L295.7 197.5M302.5 183.2L302.5 202.7M309.2 188.6L309.2 207.8M315.9 193.9L315.9 213.0M322.7 199.2L322.7 218.2M329.4 204.5L329.4 223.4M336.1 209.9L336.1 228.5M342.8 215.2L342.8 233.7M349.6 220.5L349.6 238.9M356.3 225.9L356.3 244.0M363.0 231.2L363.0 249.2" stroke="#aaaaaa" stroke-width="0.7" fill="none"/>
</g>
<polygon points="200.5,214.0 277.9,274.7 277.9,289.4 200.5,229.8" fill="#0b1478"/>
<polygon points="277.9,274.7 351.7,235.6 351.7,249.3 277.9,289.4" fill="#0a1270"/>
<clipPath id="clipd"><polygon points="200.5,214.0 206.5,210.7 214.5,207.5 222.5,203.7 228.5,198.8 234.6,194.8 240.5,191.0 246.5,188.8 254.5,185.9 262.5,183.9 269.5,181.9 273.7,178.9 276.7,180.9 280.3,183.0 285.3,186.7 293.3,190.9 300.3,196.8 305.3,202.8 311.3,206.7 318.2,211.7 325.3,217.6 333.3,223.5 340.2,228.5 347.2,232.0 351.7,235.6 277.9,274.7"/></clipPath>
<polygon points="200.5,214.0 206.5,210.7 214.5,207.5 222.5,203.7 228.5,198.8 234.6,194.8 240.5,191.0 246.5,188.8 254.5,185.9 262.5,183.9 269.5,181.9 273.7,178.9 276.7,180.9 280.3,183.0 285.3,186.7 293.3,190.9 300.3,196.8 305.3,202.8 311.3,206.7 318.2,211.7 325.3,217.6 333.3,223.5 340.2,228.5 347.2,232.0 351.7,235.6 277.9,274.7" fill="#0a1286"/>
<g clip-path="url(#clipd)">
<rect x="199" y="177" width="156" height="102" filter="url(#nzd)"/>
<rect x="199" y="177" width="156" height="102" filter="url(#nzk)"/>
<path d="M200.5 216.5 L206.5 213.2 L214.5 210.0 L222.5 206.2 L228.5 201.3 L234.6 197.3 L240.5 193.5 L246.5 191.3 L254.5 188.4 L262.5 186.4 L269.5 184.4" stroke="#061a70" stroke-width="6" fill="none" opacity="0.55" filter="url(#bl2)"/>
<g filter="url(#bl3)"><path d="M255.5 198.3Q256.8 200.0 256.9 202.1Q256.9 204.3 254.2 206.0Q251.4 207.7 247.2 207.6Q243.0 207.5 239.3 207.2Q235.6 206.8 233.7 205.2Q231.8 203.5 231.1 201.7Q230.4 200.0 229.8 197.9Q229.3 195.8 232.3 194.4Q235.3 192.9 239.2 192.7Q243.0 192.5 247.2 192.4Q251.3 192.3 252.7 194.5Q254.1 196.6 255.5 198.3Z" fill="#1450c8" opacity="0.6"/><path d="M279.3 191.5Q280.8 193.0 279.7 194.6Q278.6 196.2 276.2 197.6Q273.9 199.0 270.0 199.4Q266.0 199.8 262.6 199.0Q259.1 198.2 256.9 197.0Q254.6 195.9 252.2 194.4Q249.8 193.0 251.9 191.5Q253.9 189.9 255.7 188.2Q257.5 186.5 261.7 186.3Q266.0 186.1 270.0 186.5Q274.0 186.9 275.9 188.5Q277.7 190.0 279.3 191.5Z" fill="#1450c8" opacity="0.55"/><path d="M252.3 199.3Q252.9 200.5 252.2 201.7Q251.5 202.9 249.5 203.5Q247.6 204.0 245.8 204.5Q244.0 205.1 242.1 204.7Q240.2 204.2 238.7 203.5Q237.3 202.7 237.2 201.6Q237.2 200.5 237.8 199.6Q238.4 198.7 239.2 197.6Q239.9 196.5 242.0 196.1Q244.0 195.6 245.8 196.3Q247.5 197.1 249.6 197.5Q251.6 198.0 252.3 199.3Z" fill="#1aa0c8" opacity="0.3"/><path d="M318.5 208.0Q317.8 211.0 318.5 214.0Q319.3 217.0 315.2 217.9Q311.1 218.8 308.1 219.4Q305.0 220.0 301.0 220.5Q297.1 221.1 295.4 218.4Q293.7 215.8 291.6 213.4Q289.4 211.0 290.9 208.3Q292.4 205.7 294.7 203.3Q297.1 200.9 301.0 200.5Q305.0 200.1 308.7 200.8Q312.5 201.5 315.8 203.2Q319.2 205.0 318.5 208.0Z" fill="#1450c8" opacity="0.35"/><path d="M246.4 216.2Q247.1 220.0 245.3 223.3Q243.5 226.5 240.8 229.3Q238.0 232.1 233.5 232.8Q229.0 233.6 224.9 232.3Q220.8 231.0 217.0 229.1Q213.2 227.1 213.0 223.6Q212.7 220.0 214.4 217.1Q216.1 214.2 218.7 211.9Q221.2 209.5 225.1 208.3Q229.0 207.2 233.2 207.9Q237.5 208.6 241.6 210.6Q245.7 212.5 246.4 216.2Z" fill="#1450c8" opacity="0.85"/><path d="M275.7 225.2Q276.3 227.5 276.7 230.3Q277.0 233.1 274.4 234.7Q271.8 236.3 268.9 236.6Q266.0 236.8 262.9 236.8Q259.9 236.8 258.4 234.5Q256.9 232.1 256.3 229.8Q255.7 227.5 255.8 225.0Q256.0 222.4 258.1 220.6Q260.3 218.8 263.1 218.7Q266.0 218.7 269.2 218.3Q272.3 217.9 273.8 220.4Q275.2 222.9 275.7 225.2Z" fill="#1450c8" opacity="0.85"/><path d="M292.2 216.0Q292.7 217.5 292.0 219.0Q291.3 220.4 289.3 221.1Q287.3 221.8 285.4 222.0Q283.5 222.2 281.1 222.5Q278.7 222.8 278.1 221.3Q277.4 219.8 276.0 218.6Q274.6 217.5 275.8 216.3Q277.0 215.1 278.5 214.3Q279.9 213.5 281.7 212.6Q283.5 211.6 285.2 212.6Q286.9 213.6 289.3 214.0Q291.7 214.4 292.2 216.0Z" fill="#1450c8" opacity="0.7"/><path d="M300.3 251.5Q301.4 253.0 301.3 254.9Q301.1 256.7 298.9 258.2Q296.7 259.7 293.3 260.1Q290.0 260.4 287.0 259.8Q283.9 259.2 282.0 257.7Q280.1 256.3 279.5 254.7Q278.9 253.0 279.3 251.3Q279.8 249.6 281.7 248.1Q283.7 246.6 286.8 246.0Q290.0 245.4 293.3 245.9Q296.5 246.4 297.8 248.2Q299.1 249.9 300.3 251.5Z" fill="#1450c8" opacity="0.7"/><path d="M327.1 222.8Q327.9 225.0 328.7 227.8Q329.5 230.6 325.5 231.6Q321.6 232.6 318.3 233.9Q315.0 235.1 311.1 234.6Q307.1 234.1 304.1 232.2Q301.1 230.4 301.2 227.7Q301.3 225.0 302.5 222.8Q303.8 220.7 306.0 218.9Q308.2 217.1 311.6 216.1Q315.0 215.1 318.9 215.5Q322.9 215.9 324.6 218.3Q326.3 220.6 327.1 222.8Z" fill="#1450c8" opacity="0.3"/></g>
<g filter="url(#dp2)"><path d="M229.9 217.4Q230.2 220.0 230.3 222.9Q230.4 225.8 228.7 227.9Q226.9 230.0 224.6 229.9Q222.2 229.8 219.5 230.7Q216.8 231.7 216.4 228.1Q215.9 224.5 213.7 222.2Q211.5 220.0 212.3 216.7Q213.1 213.5 215.6 212.2Q218.0 211.0 220.1 208.8Q222.2 206.6 224.2 209.1Q226.2 211.6 227.9 213.2Q229.5 214.8 229.9 217.4Z" fill="#1aa0c8" opacity="0.95"/><path d="M227.7 217.9Q227.4 219.5 227.5 221.0Q227.7 222.5 226.6 223.6Q225.5 224.7 224.0 225.1Q222.5 225.6 221.3 224.6Q220.1 223.6 218.3 223.3Q216.5 223.0 217.1 221.2Q217.6 219.5 217.7 218.1Q217.8 216.8 218.4 215.1Q219.0 213.4 220.7 213.6Q222.5 213.8 223.9 214.2Q225.4 214.5 226.7 215.4Q228.0 216.4 227.7 217.9Z" fill="#19e6e0" opacity="0.6"/><path d="M245.2 222.8Q246.5 224.5 245.4 226.3Q244.2 228.2 243.4 230.1Q242.6 232.1 240.8 232.7Q239.0 233.2 237.1 232.8Q235.2 232.4 233.8 230.8Q232.4 229.1 232.9 226.8Q233.3 224.5 233.9 222.9Q234.5 221.3 235.3 219.8Q236.1 218.4 237.5 217.3Q239.0 216.2 240.7 216.8Q242.4 217.4 243.2 219.2Q243.9 221.1 245.2 222.8Z" fill="#1aa0c8" opacity="0.95"/><path d="M243.1 222.6Q243.4 224.0 242.5 225.0Q241.6 226.0 241.3 227.5Q241.1 228.9 239.8 228.3Q238.5 227.7 237.3 228.2Q236.1 228.7 235.2 227.7Q234.3 226.7 234.1 225.3Q233.9 224.0 234.7 223.0Q235.5 222.0 235.7 220.6Q236.0 219.1 237.2 219.7Q238.5 220.2 239.6 220.1Q240.6 219.9 241.8 220.6Q242.9 221.2 243.1 222.6Z" fill="#19e6e0" opacity="0.6"/><path d="M273.8 226.2Q274.2 228.0 274.3 230.0Q274.4 232.1 272.8 233.9Q271.3 235.7 268.8 236.8Q266.2 237.9 264.0 236.4Q261.8 234.8 260.3 233.2Q258.9 231.7 258.3 229.9Q257.7 228.0 258.1 226.0Q258.4 224.0 260.3 223.0Q262.3 222.0 264.3 220.4Q266.2 218.7 268.3 220.3Q270.3 221.8 271.8 223.1Q273.3 224.4 273.8 226.2Z" fill="#1aa0c8" opacity="0.95"/><path d="M271.3 226.4Q272.7 227.5 271.2 228.6Q269.7 229.6 269.0 230.9Q268.4 232.2 266.7 232.4Q265.0 232.6 263.8 231.7Q262.5 230.9 260.8 230.5Q259.2 230.1 259.6 228.8Q260.0 227.5 260.2 226.5Q260.4 225.4 260.9 224.0Q261.4 222.6 263.2 222.2Q265.0 221.8 266.8 222.1Q268.7 222.5 269.3 223.9Q269.8 225.3 271.3 226.4Z" fill="#19e6e0" opacity="0.6"/><path d="M290.0 216.8Q290.6 217.8 289.4 218.5Q288.2 219.3 287.8 220.5Q287.3 221.6 285.4 221.1Q283.5 220.7 282.1 220.6Q280.7 220.5 279.8 219.9Q278.8 219.3 278.6 218.5Q278.3 217.8 277.7 216.7Q277.0 215.6 278.4 214.8Q279.8 214.1 281.7 214.0Q283.5 213.9 285.1 214.3Q286.7 214.6 288.0 215.2Q289.3 215.8 290.0 216.8Z" fill="#1aa0c8" opacity="0.95"/><path d="M298.3 252.0Q299.9 253.0 298.2 254.0Q296.5 255.0 295.7 256.3Q295.0 257.7 292.4 257.8Q289.8 258.0 287.2 257.7Q284.7 257.5 283.9 256.2Q283.1 255.0 282.1 254.0Q281.0 253.0 281.2 251.8Q281.4 250.5 283.6 250.0Q285.7 249.4 287.7 248.8Q289.8 248.1 291.5 249.0Q293.3 249.9 295.0 250.4Q296.8 250.9 298.3 252.0Z" fill="#1aa0c8" opacity="0.95"/><path d="M295.4 252.4Q295.8 253.0 296.1 253.8Q296.5 254.6 295.4 255.3Q294.3 256.1 292.4 256.0Q290.5 255.9 288.7 255.9Q286.8 256.0 286.0 255.2Q285.2 254.4 284.4 253.7Q283.6 253.0 283.9 252.2Q284.2 251.3 286.2 251.2Q288.2 251.2 289.4 250.7Q290.5 250.3 292.2 250.3Q293.9 250.2 294.5 251.0Q295.0 251.8 295.4 252.4Z" fill="#19e6e0" opacity="0.6"/><path d="M230.6 228.6Q230.9 229.5 231.3 230.7Q231.7 232.0 230.3 232.5Q228.9 233.0 227.7 233.8Q226.5 234.7 225.4 233.7Q224.3 232.7 222.6 232.4Q220.9 232.1 221.1 230.8Q221.3 229.5 222.0 228.6Q222.6 227.7 223.3 226.9Q224.1 226.1 225.3 225.5Q226.5 224.9 227.5 225.7Q228.6 226.6 229.5 227.1Q230.4 227.7 230.6 228.6Z" fill="#1aa0c8" opacity="0.95"/></g>
<g filter="url(#dp1)"><path d="M228.4 220.9Q228.5 221.5 228.3 222.1Q228.2 222.7 227.1 222.6Q226.1 222.5 225.3 222.2Q224.4 221.8 223.7 221.5Q223.0 221.2 222.6 220.7Q222.1 220.1 222.1 219.7Q222.0 219.2 222.0 218.5Q221.9 217.9 222.9 217.9Q223.9 218.0 224.8 218.3Q225.6 218.6 226.7 218.8Q227.8 219.0 228.0 219.7Q228.2 220.4 228.4 220.9Z" fill="#7dff70" opacity="0.9"/><path d="M228.0 220.8Q227.8 221.1 227.9 221.5Q227.9 222.0 227.4 222.1Q226.8 222.2 226.1 221.9Q225.3 221.7 224.8 221.3Q224.3 221.0 224.0 220.6Q223.7 220.3 223.4 219.9Q223.2 219.4 223.5 219.2Q223.8 218.9 224.3 218.8Q224.8 218.6 225.5 218.8Q226.3 219.1 227.0 219.4Q227.8 219.6 228.0 220.1Q228.3 220.6 228.0 220.8Z" fill="#ffe000" opacity="0.9"/><path d="M242.3 225.2Q242.1 226.1 241.3 226.4Q240.4 226.8 239.5 226.7Q238.7 226.6 237.9 226.4Q237.0 226.2 236.2 225.6Q235.4 225.0 235.1 224.1Q234.7 223.2 235.5 222.6Q236.3 222.0 236.5 221.0Q236.8 220.1 237.8 220.6Q238.8 221.2 239.6 221.2Q240.5 221.3 241.1 221.9Q241.8 222.6 242.1 223.4Q242.4 224.3 242.3 225.2Z" fill="#7dff70" opacity="0.9"/><path d="M241.2 224.6Q241.1 225.1 240.7 225.3Q240.3 225.6 239.8 225.5Q239.3 225.5 238.8 225.3Q238.3 225.1 237.9 224.8Q237.4 224.4 237.4 223.9Q237.3 223.4 237.0 222.7Q236.7 221.9 237.4 221.8Q238.1 221.7 238.6 221.7Q239.2 221.7 239.8 221.9Q240.4 222.2 240.9 222.6Q241.5 222.9 241.3 223.5Q241.2 224.1 241.2 224.6Z" fill="#ff7a00" opacity="0.9"/><path d="M276.6 224.3Q276.6 225.5 276.4 226.6Q276.1 227.7 275.1 228.2Q274.1 228.8 273.1 229.1Q272.0 229.4 271.1 228.8Q270.2 228.3 269.2 227.9Q268.3 227.4 267.3 226.5Q266.4 225.5 266.8 224.2Q267.1 223.0 268.6 222.8Q270.1 222.5 271.1 222.0Q272.0 221.5 272.9 222.1Q273.8 222.7 275.2 222.9Q276.5 223.1 276.6 224.3Z" fill="#7dff70" opacity="0.9"/><path d="M276.3 224.5Q276.6 225.5 276.3 226.5Q276.0 227.5 275.1 228.0Q274.1 228.5 273.2 228.6Q272.2 228.7 271.6 228.2Q270.9 227.7 270.4 227.2Q269.9 226.8 269.0 226.1Q268.2 225.5 268.6 224.6Q269.1 223.8 269.8 223.2Q270.4 222.6 271.3 222.7Q272.2 222.9 273.1 222.8Q273.9 222.8 274.9 223.2Q275.9 223.5 276.3 224.5Z" fill="#ffe000" opacity="0.95"/><path d="M284.0 230.3Q284.4 231.5 283.0 232.3Q281.7 233.1 281.6 234.6Q281.5 236.0 279.7 235.6Q278.0 235.1 276.9 234.8Q275.8 234.4 275.0 233.8Q274.3 233.1 273.9 232.3Q273.4 231.5 272.7 230.2Q272.0 228.9 273.2 227.9Q274.5 226.9 276.2 227.6Q278.0 228.2 279.2 228.2Q280.5 228.3 282.0 228.7Q283.5 229.1 284.0 230.3Z" fill="#ffe000" opacity="0.4"/><path d="M299.9 244.4Q300.3 246.0 298.7 247.1Q297.1 248.3 296.5 249.9Q296.0 251.5 293.7 250.9Q291.5 250.4 289.1 251.1Q286.7 251.9 284.8 250.7Q283.0 249.5 282.8 247.7Q282.7 246.0 284.4 244.9Q286.0 243.8 287.2 243.0Q288.3 242.1 289.9 241.8Q291.5 241.4 293.4 241.4Q295.3 241.3 297.4 242.0Q299.4 242.8 299.9 244.4Z" fill="#ffe000" opacity="0.3"/></g>
<g filter="url(#dp0)"><path d="M283.8 230.8Q284.3 231.8 283.5 232.7Q282.7 233.6 282.4 234.9Q282.1 236.3 280.4 236.2Q278.6 236.1 277.3 235.7Q276.0 235.3 274.6 234.7Q273.2 234.2 272.6 233.0Q271.9 231.8 272.4 230.6Q272.8 229.3 274.1 228.5Q275.3 227.6 277.0 227.7Q278.6 227.7 279.9 228.2Q281.1 228.7 282.2 229.3Q283.4 229.8 283.8 230.8Z" fill="#b00c06" opacity="1"/><path d="M296.6 229.3Q297.5 230.6 296.7 231.9Q295.9 233.2 294.6 233.8Q293.2 234.4 291.9 235.7Q290.6 237.0 289.2 235.9Q287.8 234.8 286.0 234.3Q284.3 233.7 284.8 232.1Q285.4 230.6 285.8 229.5Q286.3 228.4 287.0 227.2Q287.6 226.0 289.1 226.0Q290.6 225.9 292.4 225.6Q294.2 225.2 295.0 226.6Q295.8 228.0 296.6 229.3Z" fill="#b00c06" opacity="1"/><path d="M299.3 245.4Q298.8 247.0 297.9 248.1Q297.0 249.2 295.5 250.0Q294.1 250.8 292.2 250.6Q290.3 250.4 288.7 249.7Q287.0 249.0 284.4 248.1Q281.7 247.2 283.0 245.5Q284.3 243.9 285.1 242.7Q285.9 241.6 286.9 240.0Q287.9 238.5 290.3 239.1Q292.6 239.7 294.2 240.7Q295.8 241.8 297.8 242.8Q299.8 243.8 299.3 245.4Z" fill="#b00c06" opacity="1"/><path d="M240.9 223.5Q241.3 223.8 240.9 224.0Q240.6 224.3 240.4 224.5Q240.2 224.8 239.9 224.8Q239.5 224.8 239.1 224.9Q238.7 225.0 238.4 224.7Q238.1 224.4 238.0 224.1Q237.9 223.8 238.1 223.5Q238.4 223.2 238.6 223.0Q238.8 222.8 239.2 222.6Q239.5 222.4 239.9 222.5Q240.3 222.6 240.4 222.9Q240.6 223.2 240.9 223.5Z" fill="#b00c06" opacity="0.9"/><path d="M273.6 224.8Q273.5 225.2 273.7 225.7Q274.0 226.2 273.3 226.3Q272.7 226.3 272.4 226.8Q272.0 227.2 271.6 226.8Q271.3 226.4 270.9 226.2Q270.6 225.9 270.2 225.6Q269.7 225.2 270.0 224.8Q270.2 224.4 270.5 223.9Q270.8 223.5 271.4 223.5Q272.0 223.5 272.6 223.5Q273.1 223.6 273.4 224.0Q273.8 224.4 273.6 224.8Z" fill="#ff7a00" opacity="0.9"/></g>
<path d="M200.5 215.2L279.3 269.5L351.7 233.0" stroke="#9fc0f0" stroke-width="0.5" fill="none" opacity="0.55"/>
<polygon points="200.5,215.2 279.3,269.5 351.7,233.0 351.7,235.6 277.9,274.7 200.5,214.0" fill="#0b1478" opacity="0.55"/>
</g>
<path d="M200.5 214.0L277.9 274.7L351.7 235.6" stroke="#3a5fc0" stroke-width="0.4" fill="none" opacity="0.7"/>
<path d="M277.9 274.7L277.9 289.4" stroke="#2a4aa8" stroke-width="0.4" opacity="0.6"/>
<rect x="194.9" y="262.6" width="42.9" height="17.2" fill="#fff" stroke="#d0d0d0" stroke-width="0.5"/>
<rect x="196.1" y="267.0" width="40.8" height="2.6" fill="url(#jethalf)"/>
<text x="210" y="265.8" font-size="3" text-anchor="middle" fill="#333">As</text>
<text x="197.2" y="277.5" font-size="3.6" text-anchor="middle" fill="#222">0</text>
<line x1="197.2" x2="197.2" y1="270.2" y2="271.2" stroke="#888" stroke-width="0.3"/>
<text x="208.0" y="277.5" font-size="3.6" text-anchor="middle" fill="#222">400</text>
<line x1="208.0" x2="208.0" y1="270.2" y2="271.2" stroke="#888" stroke-width="0.3"/>
<text x="220.0" y="277.5" font-size="3.6" text-anchor="middle" fill="#222">600</text>
<line x1="220.0" x2="220.0" y1="270.2" y2="271.2" stroke="#888" stroke-width="0.3"/>
<text x="232.2" y="277.5" font-size="3.6" text-anchor="middle" fill="#222">800</text>
<line x1="232.2" x2="232.2" y1="270.2" y2="271.2" stroke="#888" stroke-width="0.3"/>
<text x="206.7" y="287.8" font-size="3.4" font-weight="bold" fill="#00d030">Y</text>
<text x="213.3" y="285.4" font-size="3.4" font-weight="bold" fill="#1030ff">Z</text>
<text x="220.9" y="288.6" font-size="3.4" font-weight="bold" fill="#f01010">X</text>
<path d="M214.3 286.0L214.3 290.0" stroke="#99b" stroke-width="0.4"/><circle cx="209.9" cy="287.4" r="0.6" fill="#00d030"/><circle cx="219.3" cy="288.0" r="0.6" fill="#f01010"/>
<clipPath id="crope"><rect x="371" y="150" width="179" height="153"/></clipPath><g clip-path="url(#crope)">
<path d="M363.9 223.6L453.4 182.3M363.9 223.6L454.1 298.3M369.6 228.3L458.9 186.5M369.5 221.0L459.6 295.2M375.2 232.9L464.4 190.7M375.1 218.4L465.0 292.2M380.8 237.6L469.9 194.9M380.7 215.9L470.4 289.2M386.5 242.3L475.3 199.1M386.3 213.3L475.9 286.1M392.1 246.9L480.8 203.3M391.9 210.7L481.3 283.1M397.8 251.6L486.3 207.5M397.5 208.1L486.7 280.0M403.4 256.3L491.8 211.7M403.1 205.5L492.2 276.9M409.0 261.0L497.3 215.9M408.7 203.0L497.6 273.9M414.7 265.6L502.8 220.1M414.3 200.4L503.1 270.9M420.3 270.3L508.2 224.3M419.9 197.8L508.5 267.8M425.9 275.0L513.7 228.5M425.4 195.2L513.9 264.8M431.6 279.6L519.2 232.7M431.0 192.6L519.4 261.7M437.2 284.3L524.7 236.9M436.6 190.0L524.8 258.6M442.8 289.0L530.2 241.1M442.2 187.5L530.3 255.6M448.5 293.6L535.7 245.3M447.8 184.9L535.7 252.6M454.1 298.3L541.1 249.5M453.4 182.3L541.1 249.5" stroke="#e3e3e3" stroke-width="0.5" fill="none"/>
<polygon points="363.9,209.1 453.4,162.2 453.4,182.3 363.9,223.6" fill="#f3f3f3"/>
<polygon points="453.4,162.2 541.1,231.5 541.1,249.5 453.4,182.3" fill="#f1f1f1"/>
<path d="M363.9 209.1L363.9 223.6M371.4 205.2L371.4 220.2M378.9 201.3L378.9 216.7M386.3 197.4L386.3 213.3M393.8 193.5L393.8 209.8M401.2 189.6L401.2 206.4M408.7 185.7L408.7 203.0M416.1 181.7L416.1 199.5M423.6 177.8L423.6 196.1M431.0 173.9L431.0 192.6M438.5 170.0L438.5 189.2M445.9 166.1L445.9 185.7M453.4 162.2L453.4 182.3M453.4 162.2L453.4 182.3M460.2 167.5L460.2 187.5M466.9 172.9L466.9 192.6M473.7 178.2L473.7 197.8M480.4 183.5L480.4 203.0M487.1 188.9L487.1 208.1M493.9 194.2L493.9 213.3M500.6 199.5L500.6 218.5M507.4 204.8L507.4 223.7M514.1 210.2L514.1 228.8M520.9 215.5L520.9 234.0M527.6 220.8L527.6 239.2M534.4 226.2L534.4 244.3M541.1 231.5L541.1 249.5" stroke="#aaaaaa" stroke-width="0.7" fill="none"/>
</g>
<polygon points="378.2,214.3 455.7,275.0 455.7,289.7 378.2,230.1" fill="#0b1478"/>
<polygon points="455.7,275.0 529.8,235.9 529.8,249.6 455.7,289.7" fill="#0a1270"/>
<clipPath id="clipe"><polygon points="378.2,214.3 384.2,211.0 392.2,207.8 400.3,204.0 406.2,199.1 412.3,195.1 418.3,191.3 424.3,189.1 432.4,186.2 440.3,184.2 447.3,182.2 451.6,179.2 454.6,181.2 458.2,183.3 463.2,187.0 471.2,191.2 478.2,197.1 483.3,203.1 489.2,207.0 496.2,212.0 503.3,217.9 511.3,223.8 518.3,228.8 525.3,232.3 529.8,235.9 455.7,275.0"/></clipPath>
<polygon points="378.2,214.3 384.2,211.0 392.2,207.8 400.3,204.0 406.2,199.1 412.3,195.1 418.3,191.3 424.3,189.1 432.4,186.2 440.3,184.2 447.3,182.2 451.6,179.2 454.6,181.2 458.2,183.3 463.2,187.0 471.2,191.2 478.2,197.1 483.3,203.1 489.2,207.0 496.2,212.0 503.3,217.9 511.3,223.8 518.3,228.8 525.3,232.3 529.8,235.9 455.7,275.0" fill="#0a1286"/>
<g clip-path="url(#clipe)">
<rect x="376" y="177" width="156" height="102" filter="url(#nzd)"/>
<rect x="376" y="177" width="156" height="102" filter="url(#nzk)"/>
<path d="M378.2 216.8 L384.2 213.5 L392.2 210.3 L400.3 206.5 L406.2 201.6 L412.3 197.6 L418.3 193.8 L424.3 191.6 L432.4 188.7 L440.3 186.7 L447.3 184.7" stroke="#061a70" stroke-width="6" fill="none" opacity="0.55" filter="url(#bl2)"/>
<g filter="url(#bl3)"><path d="M432.6 199.8Q432.0 202.0 432.6 204.2Q433.1 206.3 430.2 208.0Q427.2 209.6 423.1 210.2Q419.0 210.9 415.1 210.0Q411.2 209.2 408.6 207.6Q406.0 206.0 404.8 204.0Q403.7 202.0 404.5 199.9Q405.4 197.8 408.5 196.5Q411.6 195.2 415.3 195.2Q419.0 195.3 422.2 195.7Q425.4 196.1 429.3 196.9Q433.2 197.6 432.6 199.8Z" fill="#1450c8" opacity="0.6"/><path d="M456.9 192.5Q457.6 194.0 456.8 195.5Q455.9 197.0 453.9 198.5Q451.9 200.0 448.0 200.6Q444.0 201.3 440.2 200.5Q436.4 199.8 434.2 198.4Q431.9 197.0 430.7 195.5Q429.6 194.0 430.3 192.4Q431.0 190.7 434.2 189.9Q437.5 189.0 440.7 187.8Q444.0 186.6 447.4 187.7Q450.9 188.8 453.5 189.9Q456.1 190.9 456.9 192.5Z" fill="#1450c8" opacity="0.55"/><path d="M427.2 201.4Q427.4 202.5 427.4 203.7Q427.4 204.9 425.4 205.4Q423.5 205.9 421.7 206.7Q420.0 207.5 417.9 207.1Q415.7 206.7 414.7 205.6Q413.6 204.6 412.5 203.5Q411.4 202.5 412.3 201.4Q413.2 200.3 414.4 199.3Q415.7 198.3 417.8 198.2Q420.0 198.0 421.9 198.4Q423.8 198.8 425.4 199.5Q427.0 200.2 427.2 201.4Z" fill="#1aa0c8" opacity="0.3"/><path d="M498.1 209.9Q498.8 213.0 496.4 215.3Q494.0 217.7 491.8 219.5Q489.6 221.4 486.3 223.3Q483.0 225.3 479.8 223.2Q476.6 221.2 474.1 219.5Q471.7 217.8 469.3 215.4Q466.9 213.0 469.1 210.5Q471.3 208.1 473.8 206.3Q476.4 204.6 479.7 203.0Q483.0 201.4 486.7 202.5Q490.4 203.6 493.9 205.2Q497.4 206.9 498.1 209.9Z" fill="#1450c8" opacity="0.35"/><path d="M422.0 221.9Q423.6 224.0 422.8 226.4Q422.0 228.8 419.4 231.0Q416.9 233.3 412.2 233.3Q407.5 233.3 403.0 233.1Q398.5 232.9 395.2 231.0Q391.8 229.2 391.8 226.6Q391.7 224.0 391.2 221.2Q390.7 218.4 395.3 217.5Q400.0 216.6 403.7 215.5Q407.5 214.4 412.1 214.6Q416.8 214.8 418.6 217.3Q420.4 219.7 422.0 221.9Z" fill="#1450c8" opacity="0.7"/><path d="M454.3 221.4Q455.1 224.5 454.6 227.8Q454.1 231.1 452.3 234.1Q450.5 237.2 447.3 238.0Q444.0 238.8 441.1 237.3Q438.2 235.7 435.8 233.6Q433.4 231.4 432.3 228.0Q431.2 224.5 432.7 221.3Q434.2 218.1 436.3 215.8Q438.3 213.5 441.2 213.1Q444.0 212.8 446.9 212.9Q449.9 213.0 451.6 215.7Q453.4 218.4 454.3 221.4Z" fill="#1450c8" opacity="0.85"/><path d="M431.3 212.2Q431.9 213.5 431.7 215.0Q431.5 216.5 429.4 216.9Q427.2 217.3 425.6 218.4Q424.0 219.5 422.1 218.8Q420.2 218.0 419.2 216.9Q418.2 215.8 416.9 214.6Q415.6 213.5 416.0 212.0Q416.3 210.5 418.2 209.6Q420.1 208.8 422.0 208.8Q424.0 208.7 425.9 208.8Q427.9 208.9 429.3 209.9Q430.7 210.9 431.3 212.2Z" fill="#1450c8" opacity="0.7"/><path d="M479.8 249.0Q480.8 250.0 479.4 250.9Q477.9 251.7 476.8 252.6Q475.7 253.4 473.6 253.5Q471.5 253.7 469.2 253.7Q467.0 253.7 466.1 252.7Q465.2 251.7 464.9 250.9Q464.7 250.0 464.9 249.1Q465.2 248.3 466.4 247.5Q467.5 246.8 469.5 246.5Q471.5 246.2 473.7 246.3Q475.8 246.5 477.3 247.3Q478.7 248.0 479.8 249.0Z" fill="#1450c8" opacity="0.7"/><path d="M403.0 233.3Q402.8 234.9 401.1 235.3Q399.4 235.6 397.8 235.8Q396.3 235.9 394.9 234.9Q393.5 233.9 392.3 232.7Q391.0 231.6 390.8 230.1Q390.7 228.6 391.0 227.3Q391.4 226.0 392.6 225.4Q393.8 224.8 395.3 224.8Q396.7 224.8 398.2 225.4Q399.6 226.0 401.3 227.1Q403.0 228.1 403.1 229.8Q403.2 231.6 403.0 233.3Z" fill="#1450c8" opacity="0.5"/></g>
<g filter="url(#dp2)"><path d="M404.4 219.6Q405.2 220.3 404.0 220.9Q402.7 221.5 402.6 222.5Q402.4 223.5 400.7 223.6Q399.0 223.6 397.9 223.0Q396.9 222.3 395.4 222.1Q394.0 221.9 393.3 221.1Q392.5 220.3 392.9 219.4Q393.2 218.4 394.6 218.0Q396.0 217.5 397.5 217.3Q399.0 217.2 400.2 217.6Q401.4 218.0 402.5 218.4Q403.6 218.8 404.4 219.6Z" fill="#1aa0c8" opacity="0.95"/><path d="M422.3 225.0Q423.0 226.2 421.9 227.4Q420.8 228.5 420.1 229.5Q419.3 230.6 417.9 230.8Q416.5 231.0 415.3 230.5Q414.1 230.0 412.6 229.5Q411.1 229.0 410.2 227.6Q409.3 226.2 409.9 224.7Q410.4 223.1 412.2 222.8Q414.0 222.4 415.2 221.2Q416.5 220.1 418.3 220.4Q420.1 220.7 420.8 222.2Q421.5 223.7 422.3 225.0Z" fill="#1aa0c8" opacity="0.95"/><path d="M419.9 224.5Q419.9 225.5 419.4 226.2Q418.9 227.0 418.4 227.7Q417.9 228.4 417.0 228.8Q416.0 229.2 415.3 228.5Q414.5 227.7 413.3 227.6Q412.1 227.5 412.6 226.5Q413.0 225.5 413.0 224.7Q413.0 224.0 413.6 223.4Q414.3 222.9 415.1 222.5Q416.0 222.0 416.8 222.6Q417.6 223.1 418.7 223.3Q419.8 223.6 419.9 224.5Z" fill="#19e6e0" opacity="0.55"/><path d="M429.7 212.8Q429.7 213.9 429.6 214.9Q429.4 215.9 428.2 216.4Q427.0 216.9 425.8 217.4Q424.6 217.8 423.0 217.8Q421.5 217.7 420.3 217.0Q419.0 216.2 418.6 215.0Q418.1 213.9 419.4 213.1Q420.7 212.3 421.2 211.4Q421.8 210.4 423.2 210.6Q424.6 210.8 425.8 210.8Q427.0 210.9 428.3 211.3Q429.6 211.8 429.7 212.8Z" fill="#1aa0c8" opacity="0.95"/><path d="M453.5 216.2Q454.1 217.2 452.8 217.9Q451.5 218.7 451.0 219.7Q450.6 220.6 449.0 221.3Q447.5 222.0 445.7 221.7Q443.8 221.3 443.4 220.1Q443.0 218.9 441.4 218.0Q439.9 217.2 441.4 216.3Q442.8 215.4 443.7 214.7Q444.6 214.0 446.1 213.9Q447.5 213.8 449.1 213.7Q450.7 213.6 451.9 214.4Q453.0 215.2 453.5 216.2Z" fill="#1aa0c8" opacity="0.95"/><path d="M447.5 215.0Q447.2 215.5 447.5 216.0Q447.8 216.6 446.9 216.7Q446.1 216.7 445.5 217.2Q445.0 217.6 444.1 217.6Q443.3 217.5 443.1 216.9Q443.0 216.3 442.3 215.9Q441.6 215.5 441.9 215.0Q442.2 214.4 442.7 214.0Q443.3 213.5 444.1 213.6Q445.0 213.8 445.8 213.7Q446.5 213.7 447.2 214.1Q447.8 214.4 447.5 215.0Z" fill="#19e6e0" opacity="0.8"/><path d="M450.4 228.0Q451.0 229.5 449.9 230.8Q448.8 232.0 447.3 232.8Q445.8 233.6 444.0 233.7Q442.3 233.8 440.6 233.6Q438.9 233.5 437.5 232.7Q436.1 231.9 435.1 230.7Q434.1 229.5 434.0 227.9Q433.9 226.2 436.3 225.7Q438.6 225.2 440.5 225.3Q442.3 225.3 444.4 225.0Q446.4 224.7 448.1 225.6Q449.8 226.6 450.4 228.0Z" fill="#1aa0c8" opacity="0.95"/><path d="M446.7 228.0Q447.3 229.0 446.2 229.7Q445.0 230.5 444.2 231.0Q443.4 231.4 442.5 231.7Q441.5 231.9 440.5 231.7Q439.5 231.5 437.7 231.4Q436.0 231.3 436.1 230.2Q436.3 229.0 436.4 227.9Q436.4 226.9 437.7 226.3Q438.9 225.8 440.2 225.2Q441.5 224.7 442.8 225.2Q444.1 225.8 445.1 226.4Q446.1 227.1 446.7 228.0Z" fill="#19e6e0" opacity="0.65"/><path d="M478.0 249.6Q479.0 250.2 478.1 250.8Q477.2 251.4 475.9 251.6Q474.5 251.8 473.4 252.5Q472.2 253.1 470.8 252.7Q469.3 252.2 468.7 251.7Q468.1 251.1 466.7 250.6Q465.3 250.2 466.8 249.7Q468.2 249.2 469.0 248.8Q469.8 248.4 471.0 247.7Q472.2 247.0 473.5 247.6Q474.9 248.2 476.0 248.6Q477.1 249.0 478.0 249.6Z" fill="#19e6e0" opacity="0.8"/><path d="M462.7 231.2Q464.0 232.0 462.8 232.8Q461.5 233.7 460.7 234.3Q459.9 235.0 458.7 235.3Q457.5 235.7 455.9 235.9Q454.3 236.0 453.2 235.1Q452.1 234.3 452.3 233.1Q452.5 232.0 452.4 230.9Q452.2 229.8 453.5 229.2Q454.8 228.7 456.2 228.5Q457.5 228.3 458.5 228.9Q459.5 229.5 460.5 229.9Q461.5 230.3 462.7 231.2Z" fill="#1aa0c8" opacity="0.95"/></g>
<g filter="url(#dp1)"><path d="M402.9 219.5Q402.9 219.8 402.9 220.1Q402.8 220.4 402.5 220.5Q402.2 220.7 401.9 220.9Q401.5 221.1 401.1 220.9Q400.7 220.8 400.5 220.6Q400.3 220.3 399.7 220.1Q399.2 219.8 399.6 219.5Q400.0 219.2 400.4 219.0Q400.7 218.7 401.1 218.5Q401.5 218.2 402.0 218.3Q402.6 218.4 402.7 218.8Q402.8 219.2 402.9 219.5Z" fill="#7dff70" opacity="0.95"/><path d="M445.9 227.8Q446.3 228.5 445.4 229.0Q444.6 229.4 444.4 230.2Q444.2 230.9 443.1 231.0Q442.0 231.2 441.1 230.8Q440.2 230.4 439.9 229.9Q439.5 229.4 438.9 228.9Q438.2 228.5 438.2 227.8Q438.1 227.1 439.4 227.0Q440.6 227.0 441.3 226.7Q442.0 226.4 442.9 226.5Q443.8 226.6 444.7 226.9Q445.6 227.2 445.9 227.8Z" fill="#7dff70" opacity="0.8"/><path d="M444.7 228.1Q444.5 228.5 444.7 228.9Q444.9 229.3 444.3 229.6Q443.8 229.8 443.1 229.9Q442.5 230.0 441.8 229.9Q441.2 229.9 441.0 229.5Q440.8 229.1 440.3 228.8Q439.8 228.5 439.9 228.1Q440.1 227.7 440.8 227.6Q441.5 227.5 442.0 227.5Q442.5 227.4 443.0 227.5Q443.5 227.5 444.2 227.6Q445.0 227.6 444.7 228.1Z" fill="#ffe000" opacity="0.8"/><path d="M462.0 231.2Q461.5 232.0 461.7 232.7Q461.9 233.4 461.3 234.2Q460.7 235.0 459.1 234.7Q457.5 234.3 456.4 234.2Q455.2 234.1 454.5 233.6Q453.8 233.2 453.7 232.6Q453.6 232.0 453.6 231.4Q453.7 230.8 454.0 229.9Q454.4 229.0 455.9 229.4Q457.5 229.7 458.6 229.8Q459.7 230.0 461.1 230.2Q462.5 230.4 462.0 231.2Z" fill="#ffe000" opacity="0.85"/><path d="M452.8 230.9Q453.7 232.0 453.1 233.3Q452.5 234.6 451.5 235.2Q450.5 235.9 449.5 236.1Q448.5 236.2 447.3 236.4Q446.1 236.6 445.6 235.4Q445.1 234.2 444.3 233.1Q443.5 232.0 444.0 230.7Q444.5 229.4 445.3 228.4Q446.0 227.3 447.3 227.3Q448.5 227.2 449.5 227.7Q450.5 228.2 451.2 229.0Q451.9 229.8 452.8 230.9Z" fill="#ffe000" opacity="0.6"/><path d="M460.8 231.5Q460.8 232.0 460.8 232.5Q460.8 233.1 460.0 233.2Q459.2 233.4 458.6 233.4Q458.0 233.5 457.4 233.4Q456.9 233.3 456.1 233.2Q455.3 233.1 455.5 232.5Q455.7 232.0 455.6 231.5Q455.5 231.0 456.2 230.9Q456.9 230.8 457.5 230.4Q458.0 230.1 458.6 230.4Q459.2 230.6 460.0 230.8Q460.8 230.9 460.8 231.5Z" fill="#ff7a00" opacity="0.9"/></g>
<g filter="url(#dp0)"><path d="M470.0 219.0Q469.7 219.9 469.5 220.6Q469.2 221.3 468.4 221.8Q467.6 222.3 466.5 222.8Q465.4 223.3 464.0 223.1Q462.6 222.9 461.3 222.4Q460.0 221.8 460.7 220.9Q461.3 219.9 461.4 219.2Q461.4 218.5 461.9 217.5Q462.4 216.6 463.9 216.4Q465.4 216.2 466.6 216.8Q467.7 217.4 469.0 217.8Q470.3 218.1 470.0 219.0Z" fill="#b00c06" opacity="1"/><path d="M452.0 230.8Q451.6 232.2 451.7 233.4Q451.8 234.6 451.3 235.9Q450.8 237.1 449.7 237.1Q448.7 237.1 447.7 236.9Q446.8 236.7 446.2 235.7Q445.7 234.6 445.7 233.4Q445.7 232.2 445.3 230.8Q445.0 229.4 445.9 228.7Q446.9 228.0 447.8 227.6Q448.7 227.2 449.5 227.9Q450.2 228.7 451.3 229.1Q452.4 229.4 452.0 230.8Z" fill="#b00c06" opacity="1"/><path d="M473.0 229.7Q473.0 231.1 473.6 232.8Q474.2 234.6 472.7 235.6Q471.2 236.6 469.6 236.5Q468.0 236.3 466.6 236.0Q465.3 235.7 463.5 235.2Q461.8 234.6 461.6 232.9Q461.5 231.1 461.8 229.4Q462.0 227.7 463.2 226.3Q464.4 224.9 466.2 224.7Q468.0 224.5 469.4 225.5Q470.7 226.4 471.8 227.4Q472.9 228.3 473.0 229.7Z" fill="#b00c06" opacity="1"/><path d="M478.8 245.4Q479.5 246.8 477.9 247.7Q476.4 248.5 475.0 249.5Q473.7 250.5 471.3 249.2Q469.0 248.0 466.5 248.0Q464.1 248.0 463.4 246.7Q462.7 245.4 463.0 244.4Q463.2 243.4 463.5 242.4Q463.7 241.4 465.1 240.9Q466.5 240.3 468.6 240.2Q470.6 240.1 472.9 240.8Q475.1 241.5 476.6 242.7Q478.0 244.0 478.8 245.4Z" fill="#b00c06" opacity="1"/><path d="M458.8 232.0Q459.3 232.2 458.9 232.5Q458.4 232.8 458.1 232.9Q457.8 233.1 457.4 233.2Q457.0 233.3 456.5 233.3Q456.0 233.4 455.7 233.1Q455.5 232.8 455.2 232.5Q455.0 232.2 455.2 232.0Q455.4 231.7 455.8 231.6Q456.3 231.4 456.6 231.2Q457.0 230.9 457.6 230.9Q458.2 231.0 458.2 231.4Q458.3 231.8 458.8 232.0Z" fill="#b00c06" opacity="0.9"/></g>
<path d="M378.2 215.5L457.1 269.8L529.8 233.3" stroke="#9fc0f0" stroke-width="0.5" fill="none" opacity="0.55"/>
<polygon points="378.2,215.5 457.1,269.8 529.8,233.3 529.8,235.9 455.7,275.0 378.2,214.3" fill="#0b1478" opacity="0.55"/>
</g>
<path d="M378.2 214.3L455.7 275.0L529.8 235.9" stroke="#3a5fc0" stroke-width="0.4" fill="none" opacity="0.7"/>
<path d="M455.7 275.0L455.7 289.7" stroke="#2a4aa8" stroke-width="0.4" opacity="0.6"/>
<polygon points="389,223.6 405,234.9 405,238 389,226.7" fill="#2f62b0" opacity="0.65"/>
<rect x="371.9" y="263.1" width="44.5" height="16.7" fill="#fff" stroke="#d0d0d0" stroke-width="0.5"/>
<rect x="373.1" y="267.5" width="42.0" height="2.6" fill="url(#jethalf)"/>
<text x="388" y="266.1" font-size="3" text-anchor="middle" fill="#333">Au</text>
<text x="375.4" y="278.0" font-size="3.6" text-anchor="middle" fill="#222">0.2</text>
<line x1="375.4" x2="375.4" y1="270.7" y2="271.7" stroke="#888" stroke-width="0.3"/>
<text x="391.0" y="278.0" font-size="3.6" text-anchor="middle" fill="#222">0.4</text>
<line x1="391.0" x2="391.0" y1="270.7" y2="271.7" stroke="#888" stroke-width="0.3"/>
<text x="405.9" y="278.0" font-size="3.6" text-anchor="middle" fill="#222">0.6</text>
<line x1="405.9" x2="405.9" y1="270.7" y2="271.7" stroke="#888" stroke-width="0.3"/>
<text x="383.9" y="288.3" font-size="3.4" font-weight="bold" fill="#00d030">Y</text>
<text x="390.5" y="285.9" font-size="3.4" font-weight="bold" fill="#1030ff">Z</text>
<text x="398.1" y="289.1" font-size="3.4" font-weight="bold" fill="#f01010">X</text>
<path d="M391.5 286.5L391.5 290.5" stroke="#99b" stroke-width="0.4"/><circle cx="387.1" cy="287.9" r="0.6" fill="#00d030"/><circle cx="396.5" cy="288.5" r="0.6" fill="#f01010"/>
<text class="pl" x="35.7" y="175.7">c</text>
<text class="pl" x="206.9" y="175.4">d</text>
<text class="pl" x="389.5" y="175.8">e</text>
</svg></body></html>
